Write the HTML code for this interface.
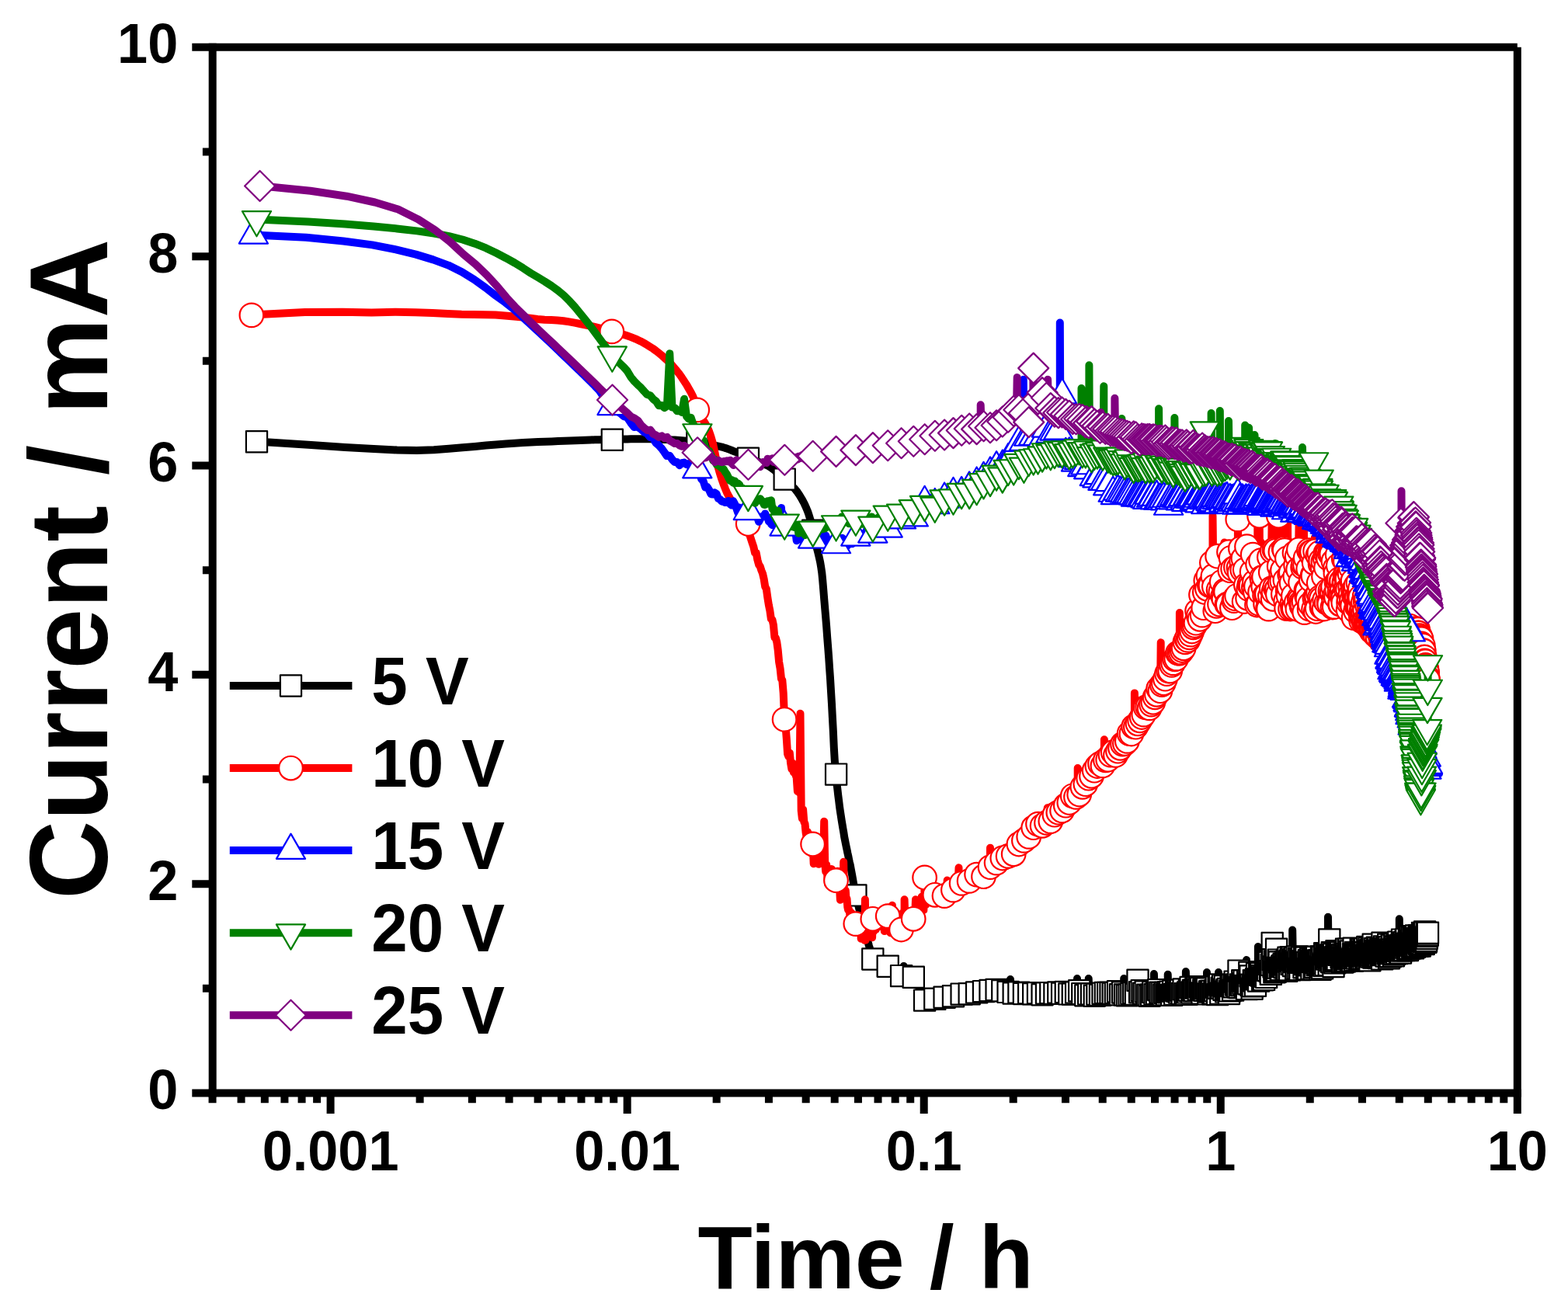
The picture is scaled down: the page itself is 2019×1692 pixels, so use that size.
<!DOCTYPE html>
<html lang="en"><head><meta charset="utf-8"><title>Current vs Time</title>
<style>html,body{margin:0;padding:0;background:#fff;overflow:hidden}svg{display:block}text{font-family:"Liberation Sans", sans-serif;font-weight:bold;fill:#000}</style>
</head><body>
<svg width="2019" height="1692" viewBox="0 0 2019 1692" role="img" aria-label="Current versus time at 5 to 25 V">
<rect width="2019" height="1692" fill="#fff"/>
<defs>
<marker id="m0" markerUnits="userSpaceOnUse" markerWidth="60" markerHeight="60" refX="30" refY="30" viewBox="0 0 60 60" orient="0"><g transform="translate(30 30)" fill="#fff" stroke="#000000" stroke-width="2.2" stroke-linejoin="round"><rect x="-13.6" y="-13.6" width="27.2" height="27.2"/></g></marker>
<marker id="m1" markerUnits="userSpaceOnUse" markerWidth="60" markerHeight="60" refX="30" refY="30" viewBox="0 0 60 60" orient="0"><g transform="translate(30 30)" fill="#fff" stroke="#ff0000" stroke-width="2.2" stroke-linejoin="round"><circle r="15.3"/></g></marker>
<marker id="m2" markerUnits="userSpaceOnUse" markerWidth="60" markerHeight="60" refX="30" refY="30" viewBox="0 0 60 60" orient="0"><g transform="translate(30 30)" fill="#fff" stroke="#0000ff" stroke-width="2.2" stroke-linejoin="round"><path d="M0 -21.48 L18.60 10.74 H-18.60 Z"/></g></marker>
<marker id="m3" markerUnits="userSpaceOnUse" markerWidth="60" markerHeight="60" refX="30" refY="30" viewBox="0 0 60 60" orient="0"><g transform="translate(30 30)" fill="#fff" stroke="#008000" stroke-width="2.2" stroke-linejoin="round"><path d="M0 21.48 L18.60 -10.74 H-18.60 Z"/></g></marker>
<marker id="m4" markerUnits="userSpaceOnUse" markerWidth="60" markerHeight="60" refX="30" refY="30" viewBox="0 0 60 60" orient="0"><g transform="translate(30 30)" fill="#fff" stroke="#800080" stroke-width="2.2" stroke-linejoin="round"><path d="M0 -19.5 L19.5 0 L0 19.5 L-19.5 0 Z"/></g></marker>
</defs>
<g fill="none" stroke-linejoin="round" stroke-linecap="round">
<path d="M330.5,568.5 397.0,572.8 444.3,576.0 481.1,578.1 511.2,579.5 536.6,580.0 558.7,579.2 578.2,577.8 595.6,576.3 611.4,575.0 625.8,573.6 639.0,572.4 651.3,571.4 662.7,570.7 673.4,570.1 683.5,569.6 692.9,569.1 701.9,568.7 710.4,568.4 718.5,568.1 726.2,567.8 733.5,567.5 740.6,567.2 747.3,567.0 753.8,566.7 760.1,566.5 766.1,566.3 771.9,566.2 777.6,566.0 783.0,565.9 788.3,566.0 793.4,565.7 798.3,565.6 803.1,565.5 807.8,565.4 812.3,565.3 816.8,565.3 821.1,565.2 825.3,565.2 829.4,565.2 833.3,565.2 837.2,565.3 841.1,565.4 844.8,565.5 848.4,565.6 852.0,565.7 855.5,565.9 858.9,566.1 862.3,566.2 865.5,566.4 868.8,566.6 871.9,566.8 875.0,567.0 878.1,567.2 881.0,567.4 884.0,567.7 886.9,567.9 889.7,568.3 892.5,568.6 895.2,569.0 897.9,569.4 900.6,569.8 903.2,570.2 905.8,570.7 908.3,571.1 910.8,571.6 913.2,572.1 915.7,572.6 918.1,573.1 920.4,573.6 922.7,574.1 925.0,574.6 927.3,575.1 929.5,575.6 931.7,576.3 933.9,576.9 936.0,577.6 938.1,578.4 940.2,579.2 942.3,580.0 944.3,580.8 946.3,581.6 948.3,582.4 950.3,583.3 952.2,584.3 954.1,585.3 956.0,586.3 957.9,587.3 959.7,588.3 961.6,589.2 963.4,590.0 965.2,590.8 967.0,591.5 968.7,592.1 970.4,592.7 972.2,593.3 973.9,593.9 975.5,594.4 977.2,595.0 978.9,595.6 980.5,596.2 982.1,596.8 983.7,597.4 985.3,598.1 986.9,598.8 988.4,599.6 990.0,600.4 991.5,601.3 993.0,602.3 994.5,603.4 996.0,604.5 997.5,605.7 998.9,606.9 1000.4,608.2 1001.8,609.4 1003.3,610.7 1004.7,612.0 1006.1,613.3 1007.5,614.6 1008.8,615.8 1010.2,616.8 1011.6,618.3 1012.9,619.4 1014.2,620.6 1015.6,621.8 1016.9,623.0 1018.2,624.2 1019.5,625.5 1020.7,626.7 1022.0,628.0 1023.3,629.3 1024.5,630.7 1025.8,632.4 1027.0,633.9 1028.2,635.7 1029.4,637.5 1030.6,639.5 1031.8,641.5 1033.0,643.6 1034.2,645.7 1035.4,648.0 1036.5,650.4 1037.7,653.0 1038.8,655.6 1040.0,658.5 1041.1,661.6 1042.2,665.2 1043.4,669.1 1044.5,673.3 1045.6,678.0 1046.7,682.9 1047.8,687.9 1048.8,692.8 1049.9,697.4 1051.0,701.9 1052.0,706.5 1053.1,710.6 1054.1,714.9 1055.2,719.6 1056.2,724.3 1057.2,730.3 1058.3,737.8 1059.3,748.1 1060.3,760.0 1061.3,772.5 1062.3,784.4 1063.3,796.0 1064.3,808.3 1065.2,820.8 1066.2,833.7 1067.2,846.8 1068.1,860.5 1069.1,874.8 1070.0,890.1 1071.0,906.7 1071.9,924.1 1072.9,942.5 1073.8,962.6 1074.7,977.9 1075.6,989.8 1076.6,996.8 1077.5,1009.0 1078.4,1016.7 1079.3,1024.6 1080.2,1031.6 1081.0,1038.3 1081.9,1044.7 1082.8,1050.6 1083.7,1056.5 1084.6,1061.8 1085.4,1066.8 1086.3,1071.8 1087.1,1077.2 1088.0,1081.8 1088.8,1085.9 1089.7,1090.2 1090.5,1094.0 1091.4,1098.5 1092.2,1102.0 1093.0,1106.1 1093.8,1110.1 1094.7,1113.5 1095.5,1117.8 1096.3,1122.1 1097.1,1126.4 1097.9,1130.8 1098.7,1135.6 1099.5,1140.1 1100.3,1144.5 1101.1,1148.6 1101.9,1152.6 1102.6,1155.7 1103.4,1159.3 1104.2,1162.1 1105.0,1164.8 1105.7,1167.9 1106.5,1171.2 1107.3,1174.0 1108.0,1176.4 1108.8,1179.3 1109.5,1181.9 1110.3,1184.8 1111.0,1187.6 1111.7,1189.8 1112.5,1192.9 1113.2,1195.5 1113.9,1198.3 1114.7,1200.8 1115.4,1203.4 1116.1,1206.2 1116.8,1209.5 1117.5,1212.7 1118.2,1215.2 1119.0,1218.1 1119.7,1220.4 1120.4,1222.5 1121.1,1226.0 1121.8,1229.5 1122.4,1232.3 1123.1,1234.3 1123.8,1234.7 1124.5,1235.6 1125.2,1235.8 1125.9,1236.5 1126.5,1237.1 1127.2,1237.6 1127.9,1238.4 1128.6,1239.2 1129.2,1239.1 1129.9,1239.5 1130.5,1239.9 1131.2,1240.2 1131.9,1240.5 1132.5,1240.3 1133.2,1240.7 1133.8,1241.4 1134.4,1241.4 1135.1,1241.0 1135.7,1241.3 1136.4,1241.8 1137.0,1241.8 1137.6,1241.6 1138.3,1242.3 1138.9,1241.9 1139.5,1242.3 1140.1,1242.5 1140.8,1242.3 1141.4,1243.2 1142.0,1243.5 1142.6,1243.3 1143.2,1243.9 1143.8,1244.2 1144.4,1244.0 1145.0,1244.5 1145.6,1245.4 1146.5,1246.2 1146.5,1246.7 1147.7,1247.2 1147.7,1247.8 1148.9,1248.2 1148.9,1249.1 1150.1,1249.5 1150.1,1250.1 1151.2,1250.7 1152.4,1251.1 1152.4,1252.3 1153.6,1252.9 1154.7,1253.6 1155.8,1254.4 1157.0,1254.9 1158.1,1255.8 1159.2,1255.6 1160.3,1256.1 1161.4,1256.0 1161.4,1256.5 1162.5,1258.0 1162.5,1256.9 1163.6,1257.0 1163.6,1244.0 1164.6,1256.9 1164.6,1256.2 1165.7,1256.2 1165.7,1256.8 1166.8,1256.9 1166.8,1257.6 1167.8,1257.1 1168.9,1258.3 1168.9,1257.4 1169.9,1257.0 1170.9,1257.2 1170.9,1257.6 1172.0,1257.4 1173.0,1257.4 1173.0,1258.6 1174.0,1258.6 1174.0,1257.1 1175.0,1257.4 1176.0,1258.0 1177.0,1259.1 1177.0,1259.6 1178.0,1260.2 1178.0,1260.6 1179.0,1261.2 1179.0,1262.2 1180.0,1263.6 1180.0,1264.6 1181.0,1265.4 1181.0,1267.0 1181.9,1268.0 1181.9,1269.1 1182.9,1269.9 1182.9,1271.1 1183.9,1272.3 1184.8,1274.7 1184.8,1276.2 1185.7,1277.3 1185.7,1279.2 1186.7,1280.7 1186.7,1282.2 1187.6,1282.5 1187.6,1284.2 1188.6,1286.0 1188.6,1287.6 1189.5,1288.9 1190.4,1287.8 1191.3,1287.6 1192.2,1288.0 1193.1,1287.8 1193.1,1287.0 1194.0,1287.4 1194.9,1287.6 1195.8,1287.5 1196.7,1287.5 1197.6,1287.6 1197.6,1287.0 1198.5,1286.7 1198.5,1287.6 1199.3,1287.3 1200.2,1287.2 1200.2,1286.7 1201.1,1286.4 1201.9,1286.7 1202.8,1285.9 1203.6,1286.0 1204.5,1285.4 1204.5,1285.9 1205.3,1285.8 1206.2,1285.9 1207.0,1286.4 1207.8,1286.0 1208.6,1285.5 1209.5,1285.4 1209.5,1284.8 1210.3,1284.9 1211.1,1285.4 1211.9,1284.8 1211.9,1285.6 1212.7,1285.7 1213.5,1285.5 1213.5,1284.9 1214.3,1284.5 1215.1,1284.5 1215.9,1283.7 1216.7,1283.5 1217.4,1283.0 1218.2,1283.5 1219.0,1282.8 1219.0,1283.5 1219.8,1284.5 1219.8,1283.4 1220.5,1284.3 1220.5,1283.5 1221.3,1283.2 1222.1,1282.5 1222.1,1283.5 1222.8,1283.3 1222.8,1282.7 1223.6,1282.8 1223.6,1282.3 1224.3,1282.3 1224.3,1283.0 1225.1,1282.1 1225.8,1282.2 1225.8,1282.7 1226.6,1283.4 1226.6,1282.8 1227.3,1282.4 1228.0,1282.3 1228.8,1282.9 1229.5,1282.8 1229.5,1282.3 1230.2,1282.4 1230.2,1281.2 1230.9,1281.7 1230.9,1280.8 1231.6,1281.9 1232.4,1281.4 1233.1,1279.8 1233.1,1280.9 1233.8,1281.5 1233.8,1280.6 1234.5,1280.8 1234.5,1281.6 1235.2,1280.5 1235.9,1281.0 1236.6,1281.0 1236.6,1280.5 1237.3,1280.0 1238.0,1280.5 1238.0,1279.8 1238.6,1280.8 1238.6,1280.1 1239.3,1279.2 1239.3,1279.7 1240.0,1279.3 1240.7,1278.7 1240.7,1279.4 1241.4,1279.4 1242.0,1279.4 1242.0,1278.7 1242.7,1280.1 1243.4,1280.0 1243.4,1278.6 1244.0,1279.6 1244.7,1279.8 1245.4,1279.2 1246.0,1278.8 1246.0,1279.2 1246.7,1278.7 1247.3,1279.6 1248.0,1279.0 1248.0,1279.4 1248.6,1279.3 1248.6,1278.6 1249.3,1278.5 1249.3,1279.2 1249.9,1278.8 1249.9,1277.8 1250.6,1278.8 1250.6,1278.0 1251.2,1277.3 1251.2,1276.8 1251.8,1277.8 1251.8,1278.9 1252.5,1279.4 1252.5,1278.3 1253.1,1276.7 1253.7,1276.5 1254.4,1277.8 1255.0,1277.5 1255.6,1276.8 1255.6,1277.5 1256.2,1277.8 1256.8,1278.2 1256.8,1277.4 1257.4,1277.6 1258.1,1276.9 1258.1,1277.6 1258.7,1277.3 1258.7,1276.3 1259.3,1276.7 1259.3,1277.8 1259.9,1278.1 1259.9,1276.7 1260.5,1276.5 1261.2,1276.1 1261.2,1277.8 1262.1,1276.5 1262.1,1275.9 1263.0,1277.4 1263.0,1276.2 1263.9,1275.9 1263.9,1276.3 1264.8,1276.4 1264.8,1275.8 1265.7,1275.2 1265.7,1276.5 1266.5,1275.5 1266.5,1277.5 1267.4,1276.3 1267.4,1277.0 1268.3,1275.0 1268.3,1275.6 1269.1,1275.7 1269.1,1274.5 1270.0,1275.6 1270.0,1274.6 1270.8,1276.4 1271.7,1276.0 1271.7,1274.3 1272.5,1274.0 1272.5,1273.0 1273.4,1274.8 1273.4,1276.9 1274.2,1274.7 1274.2,1275.7 1275.0,1274.4 1275.0,1275.2 1275.8,1274.1 1275.8,1274.6 1276.7,1275.9 1276.7,1277.1 1277.5,1275.2 1277.5,1274.4 1278.3,1276.4 1278.3,1274.1 1279.1,1275.2 1279.1,1274.6 1279.9,1275.7 1279.9,1273.8 1280.7,1274.9 1280.7,1272.9 1281.5,1272.4 1281.5,1274.1 1282.3,1274.1 1282.3,1273.6 1283.1,1275.1 1283.1,1274.2 1283.9,1275.1 1283.9,1275.7 1284.7,1275.0 1284.7,1273.3 1285.4,1273.9 1285.4,1273.1 1286.2,1273.7 1286.2,1276.5 1287.0,1275.4 1287.0,1274.2 1287.7,1272.2 1288.5,1274.0 1288.5,1275.0 1289.3,1275.9 1289.3,1273.3 1290.0,1273.1 1290.0,1274.0 1290.8,1272.7 1290.8,1275.5 1291.5,1276.3 1291.5,1273.9 1292.3,1273.4 1292.3,1275.9 1293.0,1273.6 1293.0,1275.3 1293.8,1274.3 1293.8,1273.6 1294.5,1273.2 1294.5,1272.2 1295.2,1273.8 1295.2,1275.2 1296.0,1276.1 1296.0,1275.5 1296.7,1276.9 1296.7,1275.8 1297.4,1276.2 1298.1,1276.0 1298.1,1277.1 1298.9,1275.8 1298.9,1274.5 1299.6,1276.2 1300.3,1276.5 1300.3,1278.2 1301.0,1278.0 1301.0,1261.0 1301.7,1275.2 1301.7,1276.0 1302.4,1274.3 1302.4,1274.9 1303.1,1275.5 1303.1,1276.7 1303.8,1277.4 1303.8,1275.0 1304.5,1277.7 1304.5,1276.3 1305.2,1279.4 1305.2,1277.5 1305.9,1278.1 1306.5,1278.4 1306.5,1277.5 1307.2,1277.1 1307.2,1279.2 1307.9,1276.1 1307.9,1277.8 1308.6,1278.9 1308.6,1277.2 1309.3,1278.0 1309.3,1277.1 1309.9,1277.5 1309.9,1278.7 1310.6,1278.8 1310.6,1276.2 1311.3,1277.5 1311.3,1278.1 1311.9,1278.0 1311.9,1277.6 1312.6,1277.6 1312.6,1279.5 1313.2,1279.8 1313.2,1276.5 1313.9,1276.7 1313.9,1278.6 1314.6,1280.3 1314.6,1277.8 1315.2,1279.7 1315.2,1278.1 1315.9,1280.5 1315.9,1279.7 1316.5,1276.7 1316.5,1279.2 1317.1,1278.5 1317.1,1279.6 1317.8,1279.8 1317.8,1279.4 1318.4,1278.3 1318.4,1279.2 1319.1,1280.2 1319.1,1277.1 1319.7,1278.0 1319.7,1279.4 1320.3,1279.8 1320.3,1279.2 1320.9,1279.4 1321.6,1279.6 1321.6,1281.2 1322.2,1279.8 1322.2,1278.5 1322.8,1279.8 1323.4,1277.8 1323.4,1280.8 1324.1,1278.6 1324.1,1277.8 1324.7,1276.8 1324.7,1278.4 1325.3,1277.9 1325.3,1278.6 1325.9,1281.0 1325.9,1279.9 1326.5,1280.5 1326.5,1279.1 1327.1,1280.9 1327.1,1281.5 1327.7,1280.4 1327.7,1279.1 1328.4,1280.3 1328.4,1279.2 1329.2,1280.2 1329.2,1281.2 1330.0,1278.9 1330.0,1280.8 1330.8,1280.5 1330.8,1278.5 1331.6,1280.3 1331.6,1279.0 1332.4,1280.2 1332.4,1279.0 1333.1,1276.7 1333.1,1278.5 1333.9,1278.5 1333.9,1279.1 1334.7,1279.9 1334.7,1280.6 1335.4,1280.1 1335.4,1277.9 1336.2,1277.6 1336.2,1279.5 1337.0,1277.7 1337.0,1280.7 1337.7,1281.3 1337.7,1280.9 1338.5,1280.8 1338.5,1278.4 1339.2,1278.9 1339.2,1279.8 1340.0,1280.6 1340.0,1281.5 1340.7,1278.1 1340.7,1277.2 1341.5,1279.6 1341.5,1277.2 1342.2,1279.3 1342.2,1282.8 1342.9,1281.9 1342.9,1276.9 1343.7,1277.1 1343.7,1281.3 1344.4,1281.5 1344.4,1278.6 1345.1,1280.0 1345.1,1278.6 1345.8,1276.8 1345.8,1277.4 1346.6,1279.8 1346.6,1276.6 1347.3,1276.9 1347.3,1280.0 1348.0,1281.3 1348.0,1277.6 1348.7,1278.7 1348.7,1279.9 1349.4,1280.3 1349.4,1278.9 1350.1,1276.9 1350.1,1281.4 1350.8,1279.5 1350.8,1277.2 1351.5,1279.7 1351.5,1282.1 1352.2,1281.7 1352.2,1280.2 1352.9,1278.0 1352.9,1279.3 1353.6,1279.8 1353.6,1276.4 1354.3,1277.4 1354.3,1281.1 1354.9,1279.5 1354.9,1280.2 1355.6,1277.4 1355.6,1278.3 1356.3,1281.1 1356.3,1279.3 1357.0,1280.7 1357.0,1276.5 1357.6,1276.9 1357.6,1279.1 1358.3,1280.8 1358.3,1279.1 1359.0,1280.3 1359.0,1281.5 1359.6,1280.0 1359.6,1279.1 1360.3,1280.6 1360.3,1281.2 1361.0,1281.1 1361.0,1276.0 1361.6,1279.8 1361.6,1281.1 1362.3,1277.5 1362.3,1279.9 1362.9,1280.3 1362.9,1277.2 1363.6,1277.0 1363.6,1279.8 1364.2,1277.0 1364.2,1277.6 1364.8,1278.7 1364.8,1281.5 1365.5,1278.0 1365.5,1276.4 1366.1,1279.3 1366.1,1280.3 1366.8,1276.8 1366.8,1280.9 1367.4,1280.7 1367.4,1277.7 1368.0,1277.1 1368.0,1276.0 1368.7,1276.9 1368.7,1281.1 1369.3,1278.6 1369.3,1280.1 1369.9,1276.1 1369.9,1277.7 1370.5,1280.6 1370.5,1278.3 1371.1,1283.0 1371.1,1279.7 1371.8,1281.7 1371.8,1277.1 1372.4,1277.2 1372.4,1281.0 1373.0,1279.8 1373.0,1277.0 1373.6,1280.7 1373.6,1279.1 1374.2,1277.8 1374.2,1280.1 1374.8,1279.7 1374.8,1276.5 1375.4,1277.5 1375.4,1279.1 1376.1,1280.2 1376.1,1276.9 1376.8,1275.9 1376.8,1280.3 1377.6,1277.7 1377.6,1280.2 1378.3,1279.3 1378.3,1281.3 1379.1,1277.8 1379.1,1277.3 1379.8,1277.2 1379.8,1280.4 1380.5,1282.6 1380.5,1279.9 1381.3,1280.4 1381.3,1278.2 1382.0,1277.7 1382.0,1280.6 1382.7,1280.3 1382.7,1276.9 1383.4,1279.3 1383.4,1277.0 1384.1,1279.3 1384.1,1280.7 1384.8,1280.3 1384.8,1276.7 1385.6,1278.5 1385.6,1275.3 1386.3,1276.4 1386.3,1281.1 1387.0,1280.4 1387.0,1260.0 1387.7,1279.6 1387.7,1276.9 1388.4,1280.9 1388.4,1276.5 1389.1,1281.0 1389.1,1277.7 1389.7,1279.8 1389.7,1275.5 1390.4,1277.9 1390.4,1279.9 1391.1,1279.9 1391.1,1277.7 1391.8,1278.8 1391.8,1275.6 1392.5,1276.6 1392.5,1280.5 1393.2,1281.1 1393.2,1279.7 1393.8,1280.1 1393.8,1277.0 1394.5,1278.7 1394.5,1281.7 1395.2,1276.8 1395.2,1280.4 1395.8,1280.5 1395.8,1279.3 1396.5,1278.9 1396.5,1280.9 1397.2,1277.1 1397.2,1280.8 1397.8,1281.4 1397.8,1277.5 1398.5,1276.4 1398.5,1280.7 1399.1,1279.3 1399.1,1275.7 1399.8,1278.2 1399.8,1276.5 1400.4,1277.7 1400.4,1279.9 1401.1,1281.9 1401.1,1280.7 1401.7,1280.6 1401.7,1260.0 1402.4,1281.6 1402.4,1278.3 1403.0,1276.2 1403.0,1280.6 1403.6,1276.3 1403.6,1281.4 1404.3,1281.1 1404.3,1276.2 1404.9,1280.4 1404.9,1281.7 1405.5,1280.2 1405.5,1276.4 1406.2,1278.0 1406.2,1279.6 1406.8,1278.1 1406.8,1280.8 1407.4,1278.5 1407.4,1280.1 1408.0,1279.3 1408.0,1275.7 1408.6,1279.4 1408.6,1277.1 1409.3,1280.0 1409.3,1281.9 1409.9,1276.6 1409.9,1281.0 1410.5,1276.2 1410.5,1280.9 1411.1,1276.3 1411.1,1279.8 1411.7,1279.6 1411.7,1275.0 1412.3,1282.3 1412.3,1276.2 1412.9,1282.2 1412.9,1277.3 1413.6,1280.1 1413.6,1276.0 1414.3,1275.8 1414.3,1278.2 1415.0,1277.5 1415.0,1276.3 1415.7,1279.9 1415.7,1277.3 1416.4,1280.9 1416.4,1277.8 1417.1,1280.1 1417.1,1276.2 1417.8,1275.7 1417.8,1277.5 1418.5,1277.5 1418.5,1282.7 1419.2,1282.1 1419.2,1279.1 1419.9,1280.4 1419.9,1276.5 1420.6,1280.2 1420.6,1275.5 1421.3,1277.1 1421.3,1279.8 1422.0,1281.9 1422.0,1279.1 1422.6,1281.7 1422.6,1280.3 1423.3,1276.5 1423.3,1278.5 1424.0,1278.5 1424.0,1281.0 1424.7,1277.2 1424.7,1280.0 1425.3,1281.0 1425.3,1275.4 1426.0,1275.0 1426.0,1277.5 1426.7,1275.9 1426.7,1279.1 1427.3,1280.2 1427.3,1276.5 1428.0,1280.5 1428.0,1278.5 1428.6,1278.0 1428.6,1281.6 1429.3,1281.9 1429.3,1277.6 1429.9,1279.2 1429.9,1275.5 1430.6,1275.9 1430.6,1277.4 1431.2,1279.2 1431.2,1275.5 1431.9,1279.7 1431.9,1276.0 1432.5,1279.3 1432.5,1276.8 1433.2,1280.0 1433.2,1276.8 1433.8,1280.9 1433.8,1275.1 1434.4,1275.4 1434.4,1279.2 1435.1,1279.0 1435.1,1275.4 1435.7,1277.7 1435.7,1280.6 1436.3,1277.0 1436.3,1280.8 1436.9,1281.9 1436.9,1277.2 1437.6,1281.4 1437.6,1276.3 1438.2,1276.9 1438.2,1280.4 1438.8,1279.2 1438.8,1282.1 1439.4,1276.3 1439.4,1279.2 1440.0,1279.8 1440.0,1281.5 1440.6,1276.8 1440.6,1281.4 1441.2,1277.8 1441.2,1281.1 1441.9,1278.8 1441.9,1281.7 1442.5,1280.5 1442.5,1275.4 1443.1,1280.9 1443.1,1275.9 1443.7,1275.9 1443.7,1280.5 1444.4,1280.8 1444.4,1275.2 1445.1,1274.7 1445.1,1279.3 1445.8,1276.8 1445.8,1281.2 1446.5,1278.4 1446.5,1274.4 1447.2,1279.6 1447.2,1260.0 1447.8,1280.0 1447.8,1277.5 1448.5,1281.8 1448.5,1280.2 1449.2,1280.1 1449.2,1277.4 1449.9,1275.5 1449.9,1279.6 1450.5,1278.1 1450.5,1281.2 1451.2,1279.6 1451.2,1281.4 1451.9,1280.7 1451.9,1277.8 1452.5,1278.6 1452.5,1275.2 1453.2,1280.5 1453.2,1275.1 1453.9,1280.6 1453.9,1278.3 1454.5,1281.6 1454.5,1278.6 1455.2,1279.0 1455.2,1275.3 1455.8,1276.7 1455.8,1279.9 1456.5,1276.6 1456.5,1281.9 1457.1,1279.2 1457.1,1275.3 1457.8,1274.0 1457.8,1281.2 1458.4,1279.3 1458.4,1274.2 1459.0,1281.2 1459.0,1279.5 1459.7,1274.3 1459.7,1280.8 1460.3,1275.1 1460.3,1278.1 1460.9,1274.8 1460.9,1279.8 1461.6,1280.7 1461.6,1277.4 1462.2,1281.6 1462.2,1276.1 1462.8,1281.4 1462.8,1275.8 1463.4,1281.8 1463.4,1276.0 1464.0,1274.9 1464.0,1280.8 1464.7,1276.2 1464.7,1281.2 1465.3,1262.0 1465.3,1282.3 1465.9,1279.5 1465.9,1276.1 1466.5,1278.4 1466.5,1280.3 1467.1,1274.8 1467.1,1276.1 1467.7,1273.2 1467.7,1279.5 1468.3,1282.4 1468.3,1274.0 1469.0,1277.0 1469.0,1280.8 1469.6,1280.8 1469.6,1275.7 1470.3,1281.7 1470.3,1275.3 1471.0,1277.6 1471.0,1281.5 1471.7,1276.2 1471.7,1280.9 1472.3,1282.1 1472.3,1275.9 1473.0,1276.8 1473.0,1281.1 1473.7,1281.2 1473.7,1277.2 1474.3,1276.0 1474.3,1282.2 1475.0,1275.3 1475.0,1281.1 1475.7,1276.3 1475.7,1281.9 1476.3,1281.1 1476.3,1274.0 1477.0,1274.3 1477.0,1282.2 1477.6,1273.3 1477.6,1281.8 1478.3,1281.3 1478.3,1274.8 1478.9,1276.5 1478.9,1281.0 1479.6,1275.5 1479.6,1279.1 1480.2,1281.9 1480.2,1277.2 1480.9,1273.8 1480.9,1280.9 1481.5,1272.7 1481.5,1277.9 1482.1,1281.9 1482.1,1274.8 1482.8,1280.0 1482.8,1282.1 1483.4,1280.2 1483.4,1273.6 1484.0,1275.8 1484.0,1282.7 1484.6,1280.6 1484.6,1275.2 1485.3,1274.6 1485.3,1280.2 1485.9,1278.8 1485.9,1254.0 1486.5,1274.6 1486.5,1281.0 1487.1,1274.6 1487.1,1282.0 1487.7,1281.5 1487.7,1279.0 1488.3,1281.5 1488.3,1275.5 1488.9,1282.0 1488.9,1275.9 1489.5,1275.6 1489.5,1281.8 1490.2,1279.4 1490.2,1275.8 1490.8,1281.6 1490.8,1276.0 1491.4,1273.7 1491.4,1278.8 1492.1,1272.9 1492.1,1279.4 1492.7,1281.5 1492.7,1274.7 1493.4,1280.7 1493.4,1272.2 1494.1,1275.9 1494.1,1283.2 1494.7,1281.6 1494.7,1278.7 1495.4,1282.6 1495.4,1274.3 1496.0,1279.6 1496.0,1276.5 1496.7,1273.7 1496.7,1279.5 1497.3,1282.0 1497.3,1274.4 1498.0,1275.5 1498.0,1282.7 1498.6,1281.0 1498.6,1273.2 1499.3,1274.6 1499.3,1281.2 1499.9,1280.0 1499.9,1274.9 1500.6,1280.2 1500.6,1275.4 1501.2,1282.1 1501.2,1273.4 1501.8,1279.8 1501.8,1272.4 1502.5,1280.4 1502.5,1273.0 1503.1,1282.1 1503.1,1273.8 1503.7,1281.0 1503.7,1254.7 1504.3,1274.6 1504.3,1281.3 1505.0,1274.7 1505.0,1281.8 1505.6,1282.2 1505.6,1271.6 1506.2,1280.8 1506.2,1271.3 1506.8,1273.3 1506.8,1276.9 1507.4,1272.5 1507.4,1281.3 1508.0,1272.8 1508.0,1280.2 1508.6,1281.0 1508.6,1274.4 1509.2,1280.1 1509.2,1275.3 1509.8,1273.1 1509.8,1280.9 1510.5,1280.6 1510.5,1272.9 1511.1,1282.0 1511.1,1274.9 1511.7,1281.5 1511.7,1275.7 1512.4,1281.6 1512.4,1274.6 1513.1,1273.0 1513.1,1281.7 1513.7,1283.4 1513.7,1276.2 1514.4,1279.2 1514.4,1271.1 1515.0,1281.3 1515.0,1273.3 1515.7,1279.8 1515.7,1272.8 1516.3,1273.0 1516.3,1278.9 1517.0,1274.2 1517.0,1279.2 1517.6,1281.7 1517.6,1274.3 1518.2,1281.9 1518.2,1273.4 1518.9,1272.9 1518.9,1280.4 1519.5,1272.5 1519.5,1280.2 1520.1,1282.9 1520.1,1273.6 1520.8,1274.9 1520.8,1280.8 1521.4,1279.5 1521.4,1272.5 1522.0,1282.0 1522.0,1273.7 1522.6,1281.1 1522.6,1275.6 1523.2,1274.1 1523.2,1279.4 1523.9,1280.2 1523.9,1273.6 1524.5,1281.4 1524.5,1277.0 1525.1,1282.4 1525.1,1275.0 1525.7,1281.8 1525.7,1276.2 1526.3,1275.5 1526.3,1281.2 1526.9,1281.8 1526.9,1251.0 1527.5,1281.8 1527.5,1273.9 1528.1,1282.3 1528.1,1275.2 1528.8,1281.8 1528.8,1274.1 1529.5,1271.4 1529.5,1281.3 1530.1,1270.3 1530.1,1279.0 1530.8,1281.0 1530.8,1272.8 1531.4,1271.6 1531.4,1280.7 1532.1,1281.9 1532.1,1274.7 1532.7,1275.6 1532.7,1282.6 1533.3,1271.2 1533.3,1279.3 1534.0,1271.0 1534.0,1280.5 1534.6,1275.7 1534.6,1280.9 1535.2,1280.5 1535.2,1273.2 1535.9,1273.1 1535.9,1281.7 1536.5,1272.1 1536.5,1278.8 1537.1,1272.7 1537.1,1280.8 1537.8,1271.1 1537.8,1280.6 1538.4,1280.5 1538.4,1271.4 1539.0,1280.1 1539.0,1272.1 1539.6,1270.1 1539.6,1279.5 1540.2,1273.0 1540.2,1270.4 1540.8,1272.1 1540.8,1281.3 1541.4,1281.9 1541.4,1271.4 1542.1,1272.6 1542.1,1280.8 1542.7,1271.2 1542.7,1279.8 1543.3,1280.4 1543.3,1271.7 1543.9,1269.8 1543.9,1281.2 1544.5,1271.7 1544.5,1279.9 1545.2,1270.5 1545.2,1280.5 1545.8,1279.5 1545.8,1271.1 1546.5,1270.9 1546.5,1280.0 1547.1,1271.0 1547.1,1280.1 1547.8,1269.7 1547.8,1279.3 1548.4,1281.2 1548.4,1272.3 1549.0,1274.6 1549.0,1280.9 1549.7,1279.1 1549.7,1270.2 1550.3,1279.8 1550.3,1269.1 1550.9,1270.0 1550.9,1279.8 1551.6,1277.9 1551.6,1269.3 1552.2,1269.1 1552.2,1281.6 1552.8,1277.8 1552.8,1269.9 1553.4,1280.1 1553.4,1269.1 1554.0,1280.5 1554.0,1252.0 1554.7,1270.0 1554.7,1279.2 1555.3,1280.1 1555.3,1269.4 1555.9,1273.2 1555.9,1280.2 1556.5,1280.0 1556.5,1270.2 1557.1,1269.0 1557.1,1280.7 1557.7,1279.9 1557.7,1270.4 1558.3,1279.9 1558.3,1271.3 1559.0,1280.4 1559.0,1268.7 1559.6,1269.9 1559.6,1280.5 1560.3,1268.0 1560.3,1279.7 1560.9,1279.5 1560.9,1269.5 1561.5,1270.9 1561.5,1280.4 1562.2,1279.9 1562.2,1274.4 1562.8,1277.7 1562.8,1269.2 1563.4,1268.9 1563.4,1279.8 1564.1,1267.1 1564.1,1280.5 1564.7,1279.6 1564.7,1268.5 1565.3,1280.8 1565.3,1270.4 1565.9,1266.5 1565.9,1277.6 1566.6,1277.2 1566.6,1267.7 1567.2,1267.1 1567.2,1276.1 1567.8,1267.3 1567.8,1280.3 1568.4,1280.6 1568.4,1269.7 1569.0,1277.3 1569.0,1252.0 1569.6,1273.1 1569.6,1280.0 1570.2,1278.3 1570.2,1266.8 1570.8,1266.5 1570.8,1281.1 1571.4,1279.2 1571.4,1268.1 1572.1,1279.8 1572.1,1268.4 1572.7,1265.9 1572.7,1279.3 1573.3,1279.6 1573.3,1266.0 1574.0,1265.8 1574.0,1278.2 1574.6,1265.9 1574.6,1280.0 1575.2,1266.9 1575.2,1277.9 1575.9,1279.2 1575.9,1266.1 1576.5,1266.8 1576.5,1279.4 1577.1,1265.4 1577.1,1274.2 1577.7,1277.4 1577.7,1264.8 1578.4,1266.6 1578.4,1278.6 1579.0,1265.9 1579.0,1278.8 1579.6,1265.0 1579.6,1278.8 1580.2,1278.6 1580.2,1267.1 1580.8,1276.9 1580.8,1264.5 1581.4,1277.3 1581.4,1262.8 1582.0,1278.1 1582.0,1263.7 1582.7,1264.1 1582.7,1279.2 1583.3,1268.0 1583.3,1278.4 1583.9,1276.6 1583.9,1264.6 1584.5,1264.0 1584.5,1278.5 1585.2,1276.7 1585.2,1265.3 1585.8,1266.1 1585.8,1278.7 1586.4,1276.3 1586.4,1263.4 1587.1,1275.5 1587.1,1262.9 1587.7,1276.5 1587.7,1262.6 1588.3,1263.1 1588.3,1276.4 1588.9,1274.5 1588.9,1261.5 1589.6,1261.3 1589.6,1275.8 1590.2,1262.5 1590.2,1275.9 1590.8,1276.2 1590.8,1263.8 1591.4,1273.6 1591.4,1261.0 1592.0,1276.8 1592.0,1264.1 1592.6,1276.8 1592.6,1266.9 1593.2,1276.3 1593.2,1264.5 1593.9,1273.6 1593.9,1261.6 1594.5,1260.7 1594.5,1275.0 1595.1,1276.2 1595.1,1249.8 1595.7,1267.0 1595.7,1277.2 1596.3,1262.7 1596.3,1276.1 1597.0,1262.9 1597.0,1275.6 1597.6,1259.1 1597.6,1270.3 1598.2,1260.1 1598.2,1274.7 1598.8,1274.7 1598.8,1260.6 1599.5,1272.4 1599.5,1258.1 1600.1,1258.1 1600.1,1273.6 1600.7,1269.8 1600.7,1260.1 1601.3,1260.0 1601.3,1275.2 1601.9,1273.8 1601.9,1259.1 1602.6,1274.5 1602.6,1259.5 1603.2,1258.4 1603.2,1273.6 1603.8,1261.4 1603.8,1274.7 1604.4,1272.9 1604.4,1260.3 1605.0,1236.0 1605.0,1273.0 1605.6,1259.9 1605.6,1274.1 1606.2,1258.8 1606.2,1274.0 1606.8,1274.6 1606.8,1260.4 1607.5,1257.8 1607.5,1273.4 1608.1,1258.6 1608.1,1272.8 1608.7,1272.9 1608.7,1252.0 1609.4,1269.1 1609.4,1256.2 1610.0,1272.0 1610.0,1256.6 1610.6,1273.1 1610.6,1258.1 1611.2,1270.4 1611.2,1256.1 1611.8,1256.7 1611.8,1272.9 1612.5,1272.6 1612.5,1257.4 1613.1,1256.7 1613.1,1271.9 1613.7,1269.0 1613.7,1254.0 1614.3,1255.3 1614.3,1270.4 1614.9,1270.8 1614.9,1256.0 1615.5,1254.3 1615.5,1270.7 1616.1,1257.4 1616.1,1269.3 1616.7,1256.0 1616.7,1269.7 1617.4,1270.0 1617.4,1255.4 1618.0,1270.7 1618.0,1254.5 1618.6,1268.3 1618.6,1253.4 1619.3,1266.9 1619.3,1253.8 1619.9,1269.1 1619.9,1219.0 1620.5,1252.4 1620.5,1267.5 1621.1,1269.7 1621.1,1252.0 1621.7,1251.5 1621.7,1267.3 1622.3,1254.0 1622.3,1267.3 1623.0,1251.0 1623.0,1267.3 1623.6,1253.1 1623.6,1264.9 1624.2,1252.9 1624.2,1264.4 1624.8,1252.9 1624.8,1266.8 1625.4,1249.7 1625.4,1265.1 1626.0,1253.3 1626.0,1265.5 1626.6,1264.7 1626.6,1246.3 1627.2,1245.6 1627.2,1263.4 1627.9,1247.5 1627.9,1262.5 1628.5,1261.3 1628.5,1248.6 1629.1,1245.0 1629.1,1261.5 1629.7,1258.0 1629.7,1244.7 1630.4,1259.4 1630.4,1242.4 1631.0,1257.7 1631.0,1241.6 1631.6,1258.7 1631.6,1241.6 1632.2,1256.6 1632.2,1243.1 1632.8,1240.9 1632.8,1257.6 1633.4,1255.5 1633.4,1240.7 1634.0,1254.1 1634.0,1240.2 1634.6,1253.4 1634.6,1239.3 1635.3,1242.4 1635.3,1254.4 1635.9,1237.5 1635.9,1255.0 1636.5,1255.3 1636.5,1240.9 1637.1,1240.0 1637.1,1253.3 1637.7,1252.5 1637.7,1236.3 1638.4,1253.0 1638.4,1214.2 1639.0,1253.9 1639.0,1235.3 1639.6,1254.7 1639.6,1238.1 1640.2,1253.1 1640.2,1242.5 1640.8,1251.6 1640.8,1234.6 1641.4,1237.0 1641.4,1251.2 1642.0,1233.5 1642.0,1251.4 1642.6,1251.9 1642.6,1238.9 1643.2,1250.0 1643.2,1236.1 1643.9,1250.1 1643.9,1222.0 1644.5,1233.6 1644.5,1251.1 1645.1,1235.5 1645.1,1251.0 1645.7,1251.1 1645.7,1234.5 1646.4,1249.0 1646.4,1235.8 1647.0,1234.2 1647.0,1249.6 1647.6,1233.0 1647.6,1249.6 1648.2,1232.0 1648.2,1246.7 1648.8,1236.6 1648.8,1251.2 1649.4,1248.4 1649.4,1234.7 1650.0,1230.5 1650.0,1248.2 1650.6,1233.0 1650.6,1248.3 1651.2,1233.1 1651.2,1249.2 1651.9,1249.2 1651.9,1232.4 1652.5,1249.1 1652.5,1237.6 1653.1,1234.5 1653.1,1249.3 1653.7,1232.5 1653.7,1248.7 1654.4,1249.3 1654.4,1233.9 1655.0,1249.2 1655.0,1233.7 1655.6,1249.6 1655.6,1237.7 1656.2,1250.0 1656.2,1233.5 1656.8,1250.6 1656.8,1231.9 1657.4,1249.3 1657.4,1233.8 1658.0,1249.3 1658.0,1236.7 1658.6,1249.2 1658.6,1231.2 1659.2,1230.8 1659.2,1248.1 1659.8,1233.3 1659.8,1247.0 1660.5,1248.9 1660.5,1235.1 1661.1,1232.3 1661.1,1248.4 1661.7,1249.5 1661.7,1235.5 1662.3,1232.1 1662.3,1248.8 1662.9,1249.1 1662.9,1234.3 1663.5,1249.3 1663.5,1233.5 1664.2,1247.3 1664.2,1197.6 1664.8,1231.0 1664.8,1250.3 1665.4,1248.3 1665.4,1232.1 1666.0,1248.0 1666.0,1233.9 1666.6,1229.4 1666.6,1249.0 1667.2,1249.1 1667.2,1231.4 1667.8,1247.4 1667.8,1233.1 1668.4,1233.6 1668.4,1249.1 1669.1,1230.6 1669.1,1249.7 1669.7,1247.8 1669.7,1230.0 1670.3,1231.6 1670.3,1249.4 1670.9,1232.1 1670.9,1248.9 1671.5,1249.7 1671.5,1232.1 1672.1,1249.6 1672.1,1229.9 1672.7,1247.4 1672.7,1230.8 1673.3,1249.0 1673.3,1233.7 1673.9,1229.2 1673.9,1248.8 1674.6,1232.0 1674.6,1248.3 1675.2,1248.6 1675.2,1230.1 1675.8,1248.4 1675.8,1235.2 1676.4,1232.1 1676.4,1249.0 1677.0,1249.2 1677.0,1231.1 1677.6,1248.5 1677.6,1232.2 1678.2,1248.5 1678.2,1229.4 1678.9,1248.8 1678.9,1237.0 1679.5,1231.4 1679.5,1248.5 1680.1,1234.2 1680.1,1247.6 1680.7,1230.3 1680.7,1249.2 1681.3,1231.8 1681.3,1248.2 1681.9,1231.0 1681.9,1247.8 1682.5,1248.4 1682.5,1230.5 1683.2,1233.5 1683.2,1247.9 1683.8,1231.3 1683.8,1247.5 1684.4,1230.7 1684.4,1248.4 1685.0,1249.3 1685.0,1229.0 1685.6,1230.0 1685.6,1247.0 1686.2,1229.2 1686.2,1248.0 1686.8,1232.0 1686.8,1248.2 1687.4,1228.9 1687.4,1247.3 1688.0,1232.4 1688.0,1247.7 1688.7,1247.7 1688.7,1232.4 1689.3,1247.9 1689.3,1231.2 1689.9,1230.9 1689.9,1248.0 1690.5,1229.9 1690.5,1247.6 1691.1,1248.6 1691.1,1231.9 1691.7,1246.6 1691.7,1230.0 1692.3,1248.2 1692.3,1229.1 1692.9,1230.1 1692.9,1246.3 1693.5,1247.9 1693.5,1230.1 1694.2,1246.0 1694.2,1229.7 1694.8,1246.4 1694.8,1229.5 1695.4,1246.9 1695.4,1229.0 1696.0,1247.8 1696.0,1229.8 1696.6,1247.9 1696.6,1229.2 1697.2,1231.6 1697.2,1249.1 1697.8,1246.1 1697.8,1229.1 1698.4,1230.3 1698.4,1248.5 1699.0,1233.4 1699.0,1247.5 1699.7,1244.7 1699.7,1227.9 1700.3,1229.0 1700.3,1247.9 1700.9,1245.8 1700.9,1227.5 1701.5,1228.5 1701.5,1246.6 1702.1,1247.8 1702.1,1231.1 1702.7,1227.3 1702.7,1246.7 1703.3,1246.1 1703.3,1229.7 1703.9,1228.1 1703.9,1246.3 1704.5,1245.9 1704.5,1227.3 1705.1,1228.4 1705.1,1246.6 1705.8,1227.5 1705.8,1246.0 1706.4,1245.2 1706.4,1228.4 1707.0,1245.5 1707.0,1227.7 1707.6,1244.5 1707.6,1229.0 1708.2,1245.6 1708.2,1226.7 1708.8,1226.0 1708.8,1245.9 1709.4,1228.0 1709.4,1245.7 1710.0,1244.3 1710.0,1180.7 1710.6,1226.5 1710.6,1243.4 1711.2,1244.9 1711.2,1227.7 1711.9,1243.8 1711.9,1209.7 1712.5,1240.1 1712.5,1226.3 1713.1,1229.0 1713.1,1243.3 1713.7,1242.8 1713.7,1225.7 1714.3,1244.4 1714.3,1224.7 1714.9,1224.8 1714.9,1243.6 1715.5,1243.2 1715.5,1226.2 1716.1,1244.2 1716.1,1229.1 1716.7,1245.1 1716.7,1225.6 1717.3,1244.2 1717.3,1223.3 1718.0,1242.3 1718.0,1224.6 1718.6,1241.3 1718.6,1226.3 1719.2,1243.0 1719.2,1223.9 1719.8,1243.1 1719.8,1225.3 1720.4,1241.4 1720.4,1224.8 1721.0,1241.8 1721.0,1223.4 1721.6,1222.4 1721.6,1240.6 1722.2,1241.6 1722.2,1225.0 1722.8,1241.1 1722.8,1223.6 1723.5,1223.1 1723.5,1239.3 1724.1,1241.1 1724.1,1223.2 1724.7,1224.8 1724.7,1240.6 1725.3,1238.8 1725.3,1224.5 1725.9,1240.0 1725.9,1223.5 1726.5,1222.2 1726.5,1240.2 1727.1,1240.3 1727.1,1224.7 1727.7,1238.2 1727.7,1220.9 1728.3,1221.3 1728.3,1240.1 1728.9,1223.9 1728.9,1239.3 1729.5,1239.4 1729.5,1220.1 1730.1,1224.9 1730.1,1240.5 1730.7,1221.0 1730.7,1239.1 1731.4,1226.3 1731.4,1238.4 1732.0,1238.6 1732.0,1220.0 1732.6,1238.7 1732.6,1222.5 1733.2,1240.3 1733.2,1221.4 1733.8,1222.7 1733.8,1238.9 1734.4,1237.3 1734.4,1221.9 1735.0,1220.2 1735.0,1237.7 1735.6,1220.0 1735.6,1238.3 1736.2,1222.5 1736.2,1237.7 1736.8,1238.6 1736.8,1216.0 1737.4,1220.1 1737.4,1237.9 1738.1,1220.2 1738.1,1237.2 1738.7,1237.9 1738.7,1220.5 1739.3,1220.1 1739.3,1239.6 1739.9,1220.5 1739.9,1236.7 1740.5,1237.4 1740.5,1221.0 1741.1,1221.7 1741.1,1239.2 1741.7,1220.7 1741.7,1237.0 1742.3,1237.3 1742.3,1219.9 1742.9,1220.8 1742.9,1238.2 1743.5,1237.9 1743.5,1220.2 1744.1,1219.3 1744.1,1236.1 1744.7,1220.9 1744.7,1237.7 1745.3,1220.7 1745.3,1238.1 1746.0,1219.6 1746.0,1237.4 1746.6,1220.2 1746.6,1235.4 1747.2,1222.2 1747.2,1238.1 1747.8,1237.3 1747.8,1219.3 1748.4,1236.7 1748.4,1218.9 1749.0,1235.6 1749.0,1219.5 1749.6,1236.2 1749.6,1219.5 1750.2,1219.9 1750.2,1236.1 1750.8,1220.0 1750.8,1237.5 1751.4,1235.8 1751.4,1218.8 1752.0,1236.9 1752.0,1220.3 1752.6,1237.8 1752.6,1218.6 1753.2,1219.0 1753.2,1235.4 1753.9,1219.5 1753.9,1235.3 1754.5,1218.6 1754.5,1235.7 1755.1,1238.2 1755.1,1220.1 1755.7,1234.4 1755.7,1221.4 1756.3,1235.7 1756.3,1218.7 1756.9,1235.3 1756.9,1210.0 1757.5,1235.1 1757.5,1218.4 1758.1,1219.5 1758.1,1236.0 1758.7,1219.4 1758.7,1235.6 1759.3,1220.0 1759.3,1237.0 1760.0,1235.4 1760.0,1218.9 1760.6,1219.2 1760.6,1236.6 1761.2,1235.9 1761.2,1219.1 1761.8,1219.5 1761.8,1235.2 1762.4,1235.4 1762.4,1218.3 1763.0,1235.8 1763.0,1218.3 1763.6,1219.1 1763.6,1236.0 1764.2,1236.4 1764.2,1219.3 1764.8,1235.9 1764.8,1218.9 1765.4,1219.3 1765.4,1235.1 1766.0,1236.4 1766.0,1218.7 1766.6,1218.2 1766.6,1234.3 1767.2,1217.3 1767.2,1235.4 1767.8,1236.0 1767.8,1218.8 1768.4,1237.1 1768.4,1216.0 1769.1,1234.4 1769.1,1220.3 1769.7,1236.1 1769.7,1217.4 1770.3,1235.0 1770.3,1219.1 1770.9,1235.3 1770.9,1218.1 1771.5,1234.5 1771.5,1221.1 1772.1,1234.9 1772.1,1217.5 1772.7,1234.3 1772.7,1220.0 1773.3,1235.0 1773.3,1218.3 1773.9,1234.5 1773.9,1217.8 1774.5,1235.7 1774.5,1216.3 1775.1,1217.2 1775.1,1235.4 1775.7,1234.2 1775.7,1217.0 1776.3,1234.3 1776.3,1219.0 1776.9,1233.8 1776.9,1218.8 1777.6,1218.6 1777.6,1233.3 1778.2,1235.1 1778.2,1219.8 1778.8,1233.1 1778.8,1220.2 1779.4,1217.7 1779.4,1235.1 1780.0,1233.4 1780.0,1214.0 1780.6,1234.1 1780.6,1215.8 1781.2,1217.6 1781.2,1234.8 1781.8,1216.1 1781.8,1234.3 1782.4,1232.4 1782.4,1216.7 1783.0,1232.9 1783.0,1216.7 1783.6,1234.8 1783.6,1216.1 1784.2,1216.8 1784.2,1234.6 1784.8,1232.3 1784.8,1216.1 1785.5,1232.7 1785.5,1217.2 1786.1,1232.8 1786.1,1216.7 1786.7,1217.4 1786.7,1232.8 1787.3,1231.9 1787.3,1215.5 1787.9,1233.6 1787.9,1215.9 1788.5,1233.4 1788.5,1215.4 1789.1,1232.2 1789.1,1215.4 1789.7,1216.0 1789.7,1232.8 1790.3,1231.4 1790.3,1215.7 1790.9,1215.6 1790.9,1230.9 1791.5,1215.0 1791.5,1231.4 1792.1,1214.6 1792.1,1231.4 1792.7,1214.3 1792.7,1231.0 1793.3,1230.8 1793.3,1213.5 1793.9,1230.1 1793.9,1214.5 1794.5,1231.5 1794.5,1216.0 1795.1,1231.8 1795.1,1213.5 1795.8,1212.9 1795.8,1228.2 1796.4,1212.8 1796.4,1229.6 1797.0,1214.2 1797.0,1230.2 1797.6,1211.8 1797.6,1229.8 1798.2,1212.6 1798.2,1228.7 1798.8,1227.6 1798.8,1213.3 1799.4,1212.3 1799.4,1226.9 1800.0,1228.0 1800.0,1210.3 1800.6,1228.0 1800.6,1210.1 1801.2,1228.0 1801.2,1210.6 1801.8,1227.5 1801.8,1183.3 1802.4,1225.9 1802.4,1213.1 1803.0,1226.5 1803.0,1211.3 1803.6,1211.1 1803.6,1226.7 1804.2,1226.7 1804.2,1211.4 1804.8,1226.1 1804.8,1210.7 1805.5,1225.8 1805.5,1209.6 1806.1,1225.0 1806.1,1209.8 1806.7,1209.5 1806.7,1226.3 1807.3,1208.7 1807.3,1224.2 1807.9,1225.5 1807.9,1211.2 1808.5,1210.8 1808.5,1224.2 1809.1,1208.5 1809.1,1223.7 1809.7,1224.0 1809.7,1208.8 1810.3,1225.1 1810.3,1208.2 1810.9,1208.3 1810.9,1223.0 1811.5,1206.7 1811.5,1223.7 1812.1,1223.6 1812.1,1207.0 1812.7,1223.9 1812.7,1207.0 1813.3,1222.1 1813.3,1206.8 1813.9,1207.0 1813.9,1223.3 1814.5,1221.6 1814.5,1205.3 1815.2,1221.7 1815.2,1206.1 1815.8,1206.6 1815.8,1222.9 1816.4,1222.6 1816.4,1205.7 1817.0,1221.4 1817.0,1206.0 1817.6,1207.1 1817.6,1222.3 1818.2,1220.6 1818.2,1204.8 1818.8,1220.3 1818.8,1203.6 1819.4,1204.8 1819.4,1220.6 1820.0,1220.5 1820.0,1205.3 1820.6,1204.7 1820.6,1221.3 1821.2,1204.5 1821.2,1219.9 1821.8,1204.1 1821.8,1219.5 1822.4,1219.8 1822.4,1202.9 1823.0,1219.5 1823.0,1204.9 1823.6,1219.4 1823.6,1203.8 1824.2,1219.5 1824.2,1202.4 1824.8,1218.2 1824.8,1203.6 1825.4,1219.1 1825.4,1203.1 1826.0,1201.8 1826.0,1218.7 1826.7,1218.4 1826.7,1203.0 1827.3,1217.3 1827.3,1204.0 1827.9,1217.2 1827.9,1202.9 1828.5,1217.7 1828.5,1202.2 1829.1,1217.5 1829.1,1201.8 1829.7,1201.5 1829.7,1217.4 1830.3,1200.6 1830.3,1215.7 1830.9,1215.8 1830.9,1201.2 1831.5,1216.0 1831.5,1199.4 1832.1,1200.0 1832.1,1217.3 1832.7,1200.4 1832.7,1216.8 1833.3,1201.5 1833.3,1217.1 1833.9,1215.2 1833.9,1200.0 1834.5,1216.5 1834.5,1198.1 1835.1,1199.3 1835.1,1215.2 1835.7,1199.4 1835.7,1214.8 1836.3,1214.4 1836.3,1199.2 1836.9,1213.7 1836.9,1198.7 1837.5,1199.8 1837.5,1214.1 1838.1,1214.5 1838.1,1200.1 1838.6,1199.5 1838.6,1215.7" stroke="#000000" stroke-width="10"/>
<polyline points="330.5,568.8 788.3,566.3 897.9,569.7 963.4,590.3 1010.2,617.1 1046.7,683.2 1076.6,997.1 1101.9,1152.9 1123.8,1235.0 1143.2,1244.2 1160.6,1256.6 1176.3,1258.3 1190.6,1288.1 1203.8,1286.3 1216.1,1284.2 1227.5,1282.7 1238.1,1280.1 1248.2,1279.7 1257.6,1277.9 1266.5,1276.6 1275.0,1275.5 1283.1,1274.5 1290.8,1275.8 1298.1,1277.4 1305.2,1279.1 1311.9,1278.1 1318.4,1279.5 1324.7,1278.7 1330.7,1279.8 1336.5,1278.7 1342.1,1280.7 1347.5,1279.0 1352.8,1278.6 1357.9,1279.3 1362.8,1278.0 1367.6,1279.3 1372.3,1277.5 1376.8,1279.9 1381.3,1280.0 1385.6,1278.1 1389.7,1275.8 1393.8,1279.6 1397.8,1281.7 1401.7,1279.9 1405.5,1280.1 1409.3,1282.2 1412.9,1280.3 1416.5,1281.2 1420.0,1279.2 1423.4,1278.4 1426.7,1278.4 1430.0,1278.4 1433.2,1279.2 1436.4,1278.6 1439.5,1276.8 1442.5,1280.8 1445.5,1278.1 1448.4,1281.0 1451.3,1281.7 1454.1,1280.9 1456.9,1279.5 1459.7,1278.8 1462.4,1280.3 1465.0,1262.3 1467.6,1277.7 1470.2,1275.6 1472.7,1279.3 1475.2,1277.1 1477.7,1281.1 1480.1,1282.2 1482.5,1281.2 1484.8,1277.6 1487.1,1280.5 1489.4,1279.5 1491.7,1274.6 1493.9,1278.1 1496.1,1278.8 1498.3,1281.1 1500.4,1278.5 1502.5,1280.7 1504.6,1277.7 1506.7,1277.2 1508.7,1281.2 1510.7,1276.3 1512.7,1280.3 1514.7,1275.7 1516.6,1276.3 1518.5,1278.0 1520.4,1275.3 1522.3,1279.5 1524.1,1273.9 1526.0,1279.6 1527.8,1280.3 1529.6,1277.9 1531.4,1275.2 1533.1,1271.5 1534.8,1277.9 1536.6,1275.3 1538.3,1275.5 1539.9,1272.0 1541.6,1271.7 1543.3,1274.0 1544.9,1270.8 1546.5,1272.5 1548.1,1279.0 1549.7,1274.7 1551.3,1275.4 1552.8,1272.7 1554.4,1273.1 1555.9,1279.9 1557.4,1277.0 1558.9,1276.4 1560.4,1276.5 1561.9,1279.9 1563.3,1278.9 1564.8,1275.8 1566.2,1271.1 1567.6,1280.6 1569.1,1272.3 1570.5,1268.0 1571.8,1279.3 1573.2,1272.3 1574.6,1268.7 1575.9,1274.3 1577.3,1269.7 1578.6,1276.9 1579.9,1274.6 1581.2,1273.5 1582.5,1279.5 1583.8,1275.9 1585.1,1269.5 1586.4,1269.0 1587.6,1275.1 1588.9,1270.8 1590.1,1264.1 1591.4,1268.1 1592.6,1268.2 1593.8,1270.7 1595.0,1250.1 1596.2,1271.6 1597.4,1268.0 1598.6,1268.8 1599.8,1262.8 1600.9,1266.8 1602.1,1263.1 1603.2,1269.5 1604.4,1271.3 1605.5,1273.5 1606.6,1263.3 1607.7,1266.7 1608.8,1252.3 1610.0,1256.9 1611.0,1268.3 1612.1,1273.2 1613.2,1269.7 1614.3,1262.6 1615.4,1262.8 1616.4,1269.3 1617.5,1260.8 1618.5,1253.7 1619.6,1260.9 1620.6,1263.1 1621.6,1251.8 1622.6,1255.4 1623.6,1253.4 1624.7,1256.5 1625.7,1261.7 1626.7,1258.4 1627.6,1261.4 1628.6,1257.0 1629.6,1248.3 1630.6,1258.4 1631.5,1246.7 1632.5,1249.5 1633.5,1241.2 1634.4,1239.6 1635.4,1250.6 1636.3,1254.3 1637.2,1242.4 1638.2,1214.5 1639.1,1235.6 1640.0,1245.0 1640.9,1251.9 1641.8,1237.4 1642.7,1251.0 1643.6,1222.3 1644.5,1249.5 1645.4,1246.2 1646.3,1236.1 1647.2,1238.9 1648.1,1246.8 1648.9,1246.4 1649.8,1248.5 1650.7,1244.6 1651.5,1243.8 1652.4,1243.2 1653.2,1241.3 1654.1,1245.7 1654.9,1241.9 1655.7,1238.6 1656.6,1250.4 1657.4,1236.1 1658.2,1248.4 1659.0,1233.1 1659.8,1238.4 1660.7,1248.7 1661.5,1237.3 1662.3,1232.7 1663.1,1241.3 1663.9,1233.0 1664.7,1236.1 1665.4,1243.5 1666.2,1235.2 1667.0,1238.4 1667.8,1233.4 1668.6,1247.3 1669.3,1237.6 1670.1,1231.9 1670.9,1246.9 1671.6,1239.2 1672.4,1234.2 1673.1,1247.5 1673.9,1248.5 1674.6,1235.8 1675.4,1239.3 1676.1,1237.0 1676.8,1233.0 1677.6,1238.7 1678.3,1237.6 1679.0,1245.8 1679.7,1232.2 1680.5,1241.6 1681.2,1234.3 1681.9,1233.3 1682.6,1246.3 1683.3,1239.4 1684.0,1247.8 1684.7,1247.8 1685.4,1236.8 1686.1,1242.7 1686.8,1240.7 1687.5,1234.5 1688.2,1240.3 1688.9,1247.2 1689.5,1236.8 1690.2,1238.3 1690.9,1238.6 1691.6,1236.5 1692.2,1247.8 1692.9,1238.2 1693.6,1245.2 1694.2,1234.9 1694.9,1239.5 1695.6,1232.4 1696.2,1242.6 1696.9,1240.7 1697.5,1236.9 1698.2,1237.4 1698.8,1239.9 1699.4,1236.9 1700.1,1248.2 1700.7,1244.6 1701.4,1231.9 1702.0,1246.1 1702.6,1246.8 1703.2,1232.4 1703.9,1242.1 1704.5,1243.2 1705.1,1240.3 1705.7,1227.8 1706.3,1228.7 1707.0,1242.8 1707.6,1234.6 1708.2,1228.2 1708.8,1234.8 1709.4,1229.8 1710.0,1232.5 1710.6,1229.9 1711.2,1242.5 1711.8,1210.0 1712.4,1236.4 1713.0,1232.5 1713.6,1229.9 1714.1,1237.3 1714.7,1238.8 1715.3,1226.8 1715.9,1230.6 1716.5,1229.7 1717.0,1244.5 1717.6,1228.7 1718.2,1233.2 1718.8,1239.7 1719.3,1235.7 1719.9,1232.7 1720.5,1237.6 1721.0,1224.8 1721.6,1226.3 1722.2,1235.4 1722.7,1228.4 1723.3,1225.4 1723.8,1229.3 1724.4,1226.1 1724.9,1228.9 1725.5,1225.8 1726.0,1226.1 1726.6,1226.8 1727.1,1233.0 1727.6,1230.0 1728.2,1234.0 1728.7,1239.0 1729.3,1238.2 1729.8,1229.3 1730.3,1230.8 1730.9,1233.2 1731.4,1237.9 1731.9,1237.5 1732.4,1227.3 1733.0,1235.4 1733.5,1222.1 1734.0,1228.8 1734.5,1236.9 1735.0,1231.3 1735.6,1234.3 1736.1,1223.2 1736.6,1222.3 1737.1,1234.6 1737.6,1227.6 1738.1,1225.2 1738.6,1234.6 1739.1,1235.0 1739.6,1225.1 1740.1,1235.8 1740.6,1236.5 1741.1,1236.1 1741.6,1237.0 1742.1,1233.6 1742.6,1228.7 1743.1,1221.2 1743.6,1231.5 1744.1,1229.0 1744.6,1236.0 1745.1,1233.3 1745.6,1226.8 1746.0,1226.7 1746.5,1232.4 1747.0,1228.8 1747.5,1233.9 1748.0,1228.0 1748.4,1228.9 1748.9,1229.6 1749.4,1230.5 1749.9,1230.9 1750.3,1231.7 1750.8,1235.3 1751.3,1235.8 1751.7,1235.4 1752.2,1222.6 1752.7,1227.9 1753.1,1222.9 1753.6,1234.6 1754.1,1222.7 1754.5,1227.4 1755.0,1225.4 1755.4,1230.7 1755.9,1234.0 1756.4,1225.0 1756.8,1222.7 1757.3,1230.9 1757.7,1221.7 1758.2,1226.7 1758.6,1230.6 1759.1,1234.5 1759.5,1234.8 1760.0,1230.3 1760.4,1230.6 1760.8,1219.5 1761.3,1233.9 1761.7,1230.1 1762.2,1225.3 1762.6,1227.6 1763.0,1221.1 1763.5,1235.7 1763.9,1236.7 1764.3,1224.7 1764.8,1223.8 1765.2,1231.9 1765.6,1229.5 1766.1,1223.1 1766.5,1219.6 1766.9,1225.5 1767.3,1226.7 1767.8,1232.5 1768.2,1216.3 1768.6,1228.4 1769.0,1233.0 1769.5,1230.5 1769.9,1231.7 1770.3,1221.6 1770.7,1224.5 1771.1,1225.0 1771.5,1230.6 1772.0,1232.6 1772.4,1224.9 1772.8,1227.7 1773.2,1220.1 1773.6,1232.0 1774.0,1231.7 1774.4,1224.0 1774.8,1220.6 1775.2,1233.5 1775.6,1224.4 1776.0,1231.2 1776.4,1226.7 1776.8,1225.1 1777.3,1222.0 1777.7,1225.4 1778.1,1230.8 1778.4,1228.9 1778.8,1222.1 1779.2,1224.5 1779.6,1234.9 1780.0,1214.3 1780.4,1221.4 1780.8,1229.6 1781.2,1222.3 1781.6,1227.9 1782.0,1222.7 1782.4,1218.9 1782.8,1221.4 1783.2,1229.4 1783.5,1224.9 1783.9,1226.3 1784.3,1229.3 1784.7,1222.1 1785.1,1231.1 1785.5,1222.1 1785.8,1220.8 1786.2,1224.6 1786.6,1219.4 1787.0,1227.9 1787.4,1219.4 1787.7,1216.2 1788.1,1223.9 1788.5,1233.7 1788.9,1230.0 1789.2,1219.6 1789.6,1223.7 1790.0,1231.3 1790.3,1231.5 1790.7,1226.2 1791.1,1227.6 1791.5,1225.9 1791.8,1222.3 1792.2,1215.8 1792.6,1217.3 1792.9,1223.9 1793.3,1222.9 1793.6,1226.0 1794.0,1225.6 1794.4,1230.7 1794.7,1227.3 1795.1,1227.0 1795.4,1216.0 1795.8,1228.2 1796.2,1215.7 1796.5,1224.8 1796.9,1220.9 1797.2,1219.0 1797.6,1222.7 1797.9,1226.6 1798.3,1224.1 1798.7,1227.6 1799.0,1216.0 1799.4,1224.1 1799.7,1224.3 1800.1,1214.2 1800.4,1223.8 1800.8,1213.1 1801.1,1218.7 1801.4,1217.9 1801.8,1225.0 1802.1,1220.7 1802.5,1218.2 1802.8,1218.4 1803.2,1224.4 1803.5,1227.0 1803.9,1218.9 1804.2,1224.0 1804.5,1223.3 1804.9,1216.8 1805.2,1222.7 1805.5,1210.1 1805.9,1223.2 1806.2,1221.7 1806.6,1214.2 1806.9,1222.7 1807.2,1215.7 1807.6,1223.6 1807.9,1213.8 1808.2,1218.3 1808.6,1223.0 1808.9,1223.3 1809.2,1220.0 1809.6,1216.2 1809.9,1217.8 1810.2,1211.8 1810.5,1217.6 1810.9,1209.6 1811.2,1215.5 1811.5,1215.9 1811.8,1216.6 1812.2,1220.4 1812.5,1223.5 1812.8,1215.1 1813.1,1216.9 1813.5,1217.5 1813.8,1221.5 1814.1,1219.9 1814.4,1210.8 1814.8,1213.3 1815.1,1217.1 1815.4,1215.9 1815.7,1220.9 1816.0,1212.1 1816.3,1206.0 1816.7,1217.2 1817.0,1216.2 1817.3,1212.0 1817.6,1217.2 1817.9,1214.3 1818.2,1207.0 1818.5,1219.5 1818.9,1217.4 1819.2,1217.2 1819.5,1220.9 1819.8,1214.6 1820.1,1206.2 1820.4,1205.7 1820.7,1219.4 1821.0,1209.5 1821.3,1219.3 1821.6,1207.0 1821.9,1209.9 1822.2,1218.4 1822.6,1214.0 1822.9,1210.5 1823.2,1208.9 1823.5,1204.9 1823.8,1217.1 1824.1,1216.3 1824.4,1209.4 1824.7,1214.7 1825.0,1213.8 1825.3,1218.3 1825.6,1208.2 1825.9,1210.7 1826.2,1211.3 1826.5,1213.8 1826.8,1210.9 1827.1,1211.6 1827.4,1204.7 1827.7,1215.2 1828.0,1216.2 1828.3,1218.0 1828.5,1216.5 1828.8,1205.3 1829.1,1215.3 1829.4,1208.2 1829.7,1206.6 1830.0,1215.3 1830.3,1213.4 1830.6,1215.0 1830.9,1214.5 1831.2,1204.7 1831.5,1201.5 1831.7,1203.8 1832.0,1207.9 1832.3,1212.0 1832.6,1202.4 1832.9,1209.5 1833.2,1215.5 1833.5,1208.1 1833.8,1209.0 1834.0,1212.6 1834.3,1210.8 1834.6,1199.9 1834.9,1200.9 1835.2,1211.9 1835.5,1209.5 1835.7,1213.3 1836.0,1212.8 1836.3,1208.6 1836.6,1211.3 1836.9,1206.5 1837.1,1208.3 1837.4,1202.8 1837.7,1205.4 1838.0,1201.9 1838.3,1203.8 1838.5,1201.2" stroke="none" marker-start="url(#m0)" marker-mid="url(#m0)" marker-end="url(#m0)"/>
<path d="M323.9,405.6 392.6,402.1 441.0,401.7 478.4,402.5 509.0,401.7 534.7,402.2 557.0,403.1 576.7,404.0 594.3,404.8 610.2,405.1 624.7,405.3 638.0,405.6 650.3,406.5 661.8,407.6 672.6,408.6 682.7,409.8 692.2,410.9 701.2,411.7 709.7,412.1 717.8,412.6 725.6,413.3 733.0,414.4 740.0,415.7 746.8,417.0 753.3,418.4 759.6,419.7 765.7,421.0 771.5,422.3 777.1,423.7 782.6,425.1 787.8,426.6 793.0,428.0 797.9,429.4 802.7,430.8 807.4,432.3 812.0,433.9 816.4,435.6 820.7,437.4 824.9,439.4 829.0,441.6 833.0,444.0 836.9,446.4 840.8,448.9 844.5,451.6 848.1,454.4 851.7,457.3 855.2,460.4 858.6,463.5 862.0,466.8 865.3,470.3 868.5,474.0 871.7,477.8 874.8,481.7 877.8,485.9 880.8,490.4 883.8,495.1 886.6,500.0 889.5,505.0 892.3,510.6 895.0,517.8 897.7,527.6 900.4,532.9 903.0,537.4 905.6,541.3 908.1,545.2 910.6,549.8 913.1,555.5 915.5,562.6 917.9,570.8 920.2,581.5 922.5,592.9 924.8,602.2 927.1,610.0 929.3,616.9 931.5,623.1 933.7,628.8 935.8,633.9 937.9,638.1 940.0,641.7 942.1,644.8 944.1,647.7 946.1,650.4 948.1,652.6 950.1,653.5 952.0,658.5 954.0,661.3 955.9,661.9 957.7,666.8 959.6,669.5 961.4,675.1 963.2,674.2 965.0,687.7 966.8,693.4 968.6,699.0 970.3,704.0 972.0,711.7 973.7,711.8 975.4,721.0 977.1,727.1 978.7,729.2 980.4,734.5 982.0,738.5 983.6,745.3 985.2,755.4 986.8,758.3 988.3,769.2 989.9,779.3 991.4,786.6 992.9,797.2 994.4,797.8 995.9,804.7 997.4,820.7 998.8,821.4 1000.3,826.9 1001.7,837.0 1003.1,852.3 1004.6,861.0 1006.0,874.1 1007.3,875.8 1008.7,892.2 1010.1,926.1 1011.4,933.2 1012.8,951.1 1014.1,970.9 1015.4,974.1 1016.8,969.6 1018.1,982.7 1019.4,990.4 1020.6,982.7 1021.9,994.7 1023.2,992.6 1024.4,997.6 1025.7,1001.4 1026.9,1019.0 1028.1,1015.8 1029.3,1020.7 1030.5,918.7 1031.7,1043.6 1032.9,1054.1 1034.1,1042.5 1035.3,1058.2 1036.5,1060.8 1037.6,1072.2 1038.8,1079.1 1039.9,1071.0 1041.0,1073.9 1042.2,1074.5 1043.3,1082.3 1044.4,1098.8 1045.5,1094.4 1046.6,1086.7 1047.7,1112.3 1048.8,1095.4 1049.8,1096.5 1050.9,1097.9 1052.0,1088.5 1053.0,1102.6 1054.1,1112.8 1055.1,1108.7 1056.1,1108.7 1057.2,1107.6 1058.2,1093.9 1059.2,1105.2 1060.2,1098.8 1061.2,1057.7 1062.2,1111.2 1063.2,1122.4 1064.2,1113.5 1065.2,1126.5 1066.1,1138.6 1067.1,1132.1 1068.1,1127.4 1069.0,1127.9 1070.0,1124.0 1070.9,1119.1 1071.9,1129.2 1072.8,1135.5 1073.7,1129.8 1074.6,1128.5 1075.6,1127.1 1076.5,1133.4 1077.4,1125.4 1078.3,1121.7 1079.2,1138.8 1080.1,1139.0 1081.0,1143.1 1081.9,1158.7 1082.7,1151.0 1083.6,1155.7 1084.5,1145.5 1085.4,1146.6 1086.2,1109.8 1087.1,1157.1 1087.9,1149.9 1088.8,1146.7 1089.6,1158.7 1090.5,1157.1 1091.3,1168.0 1092.1,1171.8 1093.0,1170.8 1093.8,1173.1 1094.6,1180.4 1095.4,1180.5 1096.2,1175.4 1097.0,1181.7 1097.8,1181.5 1098.6,1182.9 1099.4,1189.1 1100.2,1191.2 1101.0,1196.8 1101.8,1189.3 1102.6,1189.8 1103.4,1189.4 1104.1,1193.8 1104.9,1189.6 1105.7,1190.5 1106.4,1188.5 1107.2,1188.3 1107.9,1192.0 1108.7,1208.8 1109.5,1201.6 1110.2,1201.8 1110.9,1201.2 1111.7,1199.5 1112.4,1199.9 1113.1,1210.8 1113.9,1158.3 1114.6,1210.7 1115.3,1208.7 1116.0,1199.3 1116.8,1195.6 1117.5,1194.6 1118.2,1190.5 1118.9,1200.2 1119.6,1200.8 1120.3,1201.6 1121.0,1193.5 1121.7,1197.2 1122.4,1193.7 1123.1,1207.2 1123.8,1183.0 1124.5,1199.3 1125.1,1199.2 1125.8,1194.4 1126.5,1192.4 1127.2,1191.2 1127.8,1196.8 1128.5,1191.6 1129.2,1191.7 1129.8,1194.0 1130.5,1191.5 1131.1,1185.4 1131.8,1183.1 1132.5,1185.7 1133.1,1184.2 1133.7,1192.7 1134.4,1192.3 1135.0,1191.8 1135.7,1186.7 1136.3,1191.4 1136.9,1189.5 1137.6,1185.7 1138.2,1185.2 1138.8,1199.0 1139.5,1191.8 1140.1,1187.0 1140.7,1193.9 1141.3,1195.3 1141.9,1191.3 1142.5,1196.8 1143.2,1179.3 1143.8,1186.0 1144.4,1180.4 1145.0,1191.0 1145.6,1190.4 1146.5,1201.3 1146.5,1197.3 1147.7,1195.3 1147.7,1187.3 1148.9,1165.7 1148.9,1183.9 1150.0,1190.3 1150.0,1185.0 1151.2,1176.7 1151.2,1186.3 1152.4,1191.3 1152.4,1186.0 1153.5,1189.0 1153.5,1193.3 1154.7,1195.6 1154.7,1185.3 1155.8,1186.9 1155.8,1184.2 1156.9,1190.0 1156.9,1189.2 1158.0,1183.5 1158.0,1185.9 1159.1,1189.0 1159.1,1181.9 1160.2,1179.1 1160.2,1196.7 1161.3,1182.2 1162.4,1177.0 1162.4,1175.4 1163.5,1180.4 1163.5,1184.6 1164.6,1181.5 1164.6,1158.3 1165.7,1191.5 1165.7,1187.1 1166.7,1183.9 1166.7,1181.1 1167.8,1184.2 1168.8,1184.5 1168.8,1182.0 1169.9,1183.6 1169.9,1184.1 1170.9,1182.2 1170.9,1185.8 1171.9,1177.5 1171.9,1181.4 1173.0,1180.2 1173.0,1182.8 1174.0,1187.7 1174.0,1183.4 1175.0,1180.1 1175.0,1178.9 1176.0,1183.1 1177.0,1181.7 1177.0,1181.2 1178.0,1184.7 1178.0,1181.9 1179.0,1158.3 1179.0,1170.9 1179.9,1170.7 1179.9,1173.3 1180.9,1171.1 1180.9,1176.3 1181.9,1172.3 1181.9,1176.8 1182.9,1171.4 1182.9,1175.1 1183.8,1172.7 1183.8,1175.4 1184.8,1178.4 1185.7,1176.1 1185.7,1168.8 1186.7,1164.7 1186.7,1154.7 1187.6,1164.6 1187.6,1168.5 1188.5,1169.5 1188.5,1162.8 1189.4,1171.7 1189.4,1164.9 1190.4,1166.3 1190.4,1129.7 1191.3,1158.2 1191.3,1163.4 1192.2,1165.1 1192.2,1159.2 1193.1,1159.1 1193.1,1162.5 1194.0,1154.8 1194.0,1158.8 1194.9,1153.5 1194.9,1157.2 1195.8,1156.2 1195.8,1159.2 1196.7,1155.9 1196.7,1154.6 1197.6,1153.7 1197.6,1151.2 1198.4,1151.8 1198.4,1149.8 1199.3,1150.0 1199.3,1153.5 1200.2,1152.3 1200.2,1155.6 1201.0,1156.0 1201.0,1156.5 1201.9,1151.1 1201.9,1152.7 1202.7,1156.6 1203.6,1157.9 1203.6,1152.0 1204.4,1151.4 1204.4,1153.3 1205.3,1154.3 1205.3,1152.7 1206.1,1148.8 1206.1,1150.9 1207.0,1151.2 1207.0,1157.1 1207.8,1158.4 1207.8,1154.3 1208.6,1150.6 1208.6,1149.3 1209.4,1150.9 1209.4,1149.9 1210.2,1156.6 1210.2,1151.6 1211.1,1152.0 1211.1,1152.9 1211.9,1154.1 1211.9,1151.2 1212.7,1151.6 1212.7,1152.9 1213.5,1153.9 1213.5,1152.1 1214.3,1152.0 1214.3,1153.2 1215.1,1158.2 1215.1,1152.8 1215.8,1154.9 1215.8,1153.3 1216.6,1152.2 1216.6,1156.4 1217.4,1158.2 1217.4,1155.8 1218.2,1156.7 1218.2,1158.3 1219.0,1155.0 1219.0,1154.2 1219.7,1133.4 1219.7,1149.4 1220.5,1150.6 1221.3,1154.6 1221.3,1152.0 1222.0,1148.3 1222.0,1151.2 1222.8,1152.5 1222.8,1151.8 1223.5,1150.0 1223.5,1147.5 1224.3,1146.4 1224.3,1150.6 1225.0,1150.9 1225.0,1149.3 1225.8,1149.1 1225.8,1147.1 1226.5,1144.5 1227.3,1144.9 1227.3,1145.8 1228.0,1140.1 1228.0,1138.6 1228.7,1140.5 1228.7,1143.5 1229.4,1140.6 1229.4,1139.3 1230.2,1137.5 1230.2,1138.8 1230.9,1137.5 1231.6,1136.7 1231.6,1143.4 1232.3,1141.6 1232.3,1139.2 1233.0,1138.3 1233.0,1140.5 1233.7,1141.7 1233.7,1140.6 1234.5,1117.3 1234.5,1138.6 1235.2,1140.6 1235.9,1140.0 1235.9,1138.8 1236.5,1140.5 1236.5,1138.1 1237.2,1139.8 1237.2,1137.4 1237.9,1136.3 1237.9,1137.1 1238.6,1134.9 1239.3,1137.4 1239.3,1140.5 1240.0,1137.1 1240.0,1134.6 1240.7,1138.3 1240.7,1136.8 1241.3,1137.3 1242.0,1138.9 1242.0,1135.8 1242.7,1138.6 1242.7,1139.3 1243.4,1133.1 1243.4,1134.4 1244.0,1134.6 1244.0,1136.3 1244.7,1136.2 1244.7,1134.6 1245.3,1134.7 1245.3,1136.2 1246.0,1136.3 1246.0,1135.9 1246.7,1140.8 1246.7,1139.6 1247.3,1135.4 1247.3,1135.9 1248.0,1136.6 1248.0,1134.1 1248.6,1135.1 1248.6,1133.5 1249.3,1129.6 1249.3,1133.2 1249.9,1135.5 1249.9,1136.5 1250.5,1135.2 1250.5,1133.5 1251.2,1134.3 1251.2,1135.0 1251.8,1136.2 1251.8,1137.7 1252.4,1137.1 1252.4,1133.6 1253.1,1132.9 1253.1,1129.5 1253.7,1132.2 1253.7,1133.2 1254.3,1134.8 1254.3,1134.0 1255.0,1135.8 1255.0,1131.7 1255.6,1131.8 1255.6,1130.4 1256.2,1129.7 1256.2,1125.9 1256.8,1126.1 1256.8,1123.4 1257.4,1125.7 1258.0,1127.7 1258.0,1124.2 1258.6,1125.3 1258.6,1126.3 1259.2,1122.3 1259.2,1128.8 1259.9,1129.4 1259.9,1127.0 1260.5,1131.5 1260.5,1132.5 1261.2,1124.6 1261.2,1125.3 1262.1,1126.1 1262.1,1124.4 1263.0,1126.1 1263.0,1120.9 1263.9,1127.5 1263.9,1129.3 1264.8,1131.1 1264.8,1128.3 1265.6,1125.8 1265.6,1130.6 1266.5,1129.0 1266.5,1128.4 1267.4,1130.2 1267.4,1122.5 1268.2,1125.4 1268.2,1122.3 1269.1,1120.4 1269.1,1125.7 1270.0,1124.3 1270.0,1122.2 1270.8,1120.0 1270.8,1122.1 1271.7,1121.0 1271.7,1124.8 1272.5,1118.1 1272.5,1121.7 1273.3,1121.4 1273.3,1118.9 1274.2,1114.7 1274.2,1119.9 1275.0,1119.4 1275.0,1091.7 1275.8,1121.2 1275.8,1121.8 1276.6,1121.2 1276.6,1117.4 1277.5,1120.5 1277.5,1119.3 1278.3,1118.3 1278.3,1121.2 1279.1,1120.0 1279.1,1114.6 1279.9,1113.5 1279.9,1118.2 1280.7,1117.5 1280.7,1114.6 1281.5,1117.0 1281.5,1112.9 1282.3,1115.8 1282.3,1117.0 1283.1,1110.8 1283.1,1114.6 1283.9,1115.0 1283.9,1118.1 1284.6,1116.5 1284.6,1112.0 1285.4,1111.2 1285.4,1117.0 1286.2,1112.9 1286.2,1108.9 1287.0,1107.5 1287.0,1111.2 1287.7,1109.6 1287.7,1114.2 1288.5,1110.9 1288.5,1115.3 1289.2,1109.9 1289.2,1113.5 1290.0,1111.9 1290.0,1106.3 1290.8,1102.9 1290.8,1107.7 1291.5,1104.6 1291.5,1112.1 1292.3,1112.0 1292.3,1108.2 1293.0,1109.2 1293.0,1111.7 1293.7,1104.5 1293.7,1102.7 1294.5,1103.7 1294.5,1110.8 1295.2,1107.3 1295.2,1108.8 1295.9,1104.5 1295.9,1109.4 1296.7,1106.0 1296.7,1114.7 1297.4,1108.1 1297.4,1100.8 1298.1,1101.1 1298.1,1102.6 1298.8,1105.2 1298.8,1103.2 1299.5,1099.0 1299.5,1100.1 1300.3,1095.5 1300.3,1102.0 1301.0,1101.8 1301.0,1101.2 1301.7,1098.1 1301.7,1099.3 1302.4,1099.3 1302.4,1099.8 1303.1,1096.5 1303.1,1102.2 1303.8,1102.5 1303.8,1097.3 1304.5,1099.9 1304.5,1094.0 1305.2,1094.1 1305.2,1099.5 1305.8,1095.3 1305.8,1093.9 1306.5,1094.0 1306.5,1087.7 1307.2,1090.6 1307.2,1092.8 1307.9,1090.5 1307.9,1096.8 1308.6,1092.1 1308.6,1088.9 1309.2,1089.8 1309.2,1094.0 1309.9,1093.0 1309.9,1091.9 1310.6,1092.5 1310.6,1090.5 1311.2,1092.9 1311.2,1089.2 1311.9,1086.7 1311.9,1091.0 1312.6,1088.0 1312.6,1093.4 1313.2,1091.7 1313.2,1086.4 1313.9,1080.9 1313.9,1082.0 1314.5,1087.9 1314.5,1083.9 1315.2,1084.4 1315.2,1089.0 1315.8,1090.4 1315.8,1086.0 1316.5,1089.3 1316.5,1088.8 1317.1,1087.8 1317.1,1085.2 1317.8,1082.9 1317.8,1084.8 1318.4,1079.7 1318.4,1082.1 1319.0,1081.0 1319.0,1083.0 1319.7,1080.7 1319.7,1077.6 1320.3,1080.8 1320.3,1076.3 1320.9,1074.8 1320.9,1079.2 1321.6,1079.9 1321.6,1074.7 1322.2,1078.0 1322.2,1074.3 1322.8,1076.4 1322.8,1074.2 1323.4,1076.2 1323.4,1077.7 1324.0,1081.9 1324.0,1076.0 1324.7,1072.5 1324.7,1077.1 1325.3,1075.5 1325.3,1071.5 1325.9,1073.8 1325.9,1072.2 1326.5,1074.5 1326.5,1072.9 1327.1,1073.0 1327.1,1070.7 1327.7,1073.4 1327.7,1071.0 1328.4,1069.0 1328.4,1071.6 1329.2,1073.1 1329.2,1068.7 1330.0,1066.7 1330.0,1069.9 1330.8,1069.2 1330.8,1065.4 1331.6,1062.9 1331.6,1064.9 1332.3,1062.3 1332.3,1065.1 1333.1,1063.3 1333.1,1071.4 1333.9,1064.4 1333.9,1066.9 1334.7,1063.9 1334.7,1066.2 1335.4,1068.2 1335.4,1065.8 1336.2,1069.2 1336.2,1060.8 1337.0,1061.6 1337.0,1063.5 1337.7,1057.3 1337.7,1059.0 1338.5,1058.7 1338.5,1062.0 1339.2,1057.1 1339.2,1065.5 1340.0,1064.8 1340.0,1060.0 1340.7,1057.1 1340.7,1062.4 1341.4,1064.9 1341.4,1061.4 1342.2,1060.3 1342.2,1063.0 1342.9,1064.2 1342.9,1056.7 1343.6,1056.2 1343.6,1060.1 1344.4,1058.0 1344.4,1061.2 1345.1,1063.5 1345.1,1055.8 1345.8,1060.0 1345.8,1056.1 1346.5,1058.3 1346.5,1062.2 1347.3,1062.7 1347.3,1056.4 1348.0,1060.9 1348.0,1055.6 1348.7,1059.6 1348.7,1040.3 1349.4,1061.4 1349.4,1058.7 1350.1,1054.4 1350.1,1058.0 1350.8,1056.1 1350.8,1049.1 1351.5,1050.2 1351.5,1054.4 1352.2,1054.0 1352.2,1056.9 1352.9,1058.2 1352.9,1055.2 1353.6,1054.8 1353.6,1053.1 1354.2,1049.5 1354.2,1052.6 1354.9,1054.4 1354.9,1052.0 1355.6,1051.3 1355.6,1058.2 1356.3,1052.2 1356.3,1055.9 1357.0,1051.7 1357.0,1050.8 1357.6,1051.4 1357.6,1048.9 1358.3,1051.2 1358.3,1054.1 1359.0,1055.0 1359.0,1051.8 1359.6,1047.7 1359.6,1046.2 1360.3,1048.3 1360.3,1051.2 1360.9,1051.3 1360.9,1048.0 1361.6,1048.4 1361.6,1045.8 1362.2,1048.7 1362.2,1046.4 1362.9,1051.3 1362.9,1045.9 1363.5,1048.9 1363.5,1050.4 1364.2,1046.0 1364.2,1045.2 1364.8,1044.7 1364.8,1041.3 1365.5,1044.0 1365.5,1049.7 1366.1,1046.8 1366.1,1041.3 1366.7,1044.3 1366.7,1041.7 1367.4,1046.2 1367.4,1042.1 1368.0,1043.8 1368.0,1041.1 1368.6,1038.4 1368.6,1045.6 1369.3,1043.0 1369.3,1040.4 1369.9,1040.9 1369.9,1043.8 1370.5,1044.7 1370.5,1038.4 1371.1,1037.9 1371.1,1033.4 1371.7,1037.3 1371.7,1042.1 1372.4,1039.6 1372.4,1035.9 1373.0,1033.5 1373.0,1038.5 1373.6,1037.3 1373.6,1033.8 1374.2,1034.5 1374.2,1037.9 1374.8,1032.1 1374.8,1037.6 1375.4,1038.4 1375.4,1034.9 1376.1,1035.7 1376.1,1031.8 1376.8,1033.2 1376.8,1039.9 1377.6,1039.1 1377.6,1027.4 1378.3,1026.0 1378.3,1032.3 1379.0,1028.4 1379.0,1033.3 1379.8,1029.8 1379.8,1033.6 1380.5,1031.6 1380.5,1025.1 1381.2,1024.0 1381.2,1025.1 1382.0,1026.4 1382.0,1028.2 1382.7,1027.4 1382.7,1024.8 1383.4,1028.1 1383.4,1022.3 1384.1,1022.8 1384.1,1026.5 1384.8,1025.5 1384.8,1019.4 1385.5,1022.6 1385.5,1026.8 1386.2,1022.2 1386.2,1013.7 1387.0,1016.3 1387.0,1020.2 1387.7,1022.9 1387.7,989.0 1388.3,1021.8 1388.3,1018.4 1389.0,1020.9 1389.0,1015.5 1389.7,1022.7 1389.7,1016.5 1390.4,1014.8 1390.4,1017.6 1391.1,1019.8 1391.1,1014.5 1391.8,1016.6 1391.8,1013.5 1392.5,1017.3 1392.5,1013.6 1393.2,1017.4 1393.2,1008.2 1393.8,1010.5 1393.8,1013.0 1394.5,1015.6 1394.5,1007.6 1395.2,1015.0 1395.2,1009.8 1395.8,1007.7 1395.8,1011.4 1396.5,1004.1 1396.5,1010.6 1397.2,1007.5 1397.2,1014.6 1397.8,1011.1 1397.8,1004.6 1398.5,1009.5 1398.5,1004.1 1399.1,1010.3 1399.1,1004.8 1399.8,1001.0 1399.8,1005.4 1400.4,1005.2 1400.4,998.8 1401.1,1001.6 1401.1,1008.6 1401.7,1006.7 1401.7,999.8 1402.4,1000.3 1402.4,1002.5 1403.0,1000.7 1403.0,996.3 1403.6,995.1 1403.6,1005.0 1404.3,998.5 1404.3,995.4 1404.9,995.4 1404.9,1000.0 1405.5,1001.7 1405.5,994.9 1406.2,992.8 1406.2,998.2 1406.8,992.2 1406.8,996.4 1407.4,990.7 1407.4,996.4 1408.0,991.5 1408.0,996.8 1408.6,994.3 1408.6,986.5 1409.2,990.7 1409.2,993.6 1409.9,991.5 1409.9,986.9 1410.5,986.2 1410.5,991.2 1411.1,989.7 1411.1,992.8 1411.7,992.9 1411.7,987.8 1412.3,989.5 1412.3,983.3 1412.9,988.9 1412.9,985.9 1413.5,989.3 1413.5,983.6 1414.3,986.5 1414.3,991.9 1415.0,985.3 1415.0,981.7 1415.7,988.2 1415.7,980.9 1416.4,978.8 1416.4,989.9 1417.1,988.6 1417.1,984.8 1417.8,987.3 1417.8,983.1 1418.5,990.4 1418.5,980.4 1419.2,989.7 1419.2,981.1 1419.9,981.6 1419.9,985.6 1420.6,982.8 1420.6,979.0 1421.3,977.7 1421.3,972.1 1421.9,987.6 1421.9,952.3 1422.6,981.6 1422.6,976.6 1423.3,979.7 1423.3,976.6 1424.0,979.7 1424.0,973.6 1424.6,980.0 1424.6,973.0 1425.3,982.1 1425.3,973.5 1426.0,976.2 1426.0,979.2 1426.7,974.5 1426.7,977.9 1427.3,978.2 1427.3,974.6 1428.0,974.0 1428.0,977.5 1428.6,978.9 1428.6,964.4 1429.3,973.8 1429.3,979.0 1429.9,969.5 1429.9,975.7 1430.6,976.5 1430.6,969.7 1431.2,976.1 1431.2,971.0 1431.9,968.0 1431.9,973.5 1432.5,973.8 1432.5,967.9 1433.2,966.5 1433.2,973.0 1433.8,972.7 1433.8,966.0 1434.4,963.0 1434.4,968.8 1435.1,965.1 1435.1,972.4 1435.7,968.2 1435.7,960.7 1436.3,965.4 1436.3,972.2 1436.9,964.5 1436.9,971.0 1437.6,968.2 1437.6,959.5 1438.2,961.6 1438.2,967.1 1438.8,961.0 1438.8,964.1 1439.4,961.6 1439.4,968.6 1440.0,958.2 1440.0,964.4 1440.6,967.9 1440.6,959.4 1441.2,958.8 1441.2,963.7 1441.8,958.6 1441.8,963.4 1442.5,957.3 1442.5,964.2 1443.1,961.3 1443.1,964.0 1443.7,965.8 1443.7,952.3 1444.4,958.1 1444.4,955.1 1445.1,965.1 1445.1,955.9 1445.8,954.3 1445.8,961.7 1446.5,959.3 1446.5,955.0 1447.2,961.2 1447.2,953.8 1447.8,954.1 1447.8,959.0 1448.5,958.3 1448.5,952.3 1449.2,951.4 1449.2,956.2 1449.9,958.6 1449.9,950.9 1450.5,956.3 1450.5,951.3 1451.2,954.7 1451.2,950.1 1451.9,950.1 1451.9,955.2 1452.5,950.5 1452.5,944.5 1453.2,947.7 1453.2,957.5 1453.9,952.8 1453.9,944.2 1454.5,947.8 1454.5,939.8 1455.2,940.9 1455.2,947.6 1455.8,950.6 1455.8,940.2 1456.5,938.2 1456.5,947.7 1457.1,941.6 1457.1,946.0 1457.7,940.6 1457.7,948.5 1458.4,942.8 1458.4,937.3 1459.0,942.2 1459.0,936.6 1459.7,942.5 1459.7,934.7 1460.3,934.0 1460.3,938.9 1460.9,939.0 1460.9,892.4 1461.6,937.1 1461.6,930.8 1462.2,937.8 1462.2,931.1 1462.8,928.2 1462.8,931.6 1463.4,933.3 1463.4,939.4 1464.0,930.9 1464.0,924.5 1464.7,929.4 1464.7,934.2 1465.3,928.2 1465.3,934.9 1465.9,932.5 1465.9,925.8 1466.5,929.2 1466.5,922.1 1467.1,924.3 1467.1,930.9 1467.7,921.4 1467.7,927.7 1468.3,932.0 1468.3,920.3 1469.0,922.1 1469.0,926.7 1469.6,924.2 1469.6,917.4 1470.3,924.6 1470.3,918.4 1471.0,919.0 1471.0,924.3 1471.7,923.4 1471.7,917.1 1472.3,918.2 1472.3,923.6 1473.0,920.5 1473.0,915.7 1473.7,912.8 1473.7,921.0 1474.3,917.8 1474.3,911.6 1475.0,916.2 1475.0,908.1 1475.7,912.1 1475.7,917.6 1476.3,916.4 1476.3,908.0 1477.0,917.0 1477.0,910.1 1477.6,915.8 1477.6,904.3 1478.3,912.4 1478.3,907.7 1478.9,906.1 1478.9,915.8 1479.6,913.4 1479.6,905.7 1480.2,917.5 1480.2,903.6 1480.8,902.3 1480.8,909.8 1481.5,901.2 1481.5,907.3 1482.1,904.9 1482.1,909.8 1482.7,906.8 1482.7,898.4 1483.4,896.9 1483.4,907.7 1484.0,900.2 1484.0,908.8 1484.6,905.0 1484.6,898.6 1485.3,900.2 1485.3,903.9 1485.9,894.7 1485.9,901.9 1486.5,895.9 1486.5,902.8 1487.1,905.0 1487.1,893.5 1487.7,902.4 1487.7,896.1 1488.3,899.7 1488.3,892.0 1488.9,898.4 1488.9,890.2 1489.5,889.0 1489.5,894.5 1490.1,898.4 1490.1,889.1 1490.7,890.8 1490.7,885.7 1491.4,892.1 1491.4,886.3 1492.1,881.4 1492.1,892.2 1492.7,882.7 1492.7,892.1 1493.4,887.5 1493.4,881.7 1494.1,891.4 1494.1,884.5 1494.7,827.2 1494.7,890.5 1495.4,886.7 1495.4,873.7 1496.0,878.8 1496.0,887.2 1496.7,885.6 1496.7,876.5 1497.3,873.7 1497.3,880.2 1498.0,876.0 1498.0,883.4 1498.6,877.7 1498.6,873.4 1499.3,880.4 1499.3,871.2 1499.9,868.3 1499.9,877.1 1500.6,874.3 1500.6,867.4 1501.2,869.2 1501.2,873.6 1501.8,867.7 1501.8,873.6 1502.5,873.7 1502.5,861.0 1503.1,867.9 1503.1,862.2 1503.7,868.2 1503.7,865.0 1504.3,867.9 1504.3,863.0 1505.0,866.5 1505.0,862.0 1505.6,856.9 1505.6,866.2 1506.2,862.2 1506.2,854.9 1506.8,859.7 1506.8,864.5 1507.4,861.7 1507.4,852.4 1508.0,855.9 1508.0,860.2 1508.6,861.9 1508.6,852.8 1509.2,860.7 1509.2,853.9 1509.8,858.6 1509.8,853.0 1510.4,860.2 1510.4,848.9 1511.1,848.0 1511.1,855.1 1511.7,856.0 1511.7,848.9 1512.4,847.5 1512.4,853.7 1513.1,847.8 1513.1,854.7 1513.7,855.1 1513.7,842.4 1514.4,851.4 1514.4,840.9 1515.0,848.7 1515.0,840.1 1515.7,839.9 1515.7,850.3 1516.3,848.0 1516.3,838.4 1517.0,840.6 1517.0,849.1 1517.6,838.6 1517.6,847.7 1518.2,844.8 1518.2,835.6 1518.9,841.0 1518.9,789.1 1519.5,834.7 1519.5,841.1 1520.1,842.9 1520.1,832.0 1520.8,841.6 1520.8,831.5 1521.4,839.1 1521.4,832.7 1522.0,839.8 1522.0,830.8 1522.6,829.3 1522.6,837.3 1523.2,828.7 1523.2,833.1 1523.9,836.1 1523.9,828.1 1524.5,832.7 1524.5,822.7 1525.1,825.3 1525.1,832.4 1525.7,824.9 1525.7,831.3 1526.3,820.0 1526.3,831.0 1526.9,822.8 1526.9,829.4 1527.5,820.7 1527.5,832.4 1528.1,827.8 1528.1,820.6 1528.8,832.0 1528.8,816.9 1529.5,819.3 1529.5,826.6 1530.1,824.4 1530.1,820.6 1530.8,827.9 1530.8,819.2 1531.4,812.6 1531.4,822.5 1532.1,815.1 1532.1,824.1 1532.7,823.7 1532.7,816.0 1533.3,814.1 1533.3,820.9 1534.0,813.5 1534.0,817.5 1534.6,818.5 1534.6,812.7 1535.2,820.5 1535.2,810.3 1535.9,814.6 1535.9,810.3 1536.5,814.8 1536.5,806.5 1537.1,809.6 1537.1,803.9 1537.7,804.6 1537.7,812.1 1538.4,798.1 1538.4,808.5 1539.0,793.8 1539.0,809.0 1539.6,807.2 1539.6,788.9 1540.2,807.1 1540.2,791.1 1540.8,789.1 1540.8,806.5 1541.4,802.2 1541.4,779.5 1542.0,805.6 1542.0,790.7 1542.7,802.3 1542.7,786.7 1543.3,796.2 1543.3,773.9 1543.9,796.2 1543.9,773.0 1544.5,796.7 1544.5,748.3 1545.2,797.0 1545.2,781.7 1545.8,794.0 1545.8,769.6 1546.5,788.7 1546.5,765.6 1547.1,793.4 1547.1,762.4 1547.8,767.2 1547.8,796.7 1548.4,791.8 1548.4,764.8 1549.0,764.1 1549.0,798.6 1549.7,749.7 1549.7,789.3 1550.3,763.0 1550.3,790.8 1550.9,780.4 1550.9,767.3 1551.6,748.1 1551.6,783.1 1552.2,784.3 1552.2,747.9 1552.8,784.4 1552.8,743.6 1553.4,789.0 1553.4,743.5 1554.0,785.4 1554.0,715.7 1554.6,743.3 1554.6,789.8 1555.3,780.0 1555.3,736.2 1555.9,775.4 1555.9,741.0 1556.5,742.4 1556.5,784.3 1557.1,789.4 1557.1,737.1 1557.7,772.9 1557.7,733.1 1558.3,727.5 1558.3,786.5 1559.0,731.0 1559.0,786.7 1559.6,777.4 1559.6,723.1 1560.3,782.1 1560.3,719.5 1560.9,725.5 1560.9,785.1 1561.5,768.9 1561.5,664.0 1562.2,721.6 1562.2,783.2 1562.8,783.0 1562.8,717.2 1563.4,778.7 1563.4,715.8 1564.1,741.4 1564.1,783.4 1564.7,786.4 1564.7,743.1 1565.3,765.6 1565.3,711.2 1565.9,782.1 1565.9,724.8 1566.6,781.8 1566.6,713.1 1567.2,723.3 1567.2,767.7 1567.8,759.4 1567.8,715.9 1568.4,712.3 1568.4,779.7 1569.0,716.9 1569.0,784.3 1569.6,780.5 1569.6,712.3 1570.2,777.8 1570.2,717.5 1570.8,775.7 1570.8,711.9 1571.4,710.2 1571.4,765.7 1572.0,711.6 1572.0,772.5 1572.7,765.1 1572.7,719.0 1573.3,778.4 1573.3,713.1 1574.0,718.3 1574.0,781.4 1574.6,781.4 1574.6,723.7 1575.2,784.6 1575.2,705.8 1575.9,716.6 1575.9,778.1 1576.5,776.0 1576.5,698.5 1577.1,721.9 1577.1,784.1 1577.7,767.6 1577.7,719.1 1578.4,778.3 1578.4,710.2 1579.0,779.0 1579.0,715.8 1579.6,712.3 1579.6,768.2 1580.2,778.2 1580.2,734.3 1580.8,784.0 1580.8,721.7 1581.4,782.0 1581.4,723.0 1582.0,729.8 1582.0,782.2 1582.7,779.7 1582.7,709.4 1583.3,772.0 1583.3,720.5 1583.9,782.8 1583.9,706.4 1584.5,783.8 1584.5,713.2 1585.2,781.6 1585.2,709.4 1585.8,731.3 1585.8,782.9 1586.4,720.9 1586.4,782.4 1587.1,710.7 1587.1,781.7 1587.7,705.7 1587.7,773.2 1588.3,781.9 1588.3,712.4 1588.9,781.7 1588.9,734.3 1589.6,721.2 1589.6,784.5 1590.2,770.4 1590.2,714.5 1590.8,772.1 1590.8,713.5 1591.4,783.6 1591.4,724.4 1592.0,784.3 1592.0,712.4 1592.6,779.5 1592.6,707.4 1593.2,705.0 1593.2,780.5 1593.9,776.7 1593.9,668.6 1594.5,711.8 1594.5,784.1 1595.1,783.0 1595.1,707.6 1595.7,778.4 1595.7,720.4 1596.3,786.0 1596.3,721.6 1596.9,712.6 1596.9,780.0 1597.6,705.9 1597.6,783.9 1598.2,702.9 1598.2,782.8 1598.8,705.9 1598.8,784.3 1599.5,783.3 1599.5,704.9 1600.1,708.2 1600.1,779.6 1600.7,774.7 1600.7,708.5 1601.3,769.8 1601.3,709.5 1601.9,706.2 1601.9,778.8 1602.6,774.8 1602.6,705.4 1603.2,780.0 1603.2,705.4 1603.8,714.1 1603.8,779.3 1604.4,776.7 1604.4,705.0 1605.0,785.3 1605.0,707.0 1605.6,703.4 1605.6,771.3 1606.2,710.6 1606.2,781.0 1606.8,708.9 1606.8,779.7 1607.5,783.0 1607.5,707.1 1608.1,704.1 1608.1,782.8 1608.7,771.2 1608.7,707.2 1609.4,783.2 1609.4,714.6 1610.0,716.8 1610.0,786.1 1610.6,713.2 1610.6,780.5 1611.2,781.1 1611.2,714.8 1611.8,730.4 1611.8,778.4 1612.5,716.0 1612.5,779.6 1613.1,782.5 1613.1,705.0 1613.7,719.6 1613.7,783.8 1614.3,703.8 1614.3,778.1 1614.9,699.2 1614.9,781.8 1615.5,705.2 1615.5,772.7 1616.1,717.5 1616.1,782.7 1616.7,705.3 1616.7,775.4 1617.4,710.5 1617.4,778.6 1618.0,780.3 1618.0,707.5 1618.6,782.1 1618.6,709.3 1619.3,783.1 1619.3,668.0 1619.9,714.8 1619.9,784.1 1620.5,786.1 1620.5,727.0 1621.1,707.2 1621.1,783.0 1621.7,784.1 1621.7,664.0 1622.3,787.0 1622.3,711.9 1623.0,709.4 1623.0,781.3 1623.6,780.1 1623.6,698.0 1624.2,707.7 1624.2,779.6 1624.8,777.7 1624.8,708.7 1625.4,783.0 1625.4,704.3 1626.0,773.7 1626.0,705.2 1626.6,774.8 1626.6,708.4 1627.2,711.9 1627.2,782.5 1627.9,781.5 1627.9,704.8 1628.5,781.0 1628.5,704.2 1629.1,785.1 1629.1,738.1 1629.7,783.3 1629.7,709.7 1630.4,766.6 1630.4,712.0 1631.0,782.0 1631.0,710.5 1631.6,709.6 1631.6,783.6 1632.2,715.4 1632.2,779.8 1632.8,783.1 1632.8,723.3 1633.4,710.5 1633.4,787.7 1634.0,705.2 1634.0,778.0 1634.6,704.1 1634.6,782.7 1635.2,781.8 1635.2,714.6 1635.9,701.3 1635.9,783.2 1636.5,720.8 1636.5,782.1 1637.1,776.4 1637.1,712.2 1637.7,668.0 1637.7,782.4 1638.4,774.0 1638.4,705.9 1639.0,725.0 1639.0,783.5 1639.6,778.0 1639.6,714.9 1640.2,785.0 1640.2,704.2 1640.8,707.4 1640.8,785.0 1641.4,785.5 1641.4,714.3 1642.0,666.0 1642.0,787.2 1642.6,708.9 1642.6,781.9 1643.2,779.0 1643.2,713.2 1643.9,704.5 1643.9,776.9 1644.5,777.9 1644.5,716.9 1645.1,783.7 1645.1,711.1 1645.7,670.0 1645.7,778.7 1646.4,782.7 1646.4,664.0 1647.0,784.5 1647.0,704.5 1647.6,706.0 1647.6,782.5 1648.2,704.5 1648.2,780.4 1648.8,781.7 1648.8,710.4 1649.4,777.3 1649.4,707.4 1650.0,783.8 1650.0,667.0 1650.6,787.8 1650.6,713.6 1651.2,733.8 1651.2,785.7 1651.9,707.4 1651.9,783.4 1652.5,704.8 1652.5,786.4 1653.1,705.9 1653.1,764.8 1653.7,669.0 1653.7,784.6 1654.3,704.8 1654.3,785.8 1655.0,782.4 1655.0,710.3 1655.6,788.1 1655.6,710.9 1656.2,780.0 1656.2,702.9 1656.8,783.3 1656.8,715.1 1657.4,706.5 1657.4,783.2 1658.0,776.6 1658.0,668.0 1658.6,782.0 1658.6,706.9 1659.2,704.8 1659.2,782.4 1659.8,786.9 1659.8,716.3 1660.5,787.4 1660.5,715.3 1661.1,784.7 1661.1,714.5 1661.7,785.8 1661.7,713.9 1662.3,785.0 1662.3,734.7 1662.9,722.1 1662.9,784.0 1663.5,740.2 1663.5,784.6 1664.2,778.0 1664.2,703.7 1664.8,783.3 1664.8,714.0 1665.4,785.8 1665.4,720.2 1666.0,784.4 1666.0,727.8 1666.6,707.2 1666.6,785.8 1667.2,789.7 1667.2,711.8 1667.8,709.4 1667.8,784.9 1668.4,786.1 1668.4,727.6 1669.1,711.2 1669.1,783.3 1669.7,785.6 1669.7,726.1 1670.3,784.5 1670.3,716.1 1670.9,786.7 1670.9,706.6 1671.5,707.2 1671.5,783.3 1672.1,782.6 1672.1,707.4 1672.7,668.0 1672.7,779.8 1673.3,703.6 1673.3,785.6 1673.9,710.9 1673.9,781.8 1674.6,784.5 1674.6,714.9 1675.2,712.5 1675.2,782.1 1675.8,780.3 1675.8,711.9 1676.4,785.0 1676.4,712.3 1677.0,710.1 1677.0,785.9 1677.6,780.1 1677.6,704.3 1678.2,784.1 1678.2,701.8 1678.9,784.7 1678.9,670.0 1679.5,788.3 1679.5,714.3 1680.1,782.2 1680.1,709.4 1680.7,781.7 1680.7,702.5 1681.3,708.1 1681.3,782.4 1681.9,782.4 1681.9,704.8 1682.5,709.3 1682.5,784.5 1683.2,782.5 1683.2,711.5 1683.8,789.2 1683.8,709.9 1684.4,714.4 1684.4,786.4 1685.0,783.5 1685.0,712.3 1685.6,708.4 1685.6,786.3 1686.2,710.7 1686.2,783.9 1686.8,783.2 1686.8,711.8 1687.4,705.1 1687.4,769.5 1688.0,705.1 1688.0,784.6 1688.7,785.5 1688.7,712.7 1689.3,779.7 1689.3,705.3 1689.9,705.8 1689.9,784.4 1690.5,708.2 1690.5,786.2 1691.1,782.0 1691.1,700.0 1691.7,703.6 1691.7,784.3 1692.3,706.6 1692.3,783.4 1692.9,780.7 1692.9,692.0 1693.5,709.4 1693.5,783.4 1694.2,708.0 1694.2,787.2 1694.8,706.8 1694.8,783.4 1695.4,776.3 1695.4,711.9 1696.0,785.2 1696.0,706.0 1696.6,705.4 1696.6,784.8 1697.2,718.0 1697.2,786.5 1697.8,784.1 1697.8,712.4 1698.4,785.8 1698.4,707.9 1699.0,711.7 1699.0,786.7 1699.7,782.0 1699.7,714.4 1700.3,706.6 1700.3,787.2 1700.9,786.7 1700.9,708.2 1701.5,708.7 1701.5,778.0 1702.1,781.5 1702.1,704.3 1702.7,784.6 1702.7,707.0 1703.3,711.4 1703.3,787.3 1703.9,785.6 1703.9,712.6 1704.5,725.9 1704.5,788.0 1705.1,714.2 1705.1,788.9 1705.8,708.0 1705.8,785.8 1706.4,781.0 1706.4,701.9 1707.0,782.8 1707.0,703.8 1707.6,781.9 1707.6,704.4 1708.2,704.7 1708.2,785.4 1708.8,778.2 1708.8,706.2 1709.4,783.9 1709.4,709.2 1710.0,712.0 1710.0,781.6 1710.6,713.0 1710.6,783.6 1711.2,726.5 1711.2,783.6 1711.9,785.0 1711.9,706.5 1712.5,785.0 1712.5,706.2 1713.1,703.4 1713.1,775.1 1713.7,703.5 1713.7,781.9 1714.3,783.6 1714.3,704.2 1714.9,780.1 1714.9,707.3 1715.5,782.9 1715.5,705.6 1716.1,785.6 1716.1,704.5 1716.7,785.0 1716.7,705.0 1717.3,719.4 1717.3,778.6 1718.0,783.6 1718.0,711.8 1718.6,782.0 1718.6,711.3 1719.2,705.9 1719.2,782.6 1719.8,783.0 1719.8,711.1 1720.4,712.6 1720.4,778.8 1721.0,783.2 1721.0,702.3 1721.6,784.3 1721.6,710.4 1722.2,714.1 1722.2,782.5 1722.8,719.2 1722.8,783.3 1723.4,707.0 1723.4,779.5 1724.1,783.3 1724.1,711.0 1724.7,709.1 1724.7,784.2 1725.3,781.4 1725.3,708.0 1725.9,711.2 1725.9,779.2 1726.5,712.9 1726.5,782.4 1727.1,779.9 1727.1,714.3 1727.7,721.0 1727.7,781.3 1728.3,779.8 1728.3,717.2 1728.9,781.4 1728.9,715.1 1729.5,783.0 1729.5,717.7 1730.1,773.9 1730.1,717.9 1730.7,783.2 1730.7,723.5 1731.3,785.1 1731.3,720.1 1732.0,726.5 1732.0,782.1 1732.6,780.6 1732.6,722.6 1733.2,782.3 1733.2,720.3 1733.8,779.5 1733.8,723.0 1734.4,725.3 1734.4,777.6 1735.0,786.7 1735.0,727.2 1735.6,726.6 1735.6,789.7 1736.2,727.3 1736.2,785.1 1736.8,729.4 1736.8,784.5 1737.4,785.3 1737.4,732.8 1738.1,729.8 1738.1,786.8 1738.7,729.5 1738.7,783.4 1739.3,784.6 1739.3,730.4 1739.9,786.9 1739.9,730.9 1740.5,738.4 1740.5,784.6 1741.1,735.1 1741.1,787.4 1741.7,789.2 1741.7,737.9 1742.3,789.6 1742.3,737.3 1742.9,744.8 1742.9,795.3 1743.5,738.9 1743.5,786.8 1744.1,788.9 1744.1,743.1 1744.7,790.4 1744.7,749.7 1745.3,744.5 1745.3,793.2 1746.0,744.5 1746.0,791.6 1746.6,744.6 1746.6,788.6 1747.2,749.7 1747.2,790.6 1747.8,752.1 1747.8,793.5 1748.4,752.3 1748.4,798.1 1749.0,795.1 1749.0,750.1 1749.6,792.8 1749.6,758.3 1750.2,796.0 1750.2,755.0 1750.8,756.9 1750.8,793.0 1751.4,799.6 1751.4,753.7 1752.0,753.3 1752.0,799.4 1752.6,765.0 1752.6,799.1 1753.2,799.0 1753.2,762.1 1753.9,763.2 1753.9,800.6 1754.5,801.6 1754.5,769.6 1755.1,801.2 1755.1,762.3 1755.7,761.6 1755.7,802.9 1756.3,801.9 1756.3,767.7 1756.9,803.8 1756.9,768.7 1757.5,807.9 1757.5,767.0 1758.1,801.8 1758.1,765.8 1758.7,771.3 1758.7,806.0 1759.3,803.4 1759.3,767.6 1759.9,769.2 1759.9,808.0 1760.6,809.5 1760.6,772.9 1761.2,806.9 1761.2,770.9 1761.8,807.0 1761.8,771.2 1762.4,772.0 1762.4,811.8 1763.0,809.8 1763.0,777.2 1763.6,775.4 1763.6,809.5 1764.2,775.7 1764.2,813.5 1764.8,775.1 1764.8,814.0 1765.4,816.3 1765.4,779.8 1766.0,812.7 1766.0,779.0 1766.6,817.2 1766.6,780.7 1767.2,786.2 1767.2,813.5 1767.8,816.7 1767.8,781.4 1768.4,818.2 1768.4,782.9 1769.0,818.1 1769.0,784.4 1769.7,784.5 1769.7,818.1 1770.3,785.8 1770.3,819.7 1770.9,819.9 1770.9,786.3 1771.5,819.3 1771.5,788.1 1772.1,822.9 1772.1,790.1 1772.7,791.0 1772.7,823.1 1773.3,822.1 1773.3,790.5 1773.9,792.8 1773.9,821.7 1774.5,785.3 1774.5,821.7 1775.1,790.8 1775.1,825.6 1775.7,823.2 1775.7,790.9 1776.3,822.3 1776.3,790.2 1776.9,823.3 1776.9,791.7 1777.6,795.2 1777.6,825.2 1778.2,789.6 1778.2,827.8 1778.8,823.8 1778.8,794.0 1779.4,825.9 1779.4,796.6 1780.0,793.5 1780.0,822.7 1780.6,824.3 1780.6,794.5 1781.2,792.0 1781.2,826.6 1781.8,797.5 1781.8,823.6 1782.4,827.1 1782.4,794.6 1783.0,792.2 1783.0,826.1 1783.6,826.1 1783.6,798.3 1784.2,826.9 1784.2,797.9 1784.8,795.1 1784.8,824.0 1785.5,794.1 1785.5,827.3 1786.1,825.1 1786.1,797.4 1786.7,826.0 1786.7,800.3 1787.3,805.6 1787.3,830.0 1787.9,826.9 1787.9,796.2 1788.5,801.7 1788.5,825.7 1789.1,827.5 1789.1,801.3 1789.7,800.1 1789.7,826.5 1790.3,826.1 1790.3,801.9 1790.9,826.9 1790.9,798.5 1791.5,800.2 1791.5,829.3 1792.1,830.1 1792.1,801.8 1792.7,802.9 1792.7,827.8 1793.3,798.4 1793.3,826.3 1793.9,801.1 1793.9,828.1 1794.5,829.8 1794.5,803.8 1795.1,828.2 1795.1,802.7 1795.8,827.0 1795.8,799.3 1796.4,802.0 1796.4,828.6 1797.0,831.2 1797.0,800.4 1797.6,802.3 1797.6,831.8 1798.2,825.3 1798.2,804.8 1798.8,829.3 1798.8,798.7 1799.4,828.0 1799.4,803.3 1800.0,803.5 1800.0,828.0 1800.6,829.4 1800.6,804.3 1801.2,802.0 1801.2,828.2 1801.8,830.3 1801.8,805.7 1802.4,829.1 1802.4,803.5 1803.0,827.2 1803.0,805.1 1803.6,804.1 1803.6,828.0 1804.2,827.2 1804.2,803.2 1804.8,805.7 1804.8,828.6 1805.5,830.3 1805.5,804.4 1806.1,804.6 1806.1,826.2 1806.7,827.0 1806.7,805.7 1807.3,803.8 1807.3,825.1 1807.9,828.4 1807.9,805.4 1808.5,825.4 1808.5,803.8 1809.1,805.2 1809.1,828.2 1809.7,827.1 1809.7,805.2 1810.3,826.4 1810.3,805.2 1810.9,826.1 1810.9,803.5 1811.5,805.1 1811.5,824.7 1812.1,807.0 1812.1,824.4 1812.7,824.2 1812.7,803.1 1813.3,824.1 1813.3,804.2 1813.9,805.6 1813.9,822.8 1814.5,825.2 1814.5,803.4 1815.2,805.2 1815.2,825.5 1815.8,805.9 1815.8,826.2 1816.4,806.8 1816.4,825.3 1817.0,805.8 1817.0,823.5 1817.6,804.9 1817.6,825.5 1818.2,806.0 1818.2,823.5 1818.8,805.4 1818.8,823.5 1819.4,805.0 1819.4,823.3 1820.0,824.7 1820.0,805.0 1820.6,824.2 1820.6,806.2 1821.2,805.2 1821.2,823.5 1821.8,805.2 1821.8,824.4 1822.4,824.8 1822.4,808.7 1823.0,823.0 1823.0,804.6 1823.6,824.5 1823.6,806.9 1824.2,823.2 1824.2,810.0 1824.8,823.2 1824.8,809.6 1825.4,810.1 1825.4,826.6 1826.0,826.6 1826.0,810.2 1826.7,812.8 1826.7,827.8 1827.3,812.1 1827.3,829.1 1827.9,831.3 1827.9,815.6 1828.5,827.8 1828.5,814.9 1829.1,833.7 1829.1,814.5 1829.7,819.5 1829.7,834.2 1830.3,836.0 1830.3,819.7 1830.9,836.6 1830.9,824.4 1831.5,826.8 1831.5,841.9 1832.1,841.0 1832.1,829.8 1832.7,831.0 1832.7,846.0 1833.3,836.4 1833.3,849.5 1833.9,840.6 1833.9,851.3 1834.5,842.3 1834.5,854.2 1835.1,847.3 1835.1,857.8 1835.7,849.6 1835.7,864.3 1836.3,868.9 1836.3,853.9 1836.9,856.9 1836.9,870.1 1837.5,862.1 1837.5,874.9 1838.1,865.7 1838.1,878.1 1838.6,872.1 1838.6,882.2" stroke="#ff0000" stroke-width="10"/>
<polyline points="323.9,405.9 787.8,426.9 897.7,527.9 963.2,674.5 1010.1,926.4 1046.6,1087.0 1076.5,1133.7 1101.8,1189.6 1123.8,1183.3 1143.2,1179.6 1160.5,1197.0 1176.2,1183.3 1190.6,1130.0 1203.8,1152.3 1216.0,1153.6 1227.4,1146.1 1238.1,1137.4 1248.1,1134.4 1257.6,1126.1 1266.5,1128.7 1275.0,1116.6 1283.1,1111.1 1290.8,1105.0 1298.1,1102.4 1305.2,1099.8 1311.9,1087.0 1318.4,1082.4 1324.7,1077.4 1330.7,1065.7 1336.5,1061.1 1342.1,1063.3 1347.5,1059.4 1352.8,1057.6 1357.9,1049.2 1362.8,1046.2 1367.6,1044.0 1372.3,1037.2 1376.8,1033.5 1381.2,1024.8 1385.5,1026.4 1389.7,1023.0 1393.8,1013.3 1397.8,1009.7 1401.7,1002.2 1405.5,999.3 1409.2,992.2 1412.9,986.5 1416.5,983.4 1419.9,985.9 1423.4,978.8 1426.7,978.2 1430.0,972.2 1433.2,968.7 1436.4,972.5 1439.5,967.2 1442.5,963.3 1445.5,958.2 1448.4,957.5 1451.3,954.4 1454.1,944.6 1456.9,945.0 1459.7,935.7 1462.4,936.2 1465.0,931.8 1467.6,927.8 1470.2,923.5 1472.7,920.1 1475.2,910.9 1477.7,910.2 1480.1,911.9 1482.5,907.1 1484.8,904.3 1487.1,897.8 1489.4,894.3 1491.7,886.9 1493.9,889.7 1496.1,881.6 1498.3,879.8 1500.4,874.2 1502.5,867.6 1504.6,864.0 1506.7,864.0 1508.7,856.4 1510.7,853.9 1512.7,848.9 1514.7,848.1 1516.6,840.9 1518.5,841.3 1520.4,840.1 1522.3,837.5 1524.1,834.8 1526.0,826.8 1527.8,822.8 1529.6,824.4 1531.3,820.8 1533.1,817.1 1534.8,813.0 1536.6,807.8 1538.3,805.5 1539.9,802.2 1541.6,786.9 1543.3,793.0 1544.9,797.3 1546.5,765.9 1548.1,792.1 1549.7,782.7 1551.3,762.5 1552.8,747.6 1554.4,758.3 1555.9,741.3 1557.4,753.6 1558.9,753.9 1560.4,724.6 1561.9,742.0 1563.3,755.5 1564.8,786.7 1566.2,780.3 1567.6,716.2 1569.1,759.6 1570.5,778.1 1571.8,762.1 1573.2,749.3 1574.6,767.8 1575.9,770.7 1577.3,760.4 1578.6,762.0 1579.9,778.2 1581.2,778.5 1582.5,710.7 1583.8,734.6 1585.1,718.3 1586.4,782.7 1587.6,732.5 1588.9,773.6 1590.1,770.7 1591.4,730.2 1592.6,767.3 1593.8,668.9 1595.0,731.1 1596.2,737.5 1597.4,706.2 1598.6,722.7 1599.8,734.0 1600.9,719.0 1602.1,774.5 1603.2,733.6 1604.4,753.5 1605.5,703.7 1606.6,770.3 1607.7,758.5 1608.8,752.5 1609.9,751.3 1611.0,754.3 1612.1,736.3 1613.2,714.1 1614.3,756.3 1615.4,749.3 1616.4,762.4 1617.5,754.9 1618.5,779.0 1619.6,727.1 1620.6,777.1 1621.6,664.3 1622.6,762.4 1623.6,721.7 1624.7,743.6 1625.7,748.4 1626.7,755.8 1627.6,743.0 1628.6,767.1 1629.6,778.0 1630.6,766.9 1631.5,765.0 1632.5,783.4 1633.5,784.1 1634.4,717.3 1635.4,767.2 1636.3,736.9 1637.2,757.7 1638.2,709.6 1639.1,771.3 1640.0,762.2 1640.9,707.7 1641.8,756.2 1642.7,709.2 1643.6,759.5 1644.5,758.3 1645.4,765.4 1646.3,664.3 1647.2,729.2 1648.1,749.5 1648.9,710.7 1649.8,739.9 1650.7,747.9 1651.5,734.4 1652.4,765.2 1653.2,706.2 1654.1,708.5 1654.9,747.1 1655.7,774.1 1656.6,783.6 1657.4,719.0 1658.2,761.1 1659.0,767.1 1659.8,756.1 1660.7,740.0 1661.5,784.0 1662.3,737.5 1663.1,750.7 1663.9,777.0 1664.7,783.6 1665.4,766.9 1666.2,783.6 1667.0,712.1 1667.8,742.0 1668.6,727.9 1669.3,775.9 1670.1,716.6 1670.9,784.5 1671.6,733.2 1672.4,707.7 1673.1,769.8 1673.9,772.6 1674.6,749.9 1675.4,775.7 1676.1,780.6 1676.8,777.6 1677.6,730.4 1678.3,726.9 1679.0,774.4 1679.7,788.6 1680.5,727.3 1681.2,718.3 1681.9,760.1 1682.6,767.7 1683.3,760.6 1684.0,771.3 1684.7,732.6 1685.4,708.7 1686.1,784.2 1686.8,778.0 1687.5,710.8 1688.2,747.0 1688.9,714.7 1689.5,710.3 1690.2,740.6 1690.9,741.4 1691.6,784.3 1692.2,724.8 1692.9,770.3 1693.6,709.7 1694.2,787.5 1694.9,769.8 1695.6,767.9 1696.2,783.7 1696.9,715.2 1697.5,763.4 1698.2,750.6 1698.8,712.0 1699.4,769.5 1700.1,726.3 1700.7,722.1 1701.4,771.1 1702.0,781.8 1702.6,779.0 1703.2,731.1 1703.9,723.0 1704.5,742.5 1705.1,784.0 1705.7,772.6 1706.3,719.2 1707.0,712.0 1707.6,731.0 1708.2,776.0 1708.8,710.8 1709.4,760.6 1710.0,712.3 1710.6,719.1 1711.2,775.2 1711.8,777.7 1712.4,712.8 1713.0,760.6 1713.6,708.3 1714.1,710.5 1714.7,713.2 1715.3,761.9 1715.9,782.0 1716.5,755.9 1717.0,722.7 1717.6,772.1 1718.2,781.4 1718.8,766.6 1719.3,731.5 1719.9,738.4 1720.5,768.8 1721.0,750.0 1721.6,759.6 1722.2,714.4 1722.7,747.9 1723.3,728.3 1723.8,751.7 1724.4,746.0 1724.9,762.6 1725.5,778.1 1726.0,778.0 1726.6,764.7 1727.1,748.9 1727.6,748.6 1728.2,760.6 1728.7,768.2 1729.3,770.8 1729.8,776.2 1730.3,719.9 1730.9,750.8 1731.4,749.1 1731.9,740.6 1732.4,722.9 1733.0,758.5 1733.5,739.6 1734.0,754.8 1734.5,742.6 1735.0,745.5 1735.6,759.0 1736.1,785.4 1736.6,775.9 1737.1,770.6 1737.6,736.6 1738.1,739.0 1738.6,755.5 1739.1,765.9 1739.6,731.2 1740.1,777.0 1740.6,772.3 1741.1,750.1 1741.6,780.0 1742.1,747.8 1742.6,760.3 1743.1,795.6 1743.6,766.4 1744.1,768.1 1744.6,759.0 1745.1,764.8 1745.6,786.9 1746.0,754.0 1746.5,769.4 1747.0,780.9 1747.5,768.6 1748.0,779.1 1748.4,780.2 1748.9,750.4 1749.4,779.0 1749.9,766.6 1750.3,782.3 1750.8,770.2 1751.3,758.3 1751.7,769.0 1752.2,792.2 1752.7,799.4 1753.1,786.7 1753.6,794.6 1754.1,780.4 1754.5,795.8 1755.0,795.8 1755.4,775.6 1755.9,789.2 1756.4,801.5 1756.8,798.3 1757.3,767.3 1757.7,785.5 1758.2,774.0 1758.6,797.7 1759.1,803.5 1759.5,770.2 1759.9,803.8 1760.4,799.2 1760.8,781.0 1761.3,803.4 1761.7,793.6 1762.2,806.9 1762.6,794.1 1763.0,790.7 1763.5,782.3 1763.9,789.8 1764.3,807.9 1764.8,797.3 1765.2,802.0 1765.6,793.3 1766.1,813.0 1766.5,805.9 1766.9,811.9 1767.3,799.0 1767.8,798.9 1768.2,800.2 1768.6,813.6 1769.0,785.7 1769.5,805.8 1769.9,811.3 1770.3,810.4 1770.7,791.7 1771.1,817.9 1771.5,792.5 1772.0,809.1 1772.4,797.7 1772.8,795.7 1773.2,810.9 1773.6,794.9 1774.0,820.3 1774.4,812.7 1774.8,798.3 1775.2,797.1 1775.6,806.7 1776.0,809.0 1776.4,811.1 1776.8,815.2 1777.2,802.7 1777.7,820.4 1778.0,806.7 1778.4,825.4 1778.8,823.7 1779.2,796.9 1779.6,802.0 1780.0,805.9 1780.4,821.1 1780.8,812.6 1781.2,797.9 1781.6,804.3 1782.0,799.6 1782.4,801.3 1782.8,817.6 1783.2,818.3 1783.5,808.1 1783.9,810.8 1784.3,808.8 1784.7,823.5 1785.1,809.6 1785.5,822.9 1785.8,821.4 1786.2,820.7 1786.6,801.4 1787.0,813.7 1787.4,810.9 1787.7,817.2 1788.1,827.2 1788.5,818.7 1788.9,810.4 1789.2,819.6 1789.6,822.2 1790.0,817.8 1790.3,815.5 1790.7,807.5 1791.1,798.8 1791.5,810.9 1791.8,817.6 1792.2,818.0 1792.6,809.8 1792.9,810.4 1793.3,810.2 1793.6,801.4 1794.0,815.6 1794.4,827.3 1794.7,806.2 1795.1,804.4 1795.4,818.0 1795.8,811.6 1796.2,810.8 1796.5,808.5 1796.9,805.4 1797.2,807.1 1797.6,804.4 1797.9,814.1 1798.3,821.5 1798.6,814.1 1799.0,824.6 1799.4,823.9 1799.7,808.6 1800.1,826.0 1800.4,815.9 1800.7,828.1 1801.1,815.0 1801.4,813.9 1801.8,827.0 1802.1,825.1 1802.5,827.9 1802.8,820.8 1803.2,813.5 1803.5,809.7 1803.9,823.4 1804.2,816.6 1804.5,819.2 1804.9,807.3 1805.2,822.4 1805.5,810.5 1805.9,821.2 1806.2,806.9 1806.6,816.1 1806.9,812.5 1807.2,807.3 1807.6,819.5 1807.9,807.3 1808.2,820.2 1808.6,815.0 1808.9,819.9 1809.2,815.3 1809.6,816.4 1809.9,816.3 1810.2,808.9 1810.5,822.6 1810.9,819.6 1811.2,820.5 1811.5,818.4 1811.8,819.3 1812.2,811.9 1812.5,818.0 1812.8,820.9 1813.1,812.0 1813.5,819.7 1813.8,808.0 1814.1,812.7 1814.4,822.5 1814.7,817.9 1815.1,806.8 1815.4,811.5 1815.7,806.3 1816.0,817.8 1816.3,816.2 1816.7,814.5 1817.0,820.0 1817.3,814.6 1817.6,817.0 1817.9,822.3 1818.2,813.1 1818.5,821.9 1818.9,820.5 1819.2,817.0 1819.5,817.2 1819.8,820.6 1820.1,816.9 1820.4,814.0 1820.7,818.3 1821.0,818.8 1821.3,813.7 1821.6,822.6 1821.9,814.9 1822.2,821.0 1822.6,816.9 1822.9,809.6 1823.2,820.4 1823.5,821.5 1823.8,818.4 1824.1,819.7 1824.4,814.6 1824.7,809.9 1825.0,815.6 1825.3,822.9 1825.6,810.4 1825.9,815.1 1826.2,814.9 1826.5,815.2 1826.8,821.4 1827.1,823.8 1827.4,821.9 1827.7,820.3 1828.0,818.6 1828.2,824.4 1828.5,822.2 1828.8,824.5 1829.1,820.6 1829.4,822.1 1829.7,833.6 1830.0,822.8 1830.3,829.0 1830.6,831.1 1830.9,834.6 1831.2,833.0 1831.5,832.4 1831.7,837.0 1832.0,834.8 1832.3,831.3 1832.6,839.6 1832.9,837.6 1833.2,838.2 1833.5,849.8 1833.8,848.0 1834.0,846.2 1834.3,846.1 1834.6,850.9 1834.9,853.7 1835.2,851.7 1835.5,856.4 1835.7,858.0 1836.0,864.6 1836.3,859.8 1836.6,863.2 1836.9,862.0 1837.1,866.6 1837.4,867.6 1837.7,866.0 1838.0,872.0 1838.3,875.1 1838.5,875.3" stroke="none" marker-start="url(#m1)" marker-mid="url(#m1)" marker-end="url(#m1)"/>
<path d="M326.4,302.5 394.2,305.7 442.2,310.5 479.4,315.4 509.8,321.3 535.5,327.6 557.7,334.4 577.3,341.6 594.8,350.3 610.6,360.0 625.1,370.4 638.4,380.7 650.7,389.5 662.2,398.7 672.9,408.3 683.0,417.5 692.5,426.3 701.4,434.6 710.0,442.7 718.1,450.4 725.8,457.8 733.2,464.8 740.2,471.6 747.0,478.1 753.5,484.5 759.8,490.8 765.8,496.7 771.7,502.9 777.3,511.1 782.7,516.5 788.0,523.0 793.1,528.8 798.1,531.6 802.9,535.9 807.6,537.5 812.1,544.3 816.5,549.9 820.8,549.6 825.0,552.4 829.1,556.2 833.1,558.3 837.1,563.1 840.9,564.3 844.6,570.3 848.2,573.3 851.8,577.3 855.3,582.1 858.7,587.1 862.1,586.7 865.4,591.5 868.6,594.9 871.8,594.9 874.9,599.2 877.9,596.2 880.9,595.6 883.8,598.0 886.7,597.0 889.6,602.3 892.4,602.7 895.1,607.7 897.8,604.3 900.5,605.7 903.1,616.9 905.6,619.5 908.2,627.5 910.7,627.1 913.1,630.9 915.5,636.3 917.9,636.6 920.3,634.5 922.6,636.0 924.9,642.0 927.2,643.0 929.4,645.7 931.6,645.8 933.8,647.0 935.9,646.8 938.0,644.9 940.1,649.1 942.2,650.6 944.2,645.3 946.2,649.1 948.2,654.3 950.2,660.2 952.1,653.6 954.0,655.2 955.9,657.7 957.8,660.0 959.6,657.0 961.5,659.7 963.3,658.0 965.1,659.4 966.9,658.7 968.6,661.4 970.4,660.8 972.1,663.1 973.8,663.4 975.5,667.1 977.1,671.8 978.8,668.7 980.4,665.3 982.0,665.6 983.6,665.1 985.2,661.4 986.8,665.5 988.4,666.1 989.9,671.5 991.4,671.0 992.9,674.7 994.5,676.3 995.9,673.1 997.4,672.4 998.9,671.7 1000.3,671.8 1001.8,676.6 1003.2,674.7 1004.6,674.4 1006.0,654.0 1007.4,680.5 1008.8,678.4 1010.1,678.5 1011.5,676.3 1012.8,679.3 1014.2,677.7 1015.5,677.6 1016.8,673.4 1018.1,673.0 1019.4,679.1 1020.7,684.4 1021.9,679.4 1023.2,683.3 1024.5,685.6 1025.7,696.3 1026.9,688.9 1028.2,686.6 1029.4,684.5 1030.6,689.8 1031.8,693.4 1033.0,691.2 1034.2,696.1 1035.3,700.6 1036.5,695.0 1037.6,695.6 1038.8,693.7 1039.9,691.6 1041.1,691.3 1042.2,692.0 1043.3,689.2 1044.4,691.7 1045.5,695.7 1046.6,694.5 1047.7,692.3 1048.8,691.2 1049.9,694.6 1050.9,695.0 1052.0,698.4 1053.0,696.5 1054.1,692.1 1055.1,696.2 1056.2,695.7 1057.2,699.8 1058.2,700.7 1059.2,691.4 1060.2,688.7 1061.2,693.4 1062.2,693.5 1063.2,689.3 1064.2,692.2 1065.2,699.0 1066.2,700.6 1067.1,697.0 1068.1,698.6 1069.0,701.6 1070.0,699.6 1070.9,704.3 1071.9,699.6 1072.8,705.2 1073.7,706.4 1074.7,704.1 1075.6,702.2 1076.5,701.2 1077.4,697.2 1078.3,700.7 1079.2,703.3 1080.1,703.1 1081.0,701.6 1081.9,700.2 1082.8,696.6 1083.6,695.5 1084.5,692.7 1085.4,696.4 1086.2,694.4 1087.1,698.0 1088.0,695.6 1088.8,700.0 1089.6,702.4 1090.5,703.3 1091.3,702.6 1092.2,698.3 1093.0,695.9 1093.8,693.5 1094.6,695.0 1095.4,699.2 1096.3,693.9 1097.1,700.3 1097.9,695.6 1098.7,691.5 1099.5,693.3 1100.3,696.0 1101.0,693.6 1101.8,691.5 1102.6,696.1 1103.4,691.4 1104.2,694.4 1104.9,693.6 1105.7,691.7 1106.5,691.8 1107.2,688.8 1108.0,687.2 1108.7,689.9 1109.5,687.7 1110.2,687.2 1111.0,692.6 1111.7,696.1 1112.4,696.0 1113.2,695.2 1113.9,691.9 1114.6,691.0 1115.3,688.3 1116.1,681.6 1116.8,685.8 1117.5,687.9 1118.2,690.8 1118.9,686.5 1119.6,690.3 1120.3,687.8 1121.0,684.7 1121.7,685.5 1122.4,688.8 1123.1,688.0 1123.8,687.5 1124.5,685.4 1125.2,687.2 1125.8,689.3 1126.5,685.5 1127.2,686.8 1127.9,682.9 1128.5,684.8 1129.2,681.3 1129.8,684.2 1130.5,684.5 1131.2,681.8 1131.8,684.0 1132.5,681.6 1133.1,683.0 1133.8,681.1 1134.4,683.7 1135.1,682.1 1135.7,686.2 1136.3,685.6 1137.0,685.5 1137.6,680.6 1138.2,676.2 1138.9,677.1 1139.5,683.9 1140.1,680.3 1140.7,683.8 1141.3,685.5 1142.0,681.6 1142.6,680.5 1143.2,680.5 1143.8,681.1 1144.4,679.3 1145.0,677.9 1145.6,678.6 1146.5,678.3 1146.5,681.3 1147.7,680.2 1147.7,681.8 1148.9,679.3 1148.9,684.2 1150.1,680.1 1150.1,677.8 1151.2,674.8 1151.2,671.0 1152.4,670.9 1152.4,673.4 1153.5,671.5 1153.5,674.8 1154.7,670.3 1154.7,667.8 1155.8,671.2 1155.8,672.9 1156.9,669.9 1156.9,673.6 1158.0,676.1 1158.0,674.7 1159.2,669.9 1159.2,673.5 1160.3,671.4 1160.3,669.4 1161.4,671.6 1161.4,669.2 1162.5,673.2 1162.5,669.9 1163.5,672.4 1164.6,675.1 1164.6,673.2 1165.7,673.0 1165.7,669.8 1166.7,668.5 1166.7,666.9 1167.8,669.2 1167.8,666.9 1168.8,670.9 1168.8,668.9 1169.9,665.2 1169.9,664.5 1170.9,668.5 1170.9,666.4 1172.0,667.8 1172.0,663.3 1173.0,665.7 1173.0,667.6 1174.0,667.8 1174.0,668.4 1175.0,664.4 1175.0,660.8 1176.0,659.6 1176.0,666.4 1177.0,665.0 1177.0,666.3 1178.0,663.6 1178.0,665.3 1179.0,660.5 1179.0,662.5 1180.0,659.9 1180.9,662.3 1180.9,663.9 1181.9,662.1 1181.9,660.5 1182.9,663.6 1182.9,664.2 1183.8,660.5 1184.8,659.3 1184.8,661.3 1185.7,660.7 1186.7,659.4 1186.7,657.2 1187.6,659.7 1187.6,659.3 1188.5,652.6 1188.5,653.6 1189.5,655.4 1189.5,653.9 1190.4,652.6 1190.4,647.0 1191.3,654.5 1191.3,652.4 1192.2,654.3 1192.2,657.4 1193.1,658.0 1194.0,655.3 1194.0,657.1 1194.9,655.1 1194.9,656.0 1195.8,651.7 1195.8,654.9 1196.7,652.2 1197.6,654.3 1197.6,652.9 1198.4,650.8 1199.3,653.2 1199.3,654.5 1200.2,653.9 1200.2,650.6 1201.0,649.3 1201.0,651.0 1201.9,652.0 1201.9,649.0 1202.8,647.4 1202.8,649.7 1203.6,651.7 1203.6,650.2 1204.5,646.5 1204.5,650.9 1205.3,649.5 1206.1,643.7 1207.0,644.9 1207.0,646.6 1207.8,644.5 1207.8,641.9 1208.6,640.3 1208.6,642.2 1209.4,644.6 1209.4,645.6 1210.3,641.6 1211.1,643.0 1211.1,646.1 1211.9,646.5 1211.9,646.0 1212.7,641.2 1212.7,645.0 1213.5,644.2 1214.3,642.3 1215.1,641.8 1215.1,641.4 1215.9,640.0 1215.9,642.7 1216.6,644.5 1216.6,642.1 1217.4,640.1 1217.4,639.1 1218.2,639.6 1218.2,643.7 1219.0,642.1 1219.0,645.6 1219.8,640.4 1219.8,638.1 1220.5,637.6 1220.5,637.0 1221.3,639.3 1221.3,643.5 1222.0,640.0 1222.0,640.6 1222.8,643.0 1222.8,646.4 1223.6,643.3 1224.3,644.0 1224.3,641.5 1225.0,641.3 1225.0,639.0 1225.8,636.6 1225.8,636.0 1226.5,639.5 1226.5,641.5 1227.3,640.1 1227.3,636.0 1228.0,639.3 1228.0,638.1 1228.7,640.8 1228.7,639.0 1229.5,635.2 1230.2,634.2 1230.2,638.6 1230.9,632.3 1230.9,632.7 1231.6,633.4 1231.6,629.9 1232.3,633.5 1232.3,635.6 1233.0,637.1 1233.0,637.8 1233.8,636.0 1233.8,637.3 1234.5,634.7 1235.2,634.6 1235.9,635.2 1235.9,632.9 1236.6,632.9 1236.6,631.7 1237.3,632.5 1237.3,633.4 1237.9,631.4 1237.9,635.1 1238.6,638.0 1238.6,636.4 1239.3,634.5 1239.3,631.9 1240.0,631.3 1240.7,632.9 1240.7,632.1 1241.4,633.3 1242.0,631.2 1242.0,628.1 1242.7,626.9 1242.7,626.4 1243.4,628.4 1243.4,631.8 1244.0,629.0 1244.0,630.9 1244.7,630.0 1244.7,632.5 1245.4,635.9 1245.4,634.9 1246.0,632.8 1246.0,632.0 1246.7,633.3 1246.7,630.4 1247.3,627.9 1247.3,628.6 1248.0,631.9 1248.0,628.6 1248.6,630.7 1248.6,631.2 1249.3,629.0 1249.3,626.7 1249.9,623.6 1249.9,623.0 1250.5,625.4 1250.5,627.8 1251.2,626.0 1251.2,625.1 1251.8,624.1 1251.8,630.5 1252.5,625.4 1252.5,622.5 1253.1,626.5 1253.1,623.7 1253.7,626.8 1253.7,624.2 1254.3,627.0 1254.3,629.0 1255.0,625.9 1255.0,625.2 1255.6,622.7 1255.6,625.5 1256.2,624.1 1256.2,622.0 1256.8,623.9 1256.8,624.6 1257.4,623.9 1257.4,622.7 1258.0,625.1 1258.0,622.6 1258.7,621.0 1259.3,623.0 1259.3,621.8 1259.9,620.5 1259.9,618.9 1260.5,618.6 1261.2,624.6 1261.2,618.8 1262.1,620.1 1262.1,616.7 1263.0,619.9 1263.0,624.3 1263.9,622.1 1263.9,619.9 1264.8,615.9 1264.8,621.0 1265.6,621.0 1265.6,619.0 1266.5,618.4 1266.5,616.0 1267.4,619.8 1267.4,612.9 1268.3,618.2 1268.3,622.2 1269.1,618.2 1269.1,611.2 1270.0,611.7 1270.0,618.8 1270.8,614.6 1270.8,618.7 1271.7,620.1 1271.7,616.1 1272.5,618.5 1272.5,614.5 1273.3,611.4 1273.3,609.7 1274.2,609.0 1274.2,610.1 1275.0,609.6 1275.0,614.0 1275.8,610.8 1275.8,609.0 1276.6,607.2 1276.6,614.8 1277.5,611.7 1277.5,614.0 1278.3,608.1 1278.3,607.7 1279.1,605.9 1279.1,613.4 1279.9,612.2 1279.9,615.0 1280.7,607.3 1280.7,613.2 1281.5,613.1 1281.5,611.5 1282.3,615.8 1282.3,607.4 1283.1,602.3 1283.1,607.6 1283.9,608.4 1283.9,610.2 1284.6,611.6 1284.6,601.8 1285.4,602.3 1285.4,606.4 1286.2,598.6 1286.2,604.9 1287.0,606.3 1287.0,603.6 1287.7,598.6 1287.7,608.0 1288.5,602.9 1288.5,608.7 1289.3,602.1 1289.3,601.4 1290.0,597.6 1290.0,603.3 1290.8,596.1 1290.8,601.5 1291.5,598.0 1291.5,602.3 1292.3,603.4 1292.3,599.9 1293.0,600.8 1293.0,607.9 1293.7,605.6 1293.7,604.8 1294.5,601.3 1294.5,595.4 1295.2,596.4 1295.2,597.8 1296.0,595.4 1296.0,594.5 1296.7,592.7 1296.7,588.4 1297.4,590.4 1297.4,592.4 1298.1,592.2 1298.1,589.1 1298.8,587.3 1298.8,590.3 1299.6,588.5 1299.6,583.2 1300.3,591.2 1300.3,587.3 1301.0,587.2 1301.0,592.4 1301.7,583.4 1301.7,584.5 1302.4,585.5 1302.4,579.9 1303.1,582.3 1303.1,587.8 1303.8,585.8 1303.8,589.0 1304.5,587.8 1304.5,576.3 1305.2,580.5 1305.2,583.8 1305.9,581.2 1305.9,576.2 1306.5,575.4 1306.5,572.3 1307.2,568.5 1307.2,577.2 1307.9,580.7 1307.9,576.8 1308.6,577.3 1308.6,569.6 1309.3,570.5 1309.3,573.1 1309.9,569.4 1309.9,573.3 1310.6,572.8 1310.6,571.6 1311.3,574.0 1311.3,569.9 1311.9,573.4 1311.9,569.9 1312.6,569.5 1312.6,571.6 1313.2,572.2 1313.2,570.0 1313.9,570.2 1313.9,566.8 1314.5,563.2 1314.5,572.0 1315.2,567.1 1315.2,569.5 1315.8,568.2 1315.8,570.9 1316.5,568.6 1316.5,562.4 1317.1,566.0 1317.1,570.5 1317.8,567.7 1317.8,488.7 1318.4,565.6 1318.4,568.9 1319.0,565.2 1319.0,561.4 1319.7,566.6 1319.7,562.9 1320.3,563.5 1320.3,570.7 1320.9,571.0 1320.9,571.7 1321.6,568.5 1321.6,563.4 1322.2,566.8 1322.2,564.9 1322.8,566.8 1322.8,570.5 1323.4,566.3 1323.4,568.0 1324.0,566.7 1324.0,563.9 1324.7,566.2 1324.7,562.7 1325.3,565.3 1325.3,570.3 1325.9,562.0 1325.9,567.5 1326.5,561.9 1326.5,571.4 1327.1,569.5 1327.1,565.8 1327.7,569.3 1327.7,565.3 1328.4,567.8 1328.4,572.4 1329.2,569.9 1329.2,565.5 1330.0,555.9 1330.0,563.7 1330.8,563.8 1330.8,557.9 1331.6,565.7 1331.6,558.2 1332.3,570.8 1332.3,563.6 1333.1,561.3 1333.1,566.5 1333.9,562.6 1333.9,557.0 1334.7,563.8 1334.7,555.4 1335.4,562.6 1335.4,567.5 1336.2,557.4 1336.2,562.0 1337.0,560.6 1337.0,555.1 1337.7,558.5 1337.7,550.7 1338.5,555.9 1338.5,560.0 1339.2,552.9 1339.2,561.4 1340.0,554.2 1340.0,559.8 1340.7,554.3 1340.7,563.8 1341.5,553.5 1341.5,560.7 1342.2,560.1 1342.2,565.4 1342.9,557.4 1342.9,560.5 1343.7,556.4 1343.7,549.6 1344.4,558.5 1344.4,556.3 1345.1,555.4 1345.1,551.3 1345.8,561.0 1345.8,550.2 1346.5,559.6 1346.5,548.7 1347.3,548.4 1347.3,554.0 1348.0,555.3 1348.0,555.7 1348.7,553.4 1348.7,560.2 1349.4,555.4 1349.4,547.4 1350.1,550.8 1350.1,560.1 1350.8,558.5 1350.8,555.1 1351.5,554.6 1351.5,559.6 1352.2,559.4 1352.2,562.3 1352.9,562.2 1352.9,558.9 1353.6,557.9 1353.6,556.1 1354.2,557.4 1354.2,551.3 1354.9,550.5 1354.9,553.6 1355.6,547.9 1355.6,545.4 1356.3,551.7 1356.3,560.9 1357.0,563.2 1357.0,554.8 1357.6,550.6 1357.6,555.5 1358.3,556.5 1358.3,561.2 1359.0,560.2 1359.0,554.7 1359.6,568.0 1359.6,555.9 1360.3,548.6 1360.3,559.7 1360.9,554.6 1360.9,561.2 1361.6,557.3 1361.6,562.1 1362.3,558.6 1362.3,552.7 1362.9,552.4 1362.9,567.1 1363.6,559.6 1363.6,561.8 1364.2,557.4 1364.2,563.2 1364.8,564.2 1364.8,415.6 1365.5,565.3 1365.5,559.6 1366.1,559.6 1366.1,568.0 1366.8,566.2 1366.8,563.8 1367.4,567.4 1367.4,508.4 1368.0,570.1 1368.0,566.6 1368.6,564.8 1368.6,570.1 1369.3,567.4 1369.3,572.2 1369.9,564.5 1369.9,569.8 1370.5,566.5 1370.5,575.1 1371.1,573.4 1371.1,578.1 1371.8,577.4 1371.8,585.3 1372.4,580.9 1372.4,585.1 1373.0,583.4 1373.0,574.0 1373.6,585.8 1373.6,588.9 1374.2,582.8 1374.2,589.0 1374.8,575.8 1374.8,584.4 1375.4,584.5 1375.4,580.8 1376.1,587.2 1376.1,591.5 1376.8,592.9 1376.8,584.5 1377.6,590.0 1377.6,583.7 1378.3,592.9 1378.3,588.8 1379.0,587.7 1379.0,582.2 1379.8,585.3 1379.8,599.4 1380.5,593.4 1380.5,590.6 1381.2,588.6 1381.2,594.2 1382.0,588.5 1382.0,596.9 1382.7,593.8 1382.7,592.2 1383.4,592.3 1383.4,600.5 1384.1,593.1 1384.1,602.2 1384.8,595.4 1384.8,603.1 1385.5,601.5 1385.5,594.6 1386.3,599.1 1386.3,590.8 1387.0,591.5 1387.0,604.3 1387.7,596.8 1387.7,599.2 1388.4,601.4 1388.4,596.3 1389.0,600.7 1389.0,595.3 1389.7,591.5 1389.7,598.1 1390.4,604.2 1390.4,592.2 1391.1,602.4 1391.1,593.6 1391.8,593.5 1391.8,599.2 1392.5,605.2 1392.5,596.2 1393.2,594.1 1393.2,602.0 1393.8,597.1 1393.8,603.2 1394.5,598.0 1394.5,607.1 1395.2,597.2 1395.2,605.6 1395.8,597.3 1395.8,603.7 1396.5,593.8 1396.5,597.9 1397.2,598.7 1397.2,603.5 1397.8,602.5 1397.8,596.4 1398.5,602.2 1398.5,606.0 1399.1,598.9 1399.1,605.3 1399.8,597.2 1399.8,604.6 1400.4,595.7 1400.4,604.9 1401.1,601.3 1401.1,597.6 1401.7,601.8 1401.7,605.3 1402.4,606.3 1402.4,602.2 1403.0,601.6 1403.0,610.1 1403.6,604.8 1403.6,601.3 1404.3,601.3 1404.3,610.8 1404.9,607.1 1404.9,605.2 1405.5,605.4 1405.5,599.2 1406.2,600.8 1406.2,604.9 1406.8,602.1 1406.8,607.8 1407.4,605.2 1407.4,609.1 1408.0,602.0 1408.0,608.7 1408.6,601.7 1408.6,610.2 1409.3,616.7 1409.3,606.5 1409.9,602.7 1409.9,607.0 1410.5,610.2 1410.5,601.5 1411.1,614.6 1411.1,603.5 1411.7,605.7 1411.7,616.2 1412.3,616.6 1412.3,606.3 1412.9,606.4 1412.9,616.3 1413.6,616.3 1413.6,608.2 1414.3,609.8 1414.3,619.6 1415.0,610.4 1415.0,617.4 1415.7,617.4 1415.7,612.7 1416.4,618.2 1416.4,612.0 1417.1,612.1 1417.1,621.6 1417.8,616.0 1417.8,622.6 1418.5,619.7 1418.5,613.5 1419.2,612.3 1419.2,622.0 1419.9,619.9 1419.9,613.8 1420.6,614.9 1420.6,620.2 1421.3,626.4 1421.3,611.1 1421.9,615.2 1421.9,618.5 1422.6,616.3 1422.6,627.8 1423.3,625.3 1423.3,614.9 1424.0,621.6 1424.0,619.1 1424.7,621.5 1424.7,629.2 1425.3,627.9 1425.3,620.5 1426.0,620.3 1426.0,625.8 1426.7,626.3 1426.7,621.3 1427.3,629.9 1427.3,622.6 1428.0,619.3 1428.0,632.9 1428.6,635.3 1428.6,627.1 1429.3,627.0 1429.3,631.9 1429.9,621.1 1429.9,630.1 1430.6,621.5 1430.6,631.0 1431.2,629.7 1431.2,625.7 1431.9,627.7 1431.9,631.8 1432.5,629.5 1432.5,621.3 1433.2,627.3 1433.2,636.4 1433.8,632.7 1433.8,626.9 1434.4,632.0 1434.4,628.2 1435.1,632.0 1435.1,636.1 1435.7,627.7 1435.7,634.7 1436.3,631.4 1436.3,638.0 1436.9,628.3 1436.9,635.0 1437.6,632.3 1437.6,629.1 1438.2,631.2 1438.2,627.4 1438.8,629.8 1438.8,637.2 1439.4,630.9 1439.4,637.6 1440.0,628.5 1440.0,636.9 1440.6,625.4 1440.6,631.7 1441.2,628.0 1441.2,633.5 1441.8,631.0 1441.8,634.3 1442.5,637.4 1442.5,629.7 1443.1,626.0 1443.1,635.0 1443.7,631.6 1443.7,636.4 1444.4,636.0 1444.4,628.6 1445.1,637.6 1445.1,631.0 1445.8,634.5 1445.8,632.7 1446.5,640.6 1446.5,629.0 1447.2,633.7 1447.2,636.9 1447.8,638.2 1447.8,633.8 1448.5,631.6 1448.5,639.2 1449.2,638.0 1449.2,641.6 1449.9,634.8 1449.9,639.6 1450.5,633.6 1450.5,638.7 1451.2,641.6 1451.2,636.4 1451.9,636.8 1451.9,641.8 1452.5,636.7 1452.5,633.5 1453.2,633.5 1453.2,643.3 1453.9,643.9 1453.9,633.7 1454.5,634.0 1454.5,639.1 1455.2,631.2 1455.2,639.2 1455.8,641.5 1455.8,636.5 1456.5,641.2 1456.5,636.8 1457.1,630.6 1457.1,636.5 1457.8,636.3 1457.8,640.7 1458.4,643.7 1458.4,634.9 1459.0,632.0 1459.0,638.8 1459.7,634.8 1459.7,643.1 1460.3,638.9 1460.3,633.6 1460.9,633.8 1460.9,638.6 1461.6,638.1 1461.6,646.8 1462.2,637.5 1462.2,642.4 1462.8,642.2 1462.8,634.8 1463.4,635.6 1463.4,644.5 1464.0,644.5 1464.0,635.0 1464.7,648.6 1464.7,637.9 1465.3,640.1 1465.3,632.0 1465.9,636.7 1465.9,643.9 1466.5,644.1 1466.5,635.6 1467.1,637.2 1467.1,642.9 1467.7,647.2 1467.7,633.9 1468.3,640.5 1468.3,636.1 1469.0,638.1 1469.0,645.2 1469.6,640.6 1469.6,634.4 1470.3,645.9 1470.3,634.8 1471.0,643.1 1471.0,633.7 1471.7,638.5 1471.7,647.7 1472.3,636.4 1472.3,644.0 1473.0,644.5 1473.0,634.6 1473.7,648.7 1473.7,644.9 1474.3,643.8 1474.3,638.0 1475.0,636.2 1475.0,643.9 1475.7,646.3 1475.7,640.5 1476.3,644.9 1476.3,632.5 1477.0,637.7 1477.0,645.6 1477.6,638.6 1477.6,644.1 1478.3,646.5 1478.3,635.7 1478.9,640.7 1478.9,635.6 1479.6,646.0 1479.6,639.0 1480.2,637.2 1480.2,644.1 1480.8,644.2 1480.8,640.2 1481.5,645.2 1481.5,640.2 1482.1,646.4 1482.1,638.9 1482.8,638.6 1482.8,645.1 1483.4,646.3 1483.4,642.2 1484.0,649.7 1484.0,641.9 1484.6,648.2 1484.6,639.7 1485.3,639.9 1485.3,647.1 1485.9,638.9 1485.9,644.9 1486.5,643.6 1486.5,636.9 1487.1,643.1 1487.1,645.7 1487.7,644.0 1487.7,638.3 1488.3,647.2 1488.3,641.6 1488.9,639.4 1488.9,648.0 1489.5,647.6 1489.5,637.5 1490.1,634.1 1490.1,644.0 1490.8,640.7 1490.8,649.2 1491.4,636.5 1491.4,648.6 1492.1,646.8 1492.1,639.8 1492.7,638.7 1492.7,648.0 1493.4,649.3 1493.4,641.8 1494.1,650.6 1494.1,639.1 1494.7,640.6 1494.7,650.7 1495.4,645.5 1495.4,639.3 1496.0,638.9 1496.0,645.6 1496.7,640.3 1496.7,647.6 1497.3,650.8 1497.3,645.5 1498.0,644.6 1498.0,638.8 1498.6,644.8 1498.6,638.4 1499.3,639.1 1499.3,644.8 1499.9,645.3 1499.9,640.3 1500.6,647.4 1500.6,639.0 1501.2,638.8 1501.2,646.9 1501.8,651.7 1501.8,640.8 1502.5,645.6 1502.5,639.5 1503.1,645.6 1503.1,639.2 1503.7,647.8 1503.7,641.1 1504.3,642.2 1504.3,651.7 1505.0,647.3 1505.0,640.8 1505.6,647.7 1505.6,641.9 1506.2,645.5 1506.2,638.0 1506.8,639.4 1506.8,647.0 1507.4,646.1 1507.4,640.0 1508.0,641.6 1508.0,646.6 1508.6,645.0 1508.6,638.1 1509.2,638.0 1509.2,644.9 1509.8,638.8 1509.8,649.7 1510.4,647.4 1510.4,639.8 1511.1,646.2 1511.1,638.7 1511.7,638.0 1511.7,645.5 1512.4,645.5 1512.4,638.3 1513.1,640.8 1513.1,647.1 1513.7,645.5 1513.7,637.7 1514.4,640.5 1514.4,645.6 1515.0,640.4 1515.0,646.8 1515.7,639.4 1515.7,644.8 1516.3,641.5 1516.3,646.4 1517.0,646.1 1517.0,636.9 1517.6,640.7 1517.6,646.7 1518.2,640.5 1518.2,647.8 1518.9,646.9 1518.9,639.8 1519.5,645.7 1519.5,638.3 1520.1,636.4 1520.1,645.4 1520.8,639.8 1520.8,647.4 1521.4,638.7 1521.4,648.4 1522.0,638.6 1522.0,650.3 1522.6,638.9 1522.6,647.8 1523.2,641.1 1523.2,646.1 1523.9,646.0 1523.9,638.3 1524.5,638.8 1524.5,645.3 1525.1,648.6 1525.1,642.2 1525.7,638.2 1525.7,647.2 1526.3,645.7 1526.3,636.5 1526.9,639.1 1526.9,650.7 1527.5,641.2 1527.5,646.9 1528.1,644.9 1528.1,638.1 1528.8,638.2 1528.8,646.1 1529.5,637.4 1529.5,646.0 1530.1,640.0 1530.1,649.9 1530.8,648.5 1530.8,636.4 1531.4,647.2 1531.4,639.2 1532.1,639.5 1532.1,646.6 1532.7,647.3 1532.7,636.0 1533.3,648.0 1533.3,638.7 1534.0,638.0 1534.0,648.4 1534.6,636.5 1534.6,645.7 1535.2,639.5 1535.2,649.2 1535.9,637.8 1535.9,650.3 1536.5,638.9 1536.5,645.2 1537.1,641.4 1537.1,646.5 1537.7,647.1 1537.7,639.4 1538.4,646.9 1538.4,641.7 1539.0,646.8 1539.0,638.4 1539.6,648.0 1539.6,635.4 1540.2,647.5 1540.2,639.8 1540.8,639.0 1540.8,650.6 1541.4,639.9 1541.4,645.1 1542.0,648.0 1542.0,638.7 1542.7,644.8 1542.7,637.1 1543.3,640.6 1543.3,646.7 1543.9,647.2 1543.9,637.4 1544.5,639.6 1544.5,648.2 1545.2,648.3 1545.2,639.1 1545.8,645.4 1545.8,637.9 1546.5,647.0 1546.5,636.1 1547.1,635.9 1547.1,645.3 1547.8,642.7 1547.8,648.4 1548.4,643.4 1548.4,654.5 1549.0,650.5 1549.0,643.2 1549.7,641.8 1549.7,652.0 1550.3,639.5 1550.3,648.4 1550.9,646.6 1550.9,638.6 1551.6,641.8 1551.6,651.1 1552.2,645.4 1552.2,637.9 1552.8,651.2 1552.8,640.3 1553.4,646.7 1553.4,640.3 1554.0,645.9 1554.0,641.3 1554.7,638.9 1554.7,647.2 1555.3,638.5 1555.3,645.3 1555.9,644.0 1555.9,649.8 1556.5,646.4 1556.5,639.0 1557.1,643.8 1557.1,648.9 1557.7,638.1 1557.7,646.2 1558.3,647.5 1558.3,637.2 1559.0,650.4 1559.0,640.3 1559.6,647.3 1559.6,640.4 1560.3,642.2 1560.3,648.8 1560.9,646.9 1560.9,636.1 1561.5,645.7 1561.5,639.5 1562.2,645.3 1562.2,638.8 1562.8,652.3 1562.8,636.3 1563.4,647.2 1563.4,638.2 1564.1,646.2 1564.1,638.2 1564.7,637.1 1564.7,647.5 1565.3,649.2 1565.3,643.7 1565.9,648.3 1565.9,636.2 1566.6,639.4 1566.6,647.8 1567.2,646.9 1567.2,635.7 1567.8,640.1 1567.8,648.2 1568.4,646.9 1568.4,638.2 1569.0,642.2 1569.0,650.3 1569.6,641.2 1569.6,648.7 1570.2,648.3 1570.2,638.4 1570.8,635.7 1570.8,644.4 1571.4,639.0 1571.4,649.9 1572.0,640.9 1572.0,646.2 1572.7,649.1 1572.7,640.1 1573.3,646.7 1573.3,638.9 1574.0,638.9 1574.0,647.2 1574.6,644.4 1574.6,637.0 1575.2,639.6 1575.2,648.9 1575.9,641.4 1575.9,653.0 1576.5,642.8 1576.5,649.4 1577.1,640.9 1577.1,647.8 1577.7,650.4 1577.7,642.8 1578.4,649.3 1578.4,642.4 1579.0,641.6 1579.0,650.6 1579.6,646.2 1579.6,638.9 1580.2,637.0 1580.2,648.0 1580.8,646.8 1580.8,639.6 1581.4,648.0 1581.4,639.8 1582.0,653.2 1582.0,636.1 1582.7,640.3 1582.7,649.6 1583.3,649.7 1583.3,637.7 1583.9,640.7 1583.9,650.5 1584.5,641.4 1584.5,654.3 1585.2,642.1 1585.2,649.7 1585.8,641.1 1585.8,651.3 1586.4,640.1 1586.4,650.5 1587.1,647.2 1587.1,639.6 1587.7,639.3 1587.7,648.6 1588.3,638.7 1588.3,653.0 1588.9,640.1 1588.9,648.8 1589.6,650.5 1589.6,640.6 1590.2,646.9 1590.2,640.2 1590.8,640.3 1590.8,650.7 1591.4,651.8 1591.4,639.5 1592.0,639.9 1592.0,650.4 1592.6,641.1 1592.6,652.1 1593.2,635.9 1593.2,648.2 1593.9,647.4 1593.9,637.2 1594.5,649.7 1594.5,645.2 1595.1,643.2 1595.1,653.8 1595.7,650.3 1595.7,642.3 1596.3,641.0 1596.3,649.8 1597.0,648.3 1597.0,636.3 1597.6,639.6 1597.6,650.2 1598.2,650.3 1598.2,640.4 1598.8,650.9 1598.8,641.7 1599.5,643.2 1599.5,651.6 1600.1,650.1 1600.1,641.6 1600.7,641.4 1600.7,649.9 1601.3,641.0 1601.3,650.4 1601.9,649.4 1601.9,639.0 1602.6,641.9 1602.6,649.3 1603.2,651.1 1603.2,640.1 1603.8,649.1 1603.8,641.6 1604.4,641.6 1604.4,654.2 1605.0,640.5 1605.0,647.0 1605.6,641.7 1605.6,650.5 1606.2,652.7 1606.2,643.0 1606.8,651.6 1606.8,643.3 1607.5,641.0 1607.5,652.1 1608.1,640.2 1608.1,651.1 1608.7,640.1 1608.7,650.6 1609.4,648.3 1609.4,641.9 1610.0,651.6 1610.0,639.3 1610.6,641.7 1610.6,648.7 1611.2,649.1 1611.2,641.1 1611.8,651.7 1611.8,641.9 1612.5,651.9 1612.5,642.8 1613.1,642.7 1613.1,655.1 1613.7,643.9 1613.7,654.4 1614.3,647.6 1614.3,642.4 1614.9,639.1 1614.9,648.9 1615.5,649.4 1615.5,638.7 1616.1,648.0 1616.1,637.6 1616.7,650.4 1616.7,639.2 1617.4,641.3 1617.4,650.7 1618.0,651.4 1618.0,642.6 1618.6,652.0 1618.6,641.2 1619.3,651.7 1619.3,640.5 1619.9,651.5 1619.9,641.1 1620.5,651.4 1620.5,639.9 1621.1,644.1 1621.1,651.1 1621.7,651.9 1621.7,643.1 1622.3,643.0 1622.3,651.1 1623.0,651.6 1623.0,641.8 1623.6,641.2 1623.6,651.7 1624.2,639.1 1624.2,650.8 1624.8,641.8 1624.8,653.4 1625.4,643.7 1625.4,651.7 1626.0,651.3 1626.0,642.9 1626.6,648.3 1626.6,640.3 1627.2,644.0 1627.2,654.0 1627.9,641.4 1627.9,653.3 1628.5,655.0 1628.5,643.4 1629.1,652.3 1629.1,641.3 1629.7,650.8 1629.7,639.9 1630.4,641.0 1630.4,652.0 1631.0,653.1 1631.0,644.6 1631.6,652.6 1631.6,642.6 1632.2,652.6 1632.2,642.0 1632.8,652.3 1632.8,642.4 1633.4,652.1 1633.4,645.9 1634.0,641.8 1634.0,651.6 1634.6,649.9 1634.6,642.7 1635.2,652.2 1635.2,642.7 1635.9,643.3 1635.9,652.0 1636.5,645.2 1636.5,654.7 1637.1,653.1 1637.1,641.8 1637.7,653.9 1637.7,642.9 1638.4,653.5 1638.4,645.6 1639.0,642.6 1639.0,653.2 1639.6,654.6 1639.6,643.1 1640.2,651.6 1640.2,641.5 1640.8,651.8 1640.8,642.1 1641.4,645.3 1641.4,652.6 1642.0,653.5 1642.0,645.2 1642.6,644.9 1642.6,652.1 1643.2,645.1 1643.2,656.0 1643.9,644.0 1643.9,649.9 1644.5,642.2 1644.5,654.6 1645.1,641.1 1645.1,653.0 1645.7,653.8 1645.7,642.3 1646.4,641.4 1646.4,655.8 1647.0,645.2 1647.0,654.9 1647.6,644.9 1647.6,655.4 1648.2,644.2 1648.2,652.9 1648.8,646.5 1648.8,656.4 1649.4,647.5 1649.4,655.7 1650.0,644.4 1650.0,655.7 1650.6,654.9 1650.6,643.1 1651.2,644.8 1651.2,654.3 1651.9,646.7 1651.9,653.8 1652.5,644.6 1652.5,655.6 1653.1,646.9 1653.1,656.2 1653.7,656.1 1653.7,643.8 1654.3,655.3 1654.3,647.6 1655.0,656.9 1655.0,648.2 1655.6,646.2 1655.6,655.2 1656.2,645.3 1656.2,658.1 1656.8,648.1 1656.8,658.4 1657.4,644.5 1657.4,654.6 1658.0,654.6 1658.0,643.4 1658.6,658.2 1658.6,645.2 1659.2,656.4 1659.2,644.6 1659.8,659.3 1659.8,646.0 1660.5,659.4 1660.5,645.9 1661.1,649.9 1661.1,660.6 1661.7,647.8 1661.7,655.4 1662.3,656.7 1662.3,645.6 1662.9,647.8 1662.9,658.9 1663.5,659.9 1663.5,648.8 1664.2,645.9 1664.2,660.1 1664.8,655.1 1664.8,645.7 1665.4,659.2 1665.4,649.0 1666.0,650.8 1666.0,661.6 1666.6,650.7 1666.6,658.3 1667.2,659.1 1667.2,647.4 1667.8,649.9 1667.8,660.6 1668.4,650.2 1668.4,658.9 1669.1,662.0 1669.1,647.4 1669.7,651.1 1669.7,662.6 1670.3,661.1 1670.3,647.3 1670.9,659.3 1670.9,648.6 1671.5,649.5 1671.5,662.2 1672.1,650.3 1672.1,662.5 1672.7,648.9 1672.7,660.3 1673.3,660.0 1673.3,648.9 1673.9,658.8 1673.9,651.7 1674.6,650.7 1674.6,661.0 1675.2,663.3 1675.2,648.2 1675.8,648.9 1675.8,658.6 1676.4,661.7 1676.4,649.3 1677.0,653.4 1677.0,662.6 1677.6,662.1 1677.6,654.0 1678.2,650.7 1678.2,666.0 1678.9,662.8 1678.9,650.4 1679.5,661.6 1679.5,651.2 1680.1,653.0 1680.1,663.8 1680.7,664.9 1680.7,651.8 1681.3,665.6 1681.3,653.8 1681.9,662.6 1681.9,653.4 1682.5,668.7 1682.5,656.8 1683.2,667.8 1683.2,655.3 1683.8,655.5 1683.8,666.0 1684.4,664.9 1684.4,653.5 1685.0,656.9 1685.0,668.3 1685.6,666.2 1685.6,652.4 1686.2,663.7 1686.2,656.7 1686.8,658.2 1686.8,669.8 1687.4,655.9 1687.4,667.0 1688.0,667.2 1688.0,657.9 1688.7,669.2 1688.7,657.3 1689.3,657.3 1689.3,664.8 1689.9,668.4 1689.9,658.9 1690.5,658.5 1690.5,669.7 1691.1,670.7 1691.1,657.3 1691.7,657.8 1691.7,668.0 1692.3,660.4 1692.3,669.1 1692.9,657.5 1692.9,673.4 1693.5,657.7 1693.5,669.7 1694.2,668.4 1694.2,659.3 1694.8,671.0 1694.8,660.7 1695.4,669.5 1695.4,660.2 1696.0,671.3 1696.0,660.7 1696.6,670.1 1696.6,660.1 1697.2,671.5 1697.2,658.2 1697.8,672.7 1697.8,661.4 1698.4,675.0 1698.4,662.7 1699.0,661.9 1699.0,676.6 1699.7,665.7 1699.7,675.2 1700.3,672.2 1700.3,662.2 1700.9,673.7 1700.9,663.4 1701.5,664.4 1701.5,672.9 1702.1,661.9 1702.1,675.5 1702.7,672.3 1702.7,665.1 1703.3,664.6 1703.3,674.5 1703.9,679.5 1703.9,663.6 1704.5,662.5 1704.5,677.6 1705.1,662.0 1705.1,677.4 1705.8,665.6 1705.8,678.2 1706.4,668.2 1706.4,677.8 1707.0,666.5 1707.0,676.2 1707.6,668.2 1707.6,680.4 1708.2,681.1 1708.2,669.0 1708.8,667.1 1708.8,681.7 1709.4,667.9 1709.4,682.8 1710.0,669.6 1710.0,680.5 1710.6,669.2 1710.6,683.4 1711.2,670.0 1711.2,686.6 1711.9,668.3 1711.9,684.5 1712.5,673.7 1712.5,685.1 1713.1,673.6 1713.1,689.7 1713.7,684.4 1713.7,671.8 1714.3,674.8 1714.3,687.6 1714.9,687.4 1714.9,671.0 1715.5,687.1 1715.5,674.0 1716.1,673.9 1716.1,690.4 1716.7,676.8 1716.7,689.9 1717.3,688.1 1717.3,675.0 1718.0,678.9 1718.0,688.6 1718.6,679.1 1718.6,692.6 1719.2,675.1 1719.2,689.3 1719.8,693.7 1719.8,675.8 1720.4,682.0 1720.4,693.9 1721.0,681.4 1721.0,695.9 1721.6,693.1 1721.6,680.4 1722.2,680.9 1722.2,693.3 1722.8,695.0 1722.8,683.0 1723.5,696.5 1723.5,682.3 1724.1,684.2 1724.1,697.5 1724.7,694.7 1724.7,681.5 1725.3,683.1 1725.3,698.2 1725.9,698.9 1725.9,684.8 1726.5,698.3 1726.5,682.3 1727.1,682.0 1727.1,698.6 1727.7,685.8 1727.7,699.1 1728.3,688.8 1728.3,702.7 1728.9,704.3 1728.9,683.4 1729.5,687.0 1729.5,708.6 1730.1,687.7 1730.1,699.2 1730.7,703.1 1730.7,690.4 1731.4,703.9 1731.4,685.5 1732.0,701.1 1732.0,690.7 1732.6,704.6 1732.6,689.5 1733.2,705.2 1733.2,689.1 1733.8,689.0 1733.8,704.0 1734.4,694.6 1734.4,709.5 1735.0,705.9 1735.0,687.3 1735.6,691.8 1735.6,709.1 1736.2,713.9 1736.2,691.2 1736.8,692.6 1736.8,707.9 1737.4,709.2 1737.4,688.7 1738.1,692.0 1738.1,707.5 1738.7,689.7 1738.7,710.8 1739.3,699.8 1739.3,718.0 1739.9,708.8 1739.9,697.8 1740.5,695.9 1740.5,711.9 1741.1,696.7 1741.1,717.5 1741.7,693.7 1741.7,714.0 1742.3,714.1 1742.3,695.4 1742.9,716.8 1742.9,697.7 1743.5,698.5 1743.5,715.6 1744.1,698.8 1744.1,715.1 1744.7,697.9 1744.7,713.5 1745.3,700.2 1745.3,718.5 1746.0,700.3 1746.0,720.8 1746.6,702.2 1746.6,723.6 1747.2,705.0 1747.2,721.6 1747.8,722.2 1747.8,698.3 1748.4,703.9 1748.4,725.1 1749.0,722.4 1749.0,706.8 1749.6,722.6 1749.6,705.9 1750.2,706.4 1750.2,726.5 1750.8,726.2 1750.8,706.5 1751.4,706.7 1751.4,721.5 1752.0,707.8 1752.0,730.4 1752.6,708.4 1752.6,726.3 1753.2,711.2 1753.2,727.7 1753.9,712.0 1753.9,727.9 1754.5,731.6 1754.5,711.7 1755.1,714.9 1755.1,733.1 1755.7,716.2 1755.7,735.4 1756.3,715.6 1756.3,744.5 1756.9,718.8 1756.9,742.0 1757.5,740.8 1757.5,720.1 1758.1,724.2 1758.1,742.4 1758.7,726.4 1758.7,746.1 1759.3,749.3 1759.3,724.5 1759.9,733.7 1759.9,752.4 1760.6,754.3 1760.6,730.8 1761.2,732.2 1761.2,756.7 1761.8,737.3 1761.8,754.4 1762.4,741.7 1762.4,757.8 1763.0,755.1 1763.0,743.4 1763.6,762.1 1763.6,747.6 1764.2,762.4 1764.2,745.4 1764.8,745.2 1764.8,767.6 1765.4,770.0 1765.4,753.8 1766.0,776.0 1766.0,754.1 1766.6,759.9 1766.6,782.0 1767.2,781.4 1767.2,763.5 1767.8,766.2 1767.8,789.9 1768.4,768.0 1768.4,791.0 1769.0,785.5 1769.0,766.7 1769.7,771.1 1769.7,790.5 1770.3,772.2 1770.3,800.4 1770.9,791.0 1770.9,775.5 1771.5,776.5 1771.5,794.7 1772.1,774.6 1772.1,797.1 1772.7,802.9 1772.7,777.1 1773.3,797.4 1773.3,780.3 1773.9,782.3 1773.9,806.8 1774.5,780.1 1774.5,803.1 1775.1,782.6 1775.1,804.3 1775.7,786.2 1775.7,807.9 1776.3,804.0 1776.3,786.1 1776.9,787.3 1776.9,800.4 1777.6,790.8 1777.6,804.7 1778.2,786.5 1778.2,803.9 1778.8,790.3 1778.8,809.3 1779.4,809.9 1779.4,791.5 1780.0,791.0 1780.0,811.4 1780.6,793.2 1780.6,810.0 1781.2,799.3 1781.2,815.6 1781.8,799.6 1781.8,816.9 1782.4,802.5 1782.4,817.7 1783.0,800.9 1783.0,823.8 1783.6,801.1 1783.6,823.4 1784.2,805.3 1784.2,828.2 1784.8,830.5 1784.8,802.3 1785.5,814.8 1785.5,832.0 1786.1,817.7 1786.1,834.7 1786.7,835.9 1786.7,814.2 1787.3,818.4 1787.3,839.1 1787.9,822.0 1787.9,843.2 1788.5,825.7 1788.5,850.1 1789.1,846.6 1789.1,829.9 1789.7,849.5 1789.7,827.4 1790.3,838.3 1790.3,857.0 1790.9,837.8 1790.9,863.0 1791.5,861.7 1791.5,845.1 1792.1,847.0 1792.1,864.5 1792.7,866.5 1792.7,845.5 1793.3,867.5 1793.3,849.1 1793.9,852.4 1793.9,865.5 1794.5,855.5 1794.5,869.6 1795.1,852.7 1795.1,875.4 1795.8,854.5 1795.8,875.5 1796.4,871.6 1796.4,852.9 1797.0,858.4 1797.0,878.0 1797.6,858.4 1797.6,879.6 1798.2,853.0 1798.2,878.6 1798.8,881.5 1798.8,860.4 1799.4,859.0 1799.4,880.3 1800.0,866.8 1800.0,880.4 1800.6,879.8 1800.6,861.8 1801.2,863.4 1801.2,885.7 1801.8,866.4 1801.8,885.4 1802.4,862.7 1802.4,888.9 1803.0,889.0 1803.0,866.4 1803.6,867.1 1803.6,885.2 1804.2,883.0 1804.2,869.2 1804.8,866.8 1804.8,893.3 1805.5,888.0 1805.5,870.7 1806.1,871.8 1806.1,888.5 1806.7,891.9 1806.7,872.8 1807.3,872.4 1807.3,889.4 1807.9,871.0 1807.9,895.9 1808.5,892.3 1808.5,872.2 1809.1,895.2 1809.1,878.6 1809.7,893.1 1809.7,802.0 1810.3,876.2 1810.3,900.4 1810.9,881.1 1810.9,896.5 1811.5,902.6 1811.5,878.3 1812.1,906.8 1812.1,806.0 1812.7,887.7 1812.7,903.7 1813.3,910.3 1813.3,891.7 1813.9,914.7 1813.9,810.0 1814.5,899.2 1814.5,913.4 1815.2,902.8 1815.2,919.4 1815.8,922.5 1815.8,903.7 1816.4,922.3 1816.4,814.4 1817.0,909.8 1817.0,925.9 1817.6,926.5 1817.6,911.7 1818.2,930.2 1818.2,915.3 1818.8,907.6 1818.8,933.0 1819.4,919.0 1819.4,934.6 1820.0,938.5 1820.0,920.1 1820.6,918.5 1820.6,946.7 1821.2,922.8 1821.2,940.4 1821.8,943.8 1821.8,925.6 1822.4,925.4 1822.4,942.4 1823.0,928.9 1823.0,947.0 1823.6,949.9 1823.6,930.3 1824.2,938.8 1824.2,954.2 1824.8,932.3 1824.8,957.4 1825.4,952.9 1825.4,937.8 1826.0,939.3 1826.0,958.7 1826.7,958.4 1826.7,942.9 1827.3,942.0 1827.3,958.0 1827.9,948.2 1827.9,962.7 1828.5,951.4 1828.5,965.3 1829.1,971.0 1829.1,949.4 1829.7,968.4 1829.7,951.0 1830.3,972.1 1830.3,951.8 1830.9,955.2 1830.9,974.4 1831.5,959.6 1831.5,975.2 1832.1,960.0 1832.1,980.8 1832.7,961.0 1832.7,981.5 1833.3,965.9 1833.3,981.2 1833.9,965.5 1833.9,984.9 1834.5,983.3 1834.5,969.5 1835.1,991.2 1835.1,971.8 1835.7,968.5 1835.7,988.2 1836.3,975.4 1836.3,991.9 1836.9,975.6 1836.9,995.4 1837.5,977.5 1837.5,1000.4 1838.1,996.8 1838.1,981.9 1838.6,1000.2 1838.6,984.5" stroke="#0000ff" stroke-width="10"/>
<polyline points="326.4,302.8 788.0,523.3 897.8,604.6 963.3,658.3 1010.1,678.8 1046.6,694.8 1076.5,701.5 1101.8,691.8 1123.8,687.8 1143.2,680.8 1160.5,669.7 1176.3,666.7 1190.6,647.3 1203.8,650.5 1216.1,643.0 1227.5,636.3 1238.1,635.4 1248.1,628.9 1257.6,623.0 1266.5,616.3 1275.0,609.9 1283.1,602.6 1290.8,601.0 1298.1,592.5 1305.2,584.1 1311.9,570.2 1318.4,569.2 1324.7,563.0 1330.7,562.0 1336.5,562.3 1342.1,565.7 1347.5,551.9 1352.8,559.2 1357.9,555.8 1362.8,554.9 1367.6,508.7 1372.3,585.4 1376.8,584.8 1381.2,590.4 1385.5,595.8 1389.7,593.3 1393.8,602.3 1397.8,600.0 1401.7,605.6 1405.5,599.5 1409.3,614.3 1412.9,616.6 1416.5,612.3 1419.9,620.1 1423.4,620.2 1426.7,626.6 1430.0,621.4 1433.2,635.0 1436.4,638.3 1439.5,632.9 1442.5,635.0 1445.5,634.7 1448.4,635.9 1451.3,637.1 1454.1,636.5 1456.9,636.8 1459.7,638.7 1462.4,640.8 1465.0,640.4 1467.6,640.3 1470.2,641.4 1472.7,640.6 1475.2,642.7 1477.7,644.2 1480.1,637.9 1482.5,642.0 1484.8,640.0 1487.1,644.6 1489.4,640.1 1491.7,644.9 1493.9,644.0 1496.1,645.1 1498.3,642.7 1500.4,645.6 1502.5,642.0 1504.6,652.0 1506.7,644.0 1508.7,641.3 1510.7,644.6 1512.7,639.5 1514.7,641.9 1516.6,641.8 1518.5,642.3 1520.4,645.7 1522.3,642.5 1524.1,640.3 1526.0,645.4 1527.8,647.2 1529.6,639.7 1531.3,642.6 1533.1,642.8 1534.8,642.9 1536.6,640.9 1538.3,645.5 1539.9,644.3 1541.6,645.0 1543.3,642.0 1544.9,648.6 1546.5,638.7 1548.1,643.8 1549.7,642.8 1551.3,644.5 1552.8,650.5 1554.4,642.9 1555.9,644.3 1557.4,642.2 1558.9,646.3 1560.4,649.1 1561.9,645.6 1563.3,647.1 1564.8,641.6 1566.2,641.0 1567.6,644.4 1569.1,649.7 1570.5,641.5 1571.8,643.4 1573.2,645.4 1574.6,643.8 1575.9,647.8 1577.3,643.5 1578.6,643.5 1579.9,642.4 1581.2,646.3 1582.5,648.7 1583.8,644.5 1585.1,650.0 1586.4,645.4 1587.6,647.2 1588.9,644.6 1590.1,644.1 1591.4,646.6 1592.6,650.9 1593.8,637.5 1595.0,647.8 1596.2,644.2 1597.4,650.5 1598.6,650.7 1599.8,644.8 1600.9,646.3 1602.1,646.6 1603.2,647.4 1604.4,644.8 1605.5,647.1 1606.6,648.9 1607.7,644.8 1608.8,648.2 1609.9,646.2 1611.0,647.7 1612.1,644.9 1613.2,646.8 1614.3,646.6 1615.4,643.8 1616.4,648.1 1617.5,645.0 1618.5,648.8 1619.6,643.0 1620.6,640.3 1621.6,646.6 1622.6,651.2 1623.6,646.6 1624.7,652.1 1625.7,648.3 1626.7,644.9 1627.6,646.8 1628.6,647.4 1629.6,648.8 1630.6,651.0 1631.5,643.9 1632.5,649.1 1633.5,646.7 1634.4,650.2 1635.4,646.0 1636.3,649.1 1637.2,647.8 1638.2,651.9 1639.1,646.9 1640.0,647.6 1640.9,649.3 1641.8,653.8 1642.7,648.5 1643.6,647.8 1644.5,652.0 1645.4,651.8 1646.3,647.5 1647.2,649.0 1648.1,644.5 1648.9,647.7 1649.8,644.7 1650.7,648.5 1651.5,650.5 1652.4,646.7 1653.2,652.2 1654.1,654.4 1654.9,648.5 1655.7,649.1 1656.6,657.5 1657.4,651.0 1658.2,652.7 1659.0,650.7 1659.8,649.8 1660.7,652.6 1661.5,652.9 1662.3,652.2 1663.1,652.3 1663.9,650.0 1664.7,650.4 1665.4,655.2 1666.2,652.7 1667.0,649.7 1667.8,660.9 1668.6,651.9 1669.3,647.7 1670.1,649.7 1670.9,655.1 1671.6,651.9 1672.4,655.9 1673.1,650.5 1673.9,656.0 1674.6,660.2 1675.4,660.1 1676.1,658.9 1676.8,661.1 1677.6,656.5 1678.3,656.9 1679.0,651.4 1679.7,658.3 1680.5,656.7 1681.2,656.3 1681.9,655.5 1682.6,662.6 1683.3,661.4 1684.0,662.7 1684.7,659.6 1685.4,664.2 1686.1,663.7 1686.8,663.4 1687.5,660.2 1688.2,662.9 1688.9,661.3 1689.5,665.1 1690.2,666.1 1690.9,660.9 1691.6,664.9 1692.2,665.9 1692.9,661.1 1693.6,665.1 1694.2,665.9 1694.9,666.2 1695.6,669.8 1696.2,670.3 1696.9,667.9 1697.5,667.7 1698.2,665.6 1698.8,664.2 1699.4,671.0 1700.1,667.2 1700.7,665.5 1701.4,671.3 1702.0,665.6 1702.6,667.2 1703.2,672.6 1703.9,671.1 1704.5,667.3 1705.1,673.2 1705.7,670.9 1706.3,675.8 1707.0,672.3 1707.6,675.8 1708.2,673.7 1708.8,679.1 1709.4,674.8 1710.0,676.9 1710.6,675.2 1711.2,679.0 1711.8,675.5 1712.4,679.7 1713.0,687.9 1713.6,683.1 1714.1,677.0 1714.7,681.3 1715.3,683.1 1715.9,674.4 1716.5,677.1 1717.0,687.7 1717.6,688.4 1718.2,681.9 1718.8,687.8 1719.3,682.4 1719.9,684.5 1720.5,682.3 1721.0,688.0 1721.6,692.7 1722.2,693.2 1722.7,687.0 1723.3,691.3 1723.8,694.0 1724.4,688.8 1724.9,681.8 1725.5,695.0 1726.0,692.2 1726.6,693.3 1727.1,695.7 1727.6,687.5 1728.2,693.3 1728.7,692.8 1729.3,687.3 1729.8,693.4 1730.3,696.6 1730.9,691.0 1731.4,698.2 1731.9,699.2 1732.4,697.9 1733.0,697.7 1733.5,689.4 1734.0,700.1 1734.5,698.7 1735.0,696.3 1735.6,701.4 1736.1,703.6 1736.6,708.1 1737.1,700.9 1737.6,703.0 1738.1,693.3 1738.6,701.2 1739.1,718.3 1739.6,701.1 1740.1,708.0 1740.6,696.2 1741.1,704.9 1741.6,706.9 1742.1,712.9 1742.6,709.0 1743.1,700.2 1743.6,699.4 1744.1,707.9 1744.6,711.1 1745.1,714.7 1745.6,718.8 1746.0,706.8 1746.5,723.9 1747.0,710.6 1747.5,711.7 1748.0,712.0 1748.4,715.3 1748.9,709.7 1749.4,709.8 1749.9,714.7 1750.3,720.3 1750.8,709.6 1751.3,711.8 1751.7,711.9 1752.2,713.1 1752.7,708.7 1753.1,719.1 1753.6,720.4 1754.1,724.1 1754.5,727.2 1755.0,726.4 1755.4,718.5 1755.9,732.6 1756.4,738.4 1756.8,723.1 1757.3,732.8 1757.7,732.8 1758.2,733.3 1758.6,740.3 1759.1,736.3 1759.5,733.1 1759.9,741.1 1760.4,744.5 1760.8,739.6 1761.3,734.4 1761.7,750.1 1762.2,742.4 1762.6,749.9 1763.0,743.7 1763.5,750.5 1763.9,755.3 1764.3,755.8 1764.8,752.8 1765.2,759.0 1765.6,765.9 1766.1,766.7 1766.5,760.2 1766.9,769.4 1767.3,766.8 1767.8,779.1 1768.2,777.9 1768.6,784.8 1769.0,775.1 1769.5,782.8 1769.9,780.9 1770.3,781.6 1770.7,779.0 1771.1,786.4 1771.5,777.4 1772.0,783.2 1772.4,783.0 1772.8,794.4 1773.2,784.7 1773.6,793.9 1774.0,806.7 1774.4,791.6 1774.8,787.5 1775.2,796.9 1775.6,799.2 1776.0,804.3 1776.4,791.6 1776.8,795.7 1777.3,797.5 1777.7,801.2 1778.0,797.5 1778.4,793.5 1778.8,799.7 1779.2,793.6 1779.6,795.3 1780.0,805.4 1780.4,798.5 1780.8,805.7 1781.2,806.3 1781.6,809.5 1782.0,809.0 1782.4,804.8 1782.8,809.7 1783.2,813.7 1783.5,816.6 1783.9,815.4 1784.3,821.5 1784.7,819.3 1785.1,824.5 1785.5,823.3 1785.8,828.6 1786.2,822.7 1786.6,821.1 1787.0,823.3 1787.4,829.1 1787.7,824.6 1788.1,827.6 1788.5,834.5 1788.9,844.0 1789.2,831.1 1789.6,842.5 1790.0,849.2 1790.3,850.3 1790.7,844.2 1791.1,850.2 1791.5,855.1 1791.8,852.6 1792.2,849.6 1792.6,856.8 1792.9,863.5 1793.3,849.8 1793.6,857.4 1794.0,861.5 1794.4,866.3 1794.7,862.1 1795.1,860.9 1795.4,867.9 1795.8,859.2 1796.2,865.4 1796.5,863.4 1796.9,867.7 1797.2,871.6 1797.6,869.4 1797.9,866.7 1798.3,866.1 1798.6,864.9 1799.0,872.8 1799.4,867.9 1799.7,873.6 1800.1,869.0 1800.4,870.8 1800.7,865.2 1801.1,875.9 1801.4,878.9 1801.8,871.0 1802.1,872.6 1802.5,876.8 1802.8,871.7 1803.2,867.9 1803.5,870.3 1803.9,871.7 1804.2,874.7 1804.5,873.9 1804.9,876.8 1805.2,878.2 1805.5,875.7 1805.9,888.8 1806.2,886.2 1806.6,881.7 1806.9,883.4 1807.2,878.3 1807.6,881.5 1807.9,887.8 1808.2,883.5 1808.6,887.7 1808.9,885.4 1809.2,890.2 1809.6,883.3 1809.9,802.3 1810.2,888.1 1810.5,880.1 1810.9,886.3 1811.2,881.4 1811.5,899.7 1811.8,806.3 1812.2,887.3 1812.5,901.2 1812.8,898.5 1813.1,904.2 1813.5,899.0 1813.8,905.7 1814.1,810.3 1814.4,911.8 1814.7,911.1 1815.1,911.6 1815.4,912.6 1815.7,916.5 1816.0,921.3 1816.3,814.7 1816.7,920.0 1817.0,915.0 1817.3,918.5 1817.6,919.2 1817.9,921.2 1818.2,925.7 1818.5,918.0 1818.9,919.0 1819.2,934.9 1819.5,921.8 1819.8,928.7 1820.1,927.7 1820.4,930.6 1820.7,924.6 1821.0,930.8 1821.3,934.6 1821.6,944.1 1821.9,938.0 1822.2,936.7 1822.6,935.5 1822.9,934.7 1823.2,937.7 1823.5,944.1 1823.8,936.9 1824.1,945.0 1824.4,945.2 1824.7,944.3 1825.0,943.1 1825.3,945.6 1825.6,946.2 1825.9,956.0 1826.2,948.7 1826.5,946.6 1826.8,943.6 1827.1,949.4 1827.4,955.8 1827.7,950.8 1828.0,958.9 1828.2,958.9 1828.5,960.7 1828.8,958.3 1829.1,963.4 1829.4,960.4 1829.7,958.6 1830.0,961.0 1830.3,958.7 1830.6,966.2 1830.9,965.1 1831.2,960.4 1831.5,967.9 1831.7,968.1 1832.0,969.3 1832.3,979.2 1832.6,974.1 1832.9,975.5 1833.2,978.0 1833.5,972.1 1833.8,979.4 1834.0,982.0 1834.3,978.0 1834.6,977.6 1834.9,981.6 1835.2,980.5 1835.5,976.0 1835.7,981.5 1836.0,981.5 1836.3,975.7 1836.6,985.0 1836.9,991.9 1837.1,988.1 1837.4,985.1 1837.7,987.9 1838.0,985.5 1838.3,986.6 1838.5,985.1" stroke="none" marker-start="url(#m2)" marker-mid="url(#m2)" marker-end="url(#m2)"/>
<path d="M330.5,282.5 397.0,285.5 444.3,288.5 481.1,291.5 511.2,294.4 536.6,297.4 558.7,300.5 578.2,304.2 595.6,308.5 611.4,313.7 625.8,319.4 639.0,325.8 651.3,332.2 662.7,338.5 673.4,345.1 683.5,351.7 692.9,357.3 701.9,362.7 710.4,368.3 718.5,374.1 726.2,380.5 733.5,387.8 740.6,395.7 747.3,403.9 753.8,411.9 760.1,419.8 766.1,427.9 771.9,435.9 777.6,443.6 783.0,450.8 788.3,456.9 793.4,462.9 798.3,468.1 803.1,472.6 807.8,477.9 812.3,485.6 816.8,491.0 821.1,495.3 825.3,499.2 829.4,503.9 833.3,508.0 837.2,509.2 841.1,513.9 844.8,516.7 848.4,522.2 852.0,521.9 855.5,525.1 858.9,522.7 862.3,455.3 865.5,524.6 868.8,524.9 871.9,529.3 875.0,528.8 878.1,531.1 881.0,513.8 884.0,536.2 886.9,539.4 889.7,537.8 892.5,546.0 895.2,550.3 897.9,556.7 900.6,564.8 903.2,569.5 905.8,567.0 908.3,576.7 910.8,579.9 913.2,580.5 915.7,586.2 918.1,592.9 920.4,591.5 922.7,598.0 925.0,599.5 927.3,600.8 929.5,602.9 931.7,604.1 933.9,607.9 936.0,610.9 938.1,615.2 940.2,619.1 942.3,618.1 944.3,621.8 946.3,619.5 948.3,623.5 950.3,622.5 952.2,624.2 954.1,628.7 956.0,628.6 957.9,632.3 959.7,630.3 961.6,631.7 963.4,636.3 965.2,640.9 967.0,637.5 968.7,642.8 970.4,642.7 972.2,647.8 973.9,644.6 975.5,642.9 977.2,644.4 978.9,642.2 980.5,644.4 982.1,645.4 983.7,649.8 985.3,650.0 986.9,646.7 988.4,645.4 990.0,646.2 991.5,644.6 993.0,644.3 994.5,655.6 996.0,654.7 997.5,660.4 998.9,658.9 1000.4,659.8 1001.8,657.7 1003.3,664.9 1004.7,664.9 1006.1,670.7 1007.5,668.0 1008.8,672.1 1010.2,673.0 1011.6,669.1 1012.9,671.5 1014.2,669.3 1015.6,668.2 1016.9,671.2 1018.2,674.9 1019.5,678.3 1020.7,676.1 1022.0,678.6 1023.3,679.1 1024.5,678.1 1025.8,675.5 1027.0,677.0 1028.2,686.8 1029.4,680.6 1030.6,679.6 1031.8,677.5 1033.0,682.4 1034.2,686.1 1035.4,686.9 1036.5,689.1 1037.7,685.1 1038.8,687.6 1040.0,682.6 1041.1,686.2 1042.2,687.9 1043.4,683.4 1044.5,685.2 1045.6,680.9 1046.7,682.1 1047.8,676.3 1048.8,676.2 1049.9,676.0 1051.0,678.5 1052.0,684.4 1053.1,682.1 1054.1,679.2 1055.2,681.6 1056.2,680.3 1057.2,680.3 1058.3,681.0 1059.3,681.3 1060.3,678.4 1061.3,677.9 1062.3,680.5 1063.3,678.3 1064.3,677.3 1065.2,678.1 1066.2,678.6 1067.2,676.8 1068.1,678.1 1069.1,677.0 1070.0,673.0 1071.0,675.9 1071.9,673.3 1072.9,682.1 1073.8,679.2 1074.7,676.2 1075.6,677.5 1076.6,674.7 1077.5,680.8 1078.4,678.1 1079.3,678.6 1080.2,677.9 1081.0,675.8 1081.9,670.5 1082.8,671.7 1083.7,665.5 1084.6,666.6 1085.4,672.9 1086.3,672.9 1087.1,672.2 1088.0,669.6 1088.8,668.3 1089.7,668.0 1090.5,665.9 1091.4,662.5 1092.2,669.3 1093.0,674.3 1093.8,670.7 1094.7,672.5 1095.5,668.2 1096.3,670.1 1097.1,666.5 1097.9,670.6 1098.7,670.4 1099.5,666.9 1100.3,669.8 1101.1,674.1 1101.9,668.0 1102.6,670.9 1103.4,670.5 1104.2,670.6 1105.0,673.5 1105.7,675.2 1106.5,667.3 1107.3,671.9 1108.0,670.6 1108.8,674.8 1109.5,673.9 1110.3,674.8 1111.0,671.5 1111.7,667.8 1112.5,670.0 1113.2,673.0 1113.9,674.0 1114.7,674.6 1115.4,673.6 1116.1,674.4 1116.8,670.9 1117.5,670.9 1118.2,667.5 1119.0,669.5 1119.7,669.9 1120.4,671.0 1121.1,674.1 1121.8,673.1 1122.4,665.4 1123.1,672.0 1123.8,676.0 1124.5,673.9 1125.2,670.7 1125.9,673.0 1126.5,675.7 1127.2,669.2 1127.9,672.7 1128.6,669.0 1129.2,667.4 1129.9,668.2 1130.5,673.5 1131.2,666.4 1131.9,665.5 1132.5,666.5 1133.2,668.2 1133.8,667.0 1134.4,667.5 1135.1,664.0 1135.7,666.3 1136.4,668.0 1137.0,663.5 1137.6,661.8 1138.3,663.6 1138.9,664.1 1139.5,664.7 1140.1,660.8 1140.8,660.6 1141.4,660.2 1142.0,664.3 1142.6,662.9 1143.2,662.0 1143.8,659.3 1144.4,660.4 1145.0,663.8 1145.6,659.0 1146.5,660.4 1146.5,662.1 1147.7,666.3 1147.7,665.3 1148.9,666.4 1148.9,663.8 1150.1,659.2 1150.1,656.8 1151.2,657.2 1151.2,659.3 1152.4,659.4 1152.4,659.0 1153.6,664.0 1153.6,656.8 1154.7,656.3 1154.7,663.9 1155.8,662.9 1155.8,660.1 1157.0,657.7 1157.0,660.8 1158.1,662.1 1158.1,663.0 1159.2,658.5 1159.2,659.5 1160.3,659.2 1160.3,660.0 1161.4,656.4 1161.4,659.2 1162.5,662.7 1162.5,657.8 1163.6,660.4 1163.6,663.3 1164.6,662.9 1164.6,660.6 1165.7,659.7 1165.7,657.6 1166.8,658.2 1166.8,655.6 1167.8,656.6 1167.8,655.0 1168.9,652.8 1168.9,658.1 1169.9,653.2 1169.9,658.7 1170.9,652.6 1170.9,656.3 1172.0,656.4 1172.0,652.4 1173.0,652.7 1173.0,651.7 1174.0,651.2 1174.0,654.9 1175.0,652.1 1175.0,649.0 1176.0,654.1 1176.0,654.6 1177.0,654.4 1177.0,653.4 1178.0,654.9 1179.0,653.7 1179.0,652.0 1180.0,654.7 1180.0,656.7 1181.0,655.5 1181.0,660.3 1181.9,656.6 1181.9,654.6 1182.9,656.3 1182.9,654.5 1183.9,653.4 1183.9,651.5 1184.8,652.2 1184.8,647.9 1185.7,647.7 1185.7,646.8 1186.7,643.9 1186.7,649.4 1187.6,649.1 1187.6,647.7 1188.6,649.7 1188.6,647.2 1189.5,650.5 1189.5,653.2 1190.4,648.5 1190.4,649.3 1191.3,651.1 1191.3,652.8 1192.2,651.7 1192.2,648.9 1193.1,645.9 1193.1,645.5 1194.0,646.5 1194.0,650.2 1194.9,651.1 1195.8,653.3 1195.8,647.6 1196.7,646.1 1196.7,645.4 1197.6,647.6 1197.6,645.1 1198.5,646.0 1198.5,650.5 1199.3,652.0 1199.3,653.9 1200.2,650.4 1200.2,647.7 1201.1,649.0 1201.1,647.2 1201.9,648.2 1202.8,649.8 1202.8,652.3 1203.6,653.5 1203.6,651.0 1204.5,650.7 1205.3,648.9 1205.3,646.7 1206.2,644.3 1206.2,644.9 1207.0,647.2 1207.0,648.6 1207.8,647.9 1207.8,648.4 1208.6,646.3 1208.6,649.5 1209.5,648.0 1209.5,646.1 1210.3,647.0 1210.3,645.6 1211.1,645.8 1211.1,648.0 1211.9,644.4 1211.9,643.5 1212.7,643.2 1213.5,646.8 1214.3,647.2 1214.3,639.8 1215.1,642.0 1215.1,642.6 1215.9,643.3 1215.9,641.9 1216.7,640.8 1216.7,642.6 1217.4,641.5 1218.2,640.1 1219.0,641.5 1219.0,642.6 1219.8,641.3 1220.5,640.3 1220.5,641.9 1221.3,640.1 1221.3,639.5 1222.1,639.8 1222.1,638.9 1222.8,639.8 1222.8,642.8 1223.6,641.0 1223.6,642.9 1224.3,642.8 1224.3,641.3 1225.1,641.4 1225.1,642.9 1225.8,639.2 1225.8,640.3 1226.6,641.8 1226.6,638.7 1227.3,641.0 1228.0,638.0 1228.0,638.9 1228.8,635.8 1228.8,634.5 1229.5,633.3 1229.5,636.0 1230.2,636.0 1230.2,635.3 1230.9,635.3 1230.9,636.1 1231.6,635.9 1231.6,635.5 1232.4,636.4 1232.4,634.8 1233.1,634.7 1233.1,637.7 1233.8,637.7 1233.8,633.6 1234.5,637.7 1234.5,635.3 1235.2,638.6 1235.2,637.4 1235.9,638.3 1235.9,633.7 1236.6,633.1 1237.3,633.1 1237.3,632.6 1238.0,632.6 1238.0,633.4 1238.6,632.9 1238.6,633.4 1239.3,634.4 1239.3,631.1 1240.0,632.1 1240.0,631.3 1240.7,632.3 1240.7,634.0 1241.4,631.4 1242.0,634.0 1242.0,635.4 1242.7,633.2 1242.7,634.5 1243.4,634.1 1243.4,633.3 1244.0,631.9 1244.0,632.5 1244.7,633.4 1244.7,631.5 1245.4,632.4 1245.4,629.9 1246.0,628.6 1246.0,630.9 1246.7,630.6 1246.7,629.3 1247.3,630.6 1247.3,631.9 1248.0,631.2 1248.0,633.3 1248.6,630.5 1248.6,629.1 1249.3,631.1 1249.3,628.6 1249.9,630.3 1249.9,627.0 1250.6,626.4 1250.6,627.4 1251.2,627.4 1251.2,630.7 1251.8,628.0 1252.5,628.2 1253.1,629.9 1253.1,627.8 1253.7,626.8 1253.7,625.4 1254.4,627.8 1255.0,627.8 1255.6,625.2 1255.6,626.6 1256.2,627.0 1256.2,629.0 1256.8,628.2 1256.8,625.6 1257.4,625.1 1257.4,628.4 1258.1,624.7 1258.1,622.5 1258.7,624.1 1258.7,627.0 1259.3,625.9 1259.3,623.1 1259.9,627.5 1259.9,624.5 1260.5,625.6 1260.5,627.2 1261.2,625.6 1261.2,627.0 1262.1,622.8 1262.1,625.6 1263.0,626.3 1263.0,623.6 1263.9,621.9 1263.9,619.6 1264.8,621.7 1264.8,623.6 1265.7,617.9 1265.7,619.9 1266.5,623.3 1266.5,617.3 1267.4,617.6 1267.4,620.7 1268.3,622.2 1268.3,620.6 1269.1,623.6 1269.1,619.5 1270.0,620.1 1270.0,618.0 1270.8,619.3 1270.8,617.0 1271.7,617.2 1271.7,621.5 1272.5,618.9 1272.5,616.0 1273.4,617.2 1273.4,614.0 1274.2,616.2 1274.2,613.8 1275.0,617.4 1275.0,616.8 1275.8,611.7 1275.8,616.0 1276.7,612.3 1276.7,617.2 1277.5,610.8 1277.5,613.3 1278.3,613.5 1278.3,615.5 1279.1,612.3 1279.1,614.5 1279.9,614.2 1279.9,616.1 1280.7,616.4 1280.7,611.6 1281.5,613.5 1281.5,610.1 1282.3,614.9 1282.3,614.0 1283.1,612.5 1283.1,609.5 1283.9,609.8 1283.9,610.8 1284.7,611.1 1284.7,608.0 1285.4,607.8 1285.4,611.5 1286.2,609.4 1286.2,610.9 1287.0,609.9 1287.0,608.9 1287.7,609.8 1287.7,605.8 1288.5,610.8 1288.5,608.2 1289.3,609.8 1289.3,605.8 1290.0,605.8 1290.0,611.0 1290.8,612.7 1290.8,613.4 1291.5,609.0 1291.5,601.7 1292.3,604.5 1292.3,608.8 1293.0,605.1 1293.0,609.9 1293.8,609.3 1293.8,607.4 1294.5,609.4 1294.5,605.9 1295.2,605.4 1295.2,607.3 1296.0,607.1 1296.0,604.9 1296.7,605.0 1296.7,600.3 1297.4,604.8 1297.4,602.8 1298.1,603.3 1298.1,606.7 1298.9,602.6 1298.9,605.7 1299.6,604.1 1299.6,601.5 1300.3,598.4 1300.3,602.3 1301.0,600.3 1301.0,606.1 1301.7,605.0 1301.7,600.6 1302.4,600.6 1302.4,604.0 1303.1,603.5 1303.1,602.4 1303.8,599.4 1303.8,598.2 1304.5,602.5 1304.5,601.9 1305.2,602.7 1305.2,605.1 1305.9,604.7 1305.9,602.3 1306.5,604.4 1306.5,598.9 1307.2,600.2 1307.2,601.3 1307.9,600.2 1307.9,592.6 1308.6,593.9 1308.6,595.1 1309.3,593.3 1309.3,597.3 1309.9,597.6 1309.9,600.8 1310.6,597.8 1310.6,600.5 1311.3,598.7 1311.3,593.9 1311.9,598.3 1311.9,595.3 1312.6,597.3 1312.6,596.1 1313.2,599.2 1313.2,597.3 1313.9,597.3 1313.9,600.4 1314.6,597.0 1314.6,599.8 1315.2,597.0 1315.2,593.7 1315.9,594.0 1315.9,598.4 1316.5,596.4 1316.5,597.8 1317.1,597.8 1317.1,595.3 1317.8,595.6 1317.8,600.8 1318.4,598.8 1318.4,600.0 1319.1,594.5 1319.1,597.6 1319.7,592.5 1319.7,600.7 1320.3,598.0 1320.3,595.2 1320.9,593.2 1320.9,594.8 1321.6,594.1 1321.6,599.2 1322.2,598.9 1322.2,593.5 1322.8,591.0 1322.8,593.3 1323.4,591.5 1323.4,593.1 1324.1,595.4 1324.1,591.2 1324.7,594.7 1324.7,591.2 1325.3,591.8 1325.3,597.3 1325.9,594.3 1325.9,599.4 1326.5,594.1 1326.5,590.9 1327.1,589.0 1327.1,593.1 1327.7,590.2 1327.7,597.6 1328.4,594.9 1328.4,591.5 1329.2,592.8 1329.2,590.5 1330.0,590.5 1330.0,593.9 1330.8,585.4 1330.8,593.0 1331.6,591.8 1331.6,589.1 1332.4,586.4 1332.4,593.5 1333.1,588.8 1333.1,591.9 1333.9,590.3 1333.9,592.6 1334.7,591.5 1334.7,587.6 1335.4,587.0 1335.4,591.2 1336.2,589.5 1336.2,585.1 1337.0,591.0 1337.0,588.8 1337.7,586.4 1337.7,590.9 1338.5,591.3 1338.5,587.4 1339.2,588.2 1339.2,594.2 1340.0,588.2 1340.0,591.3 1340.7,591.2 1340.7,587.5 1341.5,585.7 1341.5,582.3 1342.2,589.1 1342.2,581.0 1342.9,588.7 1342.9,585.3 1343.7,589.6 1343.7,585.2 1344.4,588.6 1344.4,585.2 1345.1,585.9 1345.1,589.4 1345.8,587.6 1345.8,586.6 1346.6,586.8 1346.6,588.7 1347.3,586.6 1347.3,581.7 1348.0,582.3 1348.0,584.5 1348.7,585.8 1348.7,588.6 1349.4,584.2 1349.4,590.2 1350.1,589.2 1350.1,585.2 1350.8,586.6 1350.8,584.4 1351.5,587.0 1351.5,584.9 1352.2,587.9 1352.2,585.9 1352.9,585.2 1352.9,580.9 1353.6,583.3 1353.6,579.5 1354.3,580.4 1354.3,583.1 1354.9,587.0 1354.9,582.3 1355.6,582.4 1355.6,585.4 1356.3,585.6 1356.3,583.3 1357.0,583.7 1357.0,580.1 1357.6,585.1 1357.6,581.4 1358.3,580.0 1358.3,584.2 1359.0,581.0 1359.0,585.6 1359.6,581.5 1359.6,585.2 1360.3,589.5 1360.3,580.9 1361.0,578.3 1361.0,581.1 1361.6,578.0 1361.6,581.9 1362.3,582.5 1362.3,579.9 1362.9,584.3 1362.9,579.1 1363.6,578.3 1363.6,582.6 1364.2,581.4 1364.2,580.2 1364.8,583.5 1364.8,586.9 1365.5,584.4 1365.5,582.4 1366.1,586.2 1366.1,579.8 1366.8,579.4 1366.8,582.1 1367.4,584.9 1367.4,580.4 1368.0,578.1 1368.0,581.2 1368.7,579.9 1368.7,576.1 1369.3,578.6 1369.3,582.0 1369.9,580.2 1369.9,581.2 1370.5,577.9 1370.5,581.0 1371.1,578.2 1371.1,580.7 1371.8,576.9 1371.8,583.2 1372.4,581.3 1372.4,577.6 1373.0,576.2 1373.0,578.3 1373.6,583.3 1373.6,581.2 1374.2,581.2 1374.2,576.8 1374.8,577.8 1374.8,581.5 1375.4,579.6 1375.4,584.6 1376.1,578.3 1376.1,582.3 1376.8,585.2 1376.8,577.9 1377.6,582.2 1377.6,575.9 1378.3,574.3 1378.3,579.9 1379.1,581.6 1379.1,578.7 1379.8,577.7 1379.8,575.5 1380.5,576.2 1380.5,583.2 1381.3,578.1 1381.3,582.1 1382.0,577.8 1382.0,575.3 1382.7,576.1 1382.7,583.1 1383.4,582.7 1383.4,576.2 1384.1,577.1 1384.1,581.9 1384.8,579.5 1384.8,577.2 1385.6,575.0 1385.6,578.6 1386.3,576.3 1386.3,587.1 1387.0,585.1 1387.0,577.7 1387.7,581.0 1387.7,576.4 1388.4,581.5 1388.4,579.3 1389.1,580.7 1389.1,577.7 1389.7,579.5 1389.7,575.5 1390.4,577.7 1390.4,582.2 1391.1,582.3 1391.1,579.3 1391.8,582.5 1391.8,575.8 1392.5,579.7 1392.5,500.0 1393.2,581.4 1393.2,579.0 1393.8,582.3 1393.8,577.1 1394.5,586.4 1394.5,578.0 1395.2,577.9 1395.2,584.3 1395.8,577.0 1395.8,582.7 1396.5,581.0 1396.5,584.0 1397.2,582.9 1397.2,580.5 1397.8,584.3 1397.8,580.7 1398.5,580.9 1398.5,588.6 1399.1,586.8 1399.1,582.6 1399.8,586.9 1399.8,575.3 1400.4,578.4 1400.4,585.0 1401.1,578.4 1401.1,583.6 1401.7,576.1 1401.7,584.1 1402.4,584.0 1402.4,470.2 1403.0,582.8 1403.0,577.0 1403.6,576.2 1403.6,583.0 1404.3,576.4 1404.3,584.1 1404.9,583.2 1404.9,579.8 1405.5,582.0 1405.5,587.3 1406.2,582.6 1406.2,588.7 1406.8,579.1 1406.8,587.9 1407.4,587.6 1407.4,585.0 1408.0,586.0 1408.0,582.4 1408.6,584.9 1408.6,582.8 1409.3,577.8 1409.3,586.0 1409.9,582.8 1409.9,588.7 1410.5,582.7 1410.5,578.5 1411.1,577.3 1411.1,582.8 1411.7,577.1 1411.7,579.9 1412.3,582.4 1412.3,579.2 1412.9,576.8 1412.9,582.6 1413.6,585.2 1413.6,581.4 1414.3,583.3 1414.3,587.4 1415.0,586.5 1415.0,579.1 1415.7,582.5 1415.7,587.6 1416.4,589.2 1416.4,580.6 1417.1,583.1 1417.1,587.4 1417.8,582.0 1417.8,577.9 1418.5,584.1 1418.5,581.4 1419.2,584.9 1419.2,587.3 1419.9,583.9 1419.9,578.3 1420.6,575.7 1420.6,582.8 1421.3,497.2 1421.3,589.4 1422.0,584.9 1422.0,582.7 1422.6,588.2 1422.6,582.7 1423.3,577.8 1423.3,585.3 1424.0,580.0 1424.0,589.3 1424.7,588.1 1424.7,581.9 1425.3,587.0 1425.3,582.4 1426.0,585.8 1426.0,591.3 1426.7,592.8 1426.7,583.5 1427.3,582.4 1427.3,589.3 1428.0,588.9 1428.0,583.0 1428.6,589.8 1428.6,581.9 1429.3,584.6 1429.3,592.7 1429.9,579.8 1429.9,590.0 1430.6,590.3 1430.6,586.1 1431.2,592.0 1431.2,584.5 1431.9,587.3 1431.9,597.9 1432.5,584.3 1432.5,590.5 1433.2,585.8 1433.2,590.7 1433.8,585.4 1433.8,588.3 1434.4,587.3 1434.4,581.6 1435.1,588.0 1435.1,591.8 1435.7,584.1 1435.7,595.4 1436.3,593.8 1436.3,589.8 1436.9,590.5 1436.9,584.9 1437.6,587.4 1437.6,583.1 1438.2,591.4 1438.2,584.6 1438.8,590.1 1438.8,595.1 1439.4,594.0 1439.4,586.5 1440.0,594.2 1440.0,585.1 1440.6,586.5 1440.6,590.6 1441.2,593.7 1441.2,584.0 1441.9,595.0 1441.9,587.9 1442.5,590.7 1442.5,587.0 1443.1,590.4 1443.1,582.3 1443.7,588.7 1443.7,584.5 1444.4,596.0 1444.4,539.0 1445.1,589.6 1445.1,596.5 1445.8,592.7 1445.8,588.4 1446.5,594.4 1446.5,587.6 1447.2,590.8 1447.2,595.0 1447.8,595.2 1447.8,592.0 1448.5,597.2 1448.5,592.6 1449.2,604.2 1449.2,589.9 1449.9,594.9 1449.9,589.0 1450.5,589.2 1450.5,595.1 1451.2,594.7 1451.2,590.0 1451.9,593.4 1451.9,586.0 1452.5,589.0 1452.5,595.2 1453.2,586.0 1453.2,596.3 1453.9,597.9 1453.9,589.9 1454.5,591.6 1454.5,596.4 1455.2,589.3 1455.2,595.3 1455.8,595.7 1455.8,588.6 1456.5,591.9 1456.5,589.6 1457.1,597.0 1457.1,589.9 1457.8,589.0 1457.8,598.2 1458.4,598.4 1458.4,596.4 1459.0,590.2 1459.0,596.7 1459.7,600.3 1459.7,593.7 1460.3,594.8 1460.3,588.2 1460.9,592.9 1460.9,587.8 1461.6,594.3 1461.6,601.1 1462.2,594.2 1462.2,603.4 1462.8,594.4 1462.8,599.0 1463.4,592.7 1463.4,599.5 1464.0,595.0 1464.0,591.6 1464.7,599.0 1464.7,592.1 1465.3,596.4 1465.3,601.6 1465.9,601.6 1465.9,594.9 1466.5,594.1 1466.5,598.7 1467.1,596.3 1467.1,588.0 1467.7,591.6 1467.7,598.1 1468.3,597.0 1468.3,589.2 1469.0,597.6 1469.0,593.8 1469.6,591.7 1469.6,596.7 1470.3,598.8 1470.3,587.6 1471.0,596.8 1471.0,589.7 1471.7,590.0 1471.7,595.5 1472.3,599.1 1472.3,594.0 1473.0,597.3 1473.0,590.5 1473.7,597.7 1473.7,589.7 1474.3,593.8 1474.3,599.0 1475.0,600.6 1475.0,593.6 1475.7,598.7 1475.7,589.1 1476.3,593.6 1476.3,601.6 1477.0,607.3 1477.0,593.4 1477.6,592.4 1477.6,599.3 1478.3,599.5 1478.3,592.8 1478.9,601.9 1478.9,593.2 1479.6,595.3 1479.6,590.8 1480.2,591.6 1480.2,599.8 1480.9,590.8 1480.9,602.5 1481.5,601.4 1481.5,592.9 1482.1,592.8 1482.1,601.8 1482.8,598.1 1482.8,588.6 1483.4,587.6 1483.4,601.3 1484.0,600.3 1484.0,593.3 1484.6,602.1 1484.6,594.9 1485.3,595.1 1485.3,602.3 1485.9,605.0 1485.9,596.2 1486.5,605.0 1486.5,596.0 1487.1,598.2 1487.1,594.1 1487.7,603.5 1487.7,596.5 1488.3,593.6 1488.3,603.8 1488.9,597.4 1488.9,587.5 1489.5,600.4 1489.5,589.9 1490.2,599.3 1490.2,586.5 1490.8,588.2 1490.8,601.5 1491.4,591.0 1491.4,601.8 1492.1,601.6 1492.1,526.2 1492.7,605.8 1492.7,596.5 1493.4,604.9 1493.4,595.2 1494.1,596.3 1494.1,602.6 1494.7,592.5 1494.7,603.7 1495.4,597.3 1495.4,604.9 1496.0,601.2 1496.0,598.8 1496.7,600.5 1496.7,594.8 1497.3,595.3 1497.3,603.8 1498.0,603.0 1498.0,595.5 1498.6,593.2 1498.6,610.3 1499.3,607.6 1499.3,598.9 1499.9,594.3 1499.9,603.1 1500.6,603.5 1500.6,597.5 1501.2,603.5 1501.2,597.4 1501.8,595.8 1501.8,610.4 1502.5,604.7 1502.5,596.3 1503.1,604.2 1503.1,593.6 1503.7,604.2 1503.7,592.8 1504.3,599.3 1504.3,605.9 1505.0,591.3 1505.0,601.2 1505.6,600.6 1505.6,595.2 1506.2,595.5 1506.2,607.0 1506.8,599.4 1506.8,606.4 1507.4,596.9 1507.4,604.4 1508.0,606.9 1508.0,600.3 1508.6,610.7 1508.6,595.7 1509.2,596.2 1509.2,602.6 1509.8,608.1 1509.8,595.6 1510.5,596.9 1510.5,606.0 1511.1,609.0 1511.1,592.7 1511.7,597.0 1511.7,607.0 1512.4,604.8 1512.4,538.1 1513.1,595.3 1513.1,611.2 1513.7,608.7 1513.7,599.6 1514.4,604.1 1514.4,594.2 1515.0,597.9 1515.0,605.4 1515.7,599.6 1515.7,607.0 1516.3,598.9 1516.3,607.7 1517.0,607.2 1517.0,599.0 1517.6,599.7 1517.6,608.4 1518.2,596.8 1518.2,606.2 1518.9,594.2 1518.9,605.2 1519.5,608.4 1519.5,598.5 1520.1,605.7 1520.1,595.5 1520.8,605.3 1520.8,597.5 1521.4,597.7 1521.4,607.1 1522.0,598.6 1522.0,609.3 1522.6,596.9 1522.6,606.0 1523.2,595.4 1523.2,609.9 1523.9,596.1 1523.9,608.4 1524.5,609.6 1524.5,596.4 1525.1,611.2 1525.1,598.4 1525.7,611.2 1525.7,599.8 1526.3,612.5 1526.3,602.4 1526.9,605.4 1526.9,596.3 1527.5,606.3 1527.5,600.1 1528.1,604.4 1528.1,615.0 1528.8,616.5 1528.8,603.8 1529.5,600.9 1529.5,607.5 1530.1,596.9 1530.1,610.0 1530.8,605.7 1530.8,599.5 1531.4,596.3 1531.4,607.6 1532.1,596.7 1532.1,606.1 1532.7,610.3 1532.7,598.9 1533.3,611.4 1533.3,598.6 1534.0,610.3 1534.0,597.5 1534.6,593.3 1534.6,608.6 1535.2,605.5 1535.2,598.4 1535.9,609.4 1535.9,599.6 1536.5,611.5 1536.5,597.6 1537.1,614.7 1537.1,598.8 1537.8,598.1 1537.8,611.7 1538.4,614.7 1538.4,603.1 1539.0,601.7 1539.0,613.5 1539.6,611.3 1539.6,596.5 1540.2,595.7 1540.2,610.1 1540.8,607.8 1540.8,597.4 1541.4,598.2 1541.4,611.0 1542.1,601.7 1542.1,607.9 1542.7,596.9 1542.7,611.9 1543.3,608.0 1543.3,594.8 1543.9,608.7 1543.9,598.2 1544.5,599.3 1544.5,608.6 1545.2,609.5 1545.2,595.8 1545.8,599.8 1545.8,608.6 1546.5,598.0 1546.5,611.8 1547.1,611.2 1547.1,602.7 1547.8,602.1 1547.8,610.8 1548.4,597.8 1548.4,609.1 1549.0,600.9 1549.0,608.8 1549.7,605.6 1549.7,596.8 1550.3,604.7 1550.3,594.8 1550.9,591.4 1550.9,606.7 1551.6,553.8 1551.6,607.9 1552.2,601.2 1552.2,613.4 1552.8,596.6 1552.8,604.0 1553.4,595.0 1553.4,611.2 1554.0,613.2 1554.0,597.2 1554.7,595.6 1554.7,611.8 1555.3,596.1 1555.3,606.8 1555.9,606.0 1555.9,595.2 1556.5,594.4 1556.5,604.4 1557.1,606.2 1557.1,591.8 1557.7,596.5 1557.7,602.7 1558.3,595.5 1558.3,607.5 1559.0,605.8 1559.0,589.8 1559.6,604.5 1559.6,532.0 1560.3,589.5 1560.3,606.2 1560.9,606.7 1560.9,591.0 1561.5,593.9 1561.5,604.7 1562.2,591.2 1562.2,610.6 1562.8,604.5 1562.8,590.4 1563.4,594.6 1563.4,602.5 1564.1,606.4 1564.1,593.5 1564.7,602.8 1564.7,595.0 1565.3,594.8 1565.3,601.1 1565.9,603.2 1565.9,591.8 1566.6,606.2 1566.6,588.9 1567.2,604.7 1567.2,593.5 1567.8,606.5 1567.8,586.7 1568.4,587.0 1568.4,602.7 1569.0,588.4 1569.0,599.6 1569.6,598.5 1569.6,606.2 1570.2,604.1 1570.2,592.9 1570.8,600.2 1570.8,529.0 1571.4,592.4 1571.4,606.5 1572.1,603.3 1572.1,588.3 1572.7,602.6 1572.7,588.0 1573.3,589.7 1573.3,603.1 1574.0,601.3 1574.0,589.6 1574.6,591.6 1574.6,603.7 1575.2,598.7 1575.2,583.7 1575.9,598.9 1575.9,587.4 1576.5,599.9 1576.5,590.2 1577.1,589.7 1577.1,597.4 1577.7,599.3 1577.7,589.1 1578.4,601.4 1578.4,589.6 1579.0,601.6 1579.0,589.0 1579.6,583.9 1579.6,599.9 1580.2,596.5 1580.2,583.0 1580.8,588.1 1580.8,604.2 1581.4,598.3 1581.4,585.2 1582.0,600.8 1582.0,542.0 1582.7,596.1 1582.7,586.4 1583.3,596.4 1583.3,585.7 1583.9,584.1 1583.9,600.9 1584.5,597.9 1584.5,583.2 1585.2,597.6 1585.2,585.2 1585.8,594.5 1585.8,582.7 1586.4,597.2 1586.4,585.6 1587.1,581.6 1587.1,596.5 1587.7,594.0 1587.7,584.4 1588.3,596.1 1588.3,580.6 1588.9,584.9 1588.9,597.6 1589.6,584.8 1589.6,598.3 1590.2,592.2 1590.2,580.9 1590.8,579.2 1590.8,602.0 1591.4,582.8 1591.4,595.3 1592.0,585.1 1592.0,593.4 1592.6,594.5 1592.6,579.9 1593.2,584.4 1593.2,594.0 1593.9,596.3 1593.9,583.9 1594.5,583.4 1594.5,595.8 1595.1,579.3 1595.1,592.2 1595.7,584.4 1595.7,594.9 1596.3,581.3 1596.3,595.1 1597.0,582.2 1597.0,596.0 1597.6,594.4 1597.6,578.0 1598.2,583.8 1598.2,599.4 1598.8,582.4 1598.8,591.2 1599.5,587.8 1599.5,572.8 1600.1,591.4 1600.1,581.5 1600.7,589.2 1600.7,578.5 1601.3,576.7 1601.3,594.7 1601.9,577.9 1601.9,594.0 1602.6,578.1 1602.6,590.2 1603.2,589.2 1603.2,547.6 1603.8,578.6 1603.8,591.2 1604.4,590.4 1604.4,581.1 1605.0,579.3 1605.0,588.3 1605.6,589.1 1605.6,576.0 1606.2,576.5 1606.2,593.4 1606.8,592.7 1606.8,579.5 1607.5,592.5 1607.5,576.5 1608.1,589.5 1608.1,550.7 1608.7,589.2 1608.7,574.6 1609.4,587.2 1609.4,575.2 1610.0,589.2 1610.0,578.0 1610.6,588.3 1610.6,577.1 1611.2,575.2 1611.2,592.0 1611.8,576.4 1611.8,588.3 1612.5,577.3 1612.5,593.1 1613.1,591.7 1613.1,572.6 1613.7,585.3 1613.7,573.7 1614.3,580.4 1614.3,589.8 1614.9,592.4 1614.9,574.2 1615.5,589.0 1615.5,560.0 1616.1,573.9 1616.1,589.7 1616.7,578.6 1616.7,596.6 1617.4,580.4 1617.4,592.8 1618.0,590.2 1618.0,577.5 1618.6,586.8 1618.6,575.7 1619.3,588.8 1619.3,580.2 1619.9,575.0 1619.9,587.9 1620.5,582.1 1620.5,594.4 1621.1,577.6 1621.1,591.4 1621.7,588.8 1621.7,575.2 1622.3,579.9 1622.3,590.2 1623.0,578.0 1623.0,589.2 1623.6,579.5 1623.6,592.0 1624.2,580.6 1624.2,594.4 1624.8,596.0 1624.8,575.2 1625.4,592.2 1625.4,582.8 1626.0,588.2 1626.0,578.1 1626.6,587.3 1626.6,574.5 1627.2,580.1 1627.2,590.4 1627.9,576.3 1627.9,591.0 1628.5,580.9 1628.5,590.3 1629.1,587.8 1629.1,573.9 1629.7,580.7 1629.7,594.0 1630.4,577.7 1630.4,590.8 1631.0,590.6 1631.0,576.9 1631.6,590.3 1631.6,579.5 1632.2,591.0 1632.2,577.6 1632.8,579.9 1632.8,591.1 1633.4,592.6 1633.4,576.4 1634.0,580.9 1634.0,590.5 1634.6,585.7 1634.6,595.6 1635.3,590.4 1635.3,582.6 1635.9,595.4 1635.9,583.8 1636.5,594.8 1636.5,580.8 1637.1,595.9 1637.1,580.4 1637.7,597.7 1637.7,586.3 1638.4,584.2 1638.4,594.4 1639.0,583.7 1639.0,596.9 1639.6,596.0 1639.6,581.5 1640.2,597.2 1640.2,582.4 1640.8,596.7 1640.8,589.3 1641.4,595.9 1641.4,581.8 1642.0,571.0 1642.0,600.8 1642.6,581.8 1642.6,596.7 1643.2,585.0 1643.2,605.2 1643.9,588.1 1643.9,596.9 1644.5,590.3 1644.5,598.6 1645.1,587.6 1645.1,601.9 1645.7,581.6 1645.7,604.0 1646.4,603.9 1646.4,584.5 1647.0,602.4 1647.0,586.6 1647.6,604.2 1647.6,587.9 1648.2,605.2 1648.2,587.0 1648.8,597.9 1648.8,587.0 1649.4,586.8 1649.4,602.1 1650.0,601.9 1650.0,588.9 1650.6,600.0 1650.6,590.0 1651.2,604.0 1651.2,587.6 1651.9,602.2 1651.9,591.8 1652.5,594.1 1652.5,609.3 1653.1,591.9 1653.1,606.3 1653.7,601.5 1653.7,588.7 1654.4,592.3 1654.4,605.6 1655.0,602.9 1655.0,589.9 1655.6,606.9 1655.6,590.3 1656.2,605.8 1656.2,591.9 1656.8,586.6 1656.8,604.2 1657.4,597.4 1657.4,610.0 1658.0,611.4 1658.0,589.3 1658.6,607.4 1658.6,593.3 1659.2,610.8 1659.2,596.9 1659.8,592.6 1659.8,614.0 1660.5,591.3 1660.5,607.2 1661.1,597.3 1661.1,609.7 1661.7,596.7 1661.7,611.1 1662.3,595.5 1662.3,610.5 1662.9,614.8 1662.9,600.2 1663.5,615.7 1663.5,600.3 1664.2,612.3 1664.2,598.9 1664.8,614.1 1664.8,597.7 1665.4,610.9 1665.4,595.5 1666.0,610.1 1666.0,594.1 1666.6,613.4 1666.6,599.2 1667.2,604.3 1667.2,610.6 1667.8,599.5 1667.8,619.5 1668.4,614.1 1668.4,598.4 1669.1,604.3 1669.1,615.0 1669.7,598.0 1669.7,618.7 1670.3,617.4 1670.3,602.6 1670.9,616.3 1670.9,604.1 1671.5,602.9 1671.5,618.4 1672.1,602.6 1672.1,616.4 1672.7,605.9 1672.7,616.2 1673.3,619.6 1673.3,603.6 1673.9,605.2 1673.9,616.6 1674.6,620.4 1674.6,603.8 1675.2,608.4 1675.2,622.0 1675.8,620.5 1675.8,606.2 1676.4,620.7 1676.4,607.7 1677.0,617.3 1677.0,576.0 1677.6,605.6 1677.6,622.0 1678.2,624.6 1678.2,604.6 1678.9,605.9 1678.9,622.2 1679.5,609.8 1679.5,623.4 1680.1,609.2 1680.1,625.6 1680.7,621.0 1680.7,611.5 1681.3,610.9 1681.3,627.9 1681.9,611.6 1681.9,633.5 1682.5,628.3 1682.5,613.7 1683.2,611.3 1683.2,624.1 1683.8,609.4 1683.8,624.9 1684.4,612.9 1684.4,628.3 1685.0,617.7 1685.0,629.8 1685.6,630.7 1685.6,612.5 1686.2,624.1 1686.2,617.7 1686.8,632.2 1686.8,616.0 1687.4,614.8 1687.4,631.6 1688.0,615.2 1688.0,631.1 1688.7,634.4 1688.7,618.9 1689.3,619.3 1689.3,632.1 1689.9,616.9 1689.9,631.4 1690.5,619.6 1690.5,638.5 1691.1,619.6 1691.1,634.1 1691.7,634.6 1691.7,593.7 1692.3,624.4 1692.3,638.0 1692.9,622.0 1692.9,634.6 1693.5,634.7 1693.5,619.5 1694.2,623.9 1694.2,638.9 1694.8,641.7 1694.8,624.6 1695.4,625.7 1695.4,643.3 1696.0,640.0 1696.0,627.1 1696.6,627.3 1696.6,640.9 1697.2,625.7 1697.2,640.3 1697.8,625.4 1697.8,641.1 1698.4,646.2 1698.4,616.0 1699.0,642.8 1699.0,628.0 1699.7,647.9 1699.7,629.6 1700.3,644.7 1700.3,630.8 1700.9,630.6 1700.9,647.8 1701.5,648.9 1701.5,633.0 1702.1,635.1 1702.1,647.9 1702.7,630.8 1702.7,650.6 1703.3,632.2 1703.3,646.9 1703.9,634.2 1703.9,647.6 1704.5,636.7 1704.5,652.2 1705.1,635.2 1705.1,651.3 1705.8,649.1 1705.8,638.3 1706.4,653.0 1706.4,633.4 1707.0,647.1 1707.0,634.2 1707.6,637.7 1707.6,651.0 1708.2,638.2 1708.2,652.4 1708.8,653.4 1708.8,634.9 1709.4,638.9 1709.4,648.9 1710.0,654.4 1710.0,635.9 1710.6,638.7 1710.6,652.1 1711.2,654.0 1711.2,640.7 1711.9,654.6 1711.9,640.8 1712.5,640.6 1712.5,655.2 1713.1,642.4 1713.1,653.9 1713.7,656.6 1713.7,640.8 1714.3,657.6 1714.3,637.0 1714.9,654.4 1714.9,641.5 1715.5,643.3 1715.5,654.7 1716.1,641.6 1716.1,654.4 1716.7,640.9 1716.7,657.8 1717.3,646.5 1717.3,658.9 1718.0,660.0 1718.0,642.8 1718.6,657.8 1718.6,641.9 1719.2,644.8 1719.2,659.6 1719.8,645.8 1719.8,660.5 1720.4,646.7 1720.4,660.7 1721.0,648.3 1721.0,663.6 1721.6,659.3 1721.6,648.3 1722.2,646.7 1722.2,662.1 1722.8,661.9 1722.8,650.4 1723.5,651.2 1723.5,664.3 1724.1,649.9 1724.1,666.1 1724.7,652.3 1724.7,668.6 1725.3,668.3 1725.3,654.8 1725.9,653.7 1725.9,669.8 1726.5,656.3 1726.5,676.9 1727.1,660.5 1727.1,671.8 1727.7,662.5 1727.7,681.0 1728.3,675.8 1728.3,660.2 1728.9,676.6 1728.9,657.1 1729.5,664.9 1729.5,676.4 1730.1,678.4 1730.1,663.7 1730.7,662.1 1730.7,679.5 1731.4,666.8 1731.4,684.9 1732.0,683.0 1732.0,670.4 1732.6,672.6 1732.6,685.7 1733.2,682.3 1733.2,671.7 1733.8,687.2 1733.8,671.4 1734.4,683.6 1734.4,673.5 1735.0,676.8 1735.0,689.9 1735.6,689.3 1735.6,674.2 1736.2,679.7 1736.2,688.5 1736.8,679.0 1736.8,689.6 1737.4,690.2 1737.4,675.2 1738.1,677.8 1738.1,692.7 1738.7,679.3 1738.7,690.9 1739.3,691.7 1739.3,676.3 1739.9,679.9 1739.9,693.2 1740.5,692.4 1740.5,677.7 1741.1,693.3 1741.1,678.0 1741.7,680.1 1741.7,693.9 1742.3,680.4 1742.3,694.8 1742.9,678.4 1742.9,696.3 1743.5,695.6 1743.5,682.3 1744.1,699.7 1744.1,685.1 1744.7,686.0 1744.7,696.4 1745.3,695.9 1745.3,683.2 1746.0,698.1 1746.0,687.1 1746.6,689.0 1746.6,700.3 1747.2,704.8 1747.2,690.1 1747.8,690.6 1747.8,702.7 1748.4,690.8 1748.4,705.6 1749.0,703.2 1749.0,690.3 1749.6,693.1 1749.6,705.7 1750.2,708.5 1750.2,692.7 1750.8,695.3 1750.8,709.0 1751.4,697.5 1751.4,710.5 1752.0,697.2 1752.0,715.0 1752.6,701.5 1752.6,716.1 1753.2,705.2 1753.2,717.1 1753.9,717.3 1753.9,701.9 1754.5,719.8 1754.5,706.9 1755.1,707.7 1755.1,719.6 1755.7,717.7 1755.7,706.4 1756.3,722.6 1756.3,711.4 1756.9,713.2 1756.9,728.0 1757.5,724.1 1757.5,711.4 1758.1,715.2 1758.1,727.0 1758.7,729.2 1758.7,716.5 1759.3,716.1 1759.3,730.2 1760.0,729.9 1760.0,719.4 1760.6,733.2 1760.6,721.3 1761.2,734.7 1761.2,722.3 1761.8,724.6 1761.8,735.2 1762.4,735.2 1762.4,724.1 1763.0,736.9 1763.0,727.7 1763.6,740.4 1763.6,725.6 1764.2,741.1 1764.2,726.1 1764.8,742.2 1764.8,729.6 1765.4,730.3 1765.4,744.6 1766.0,744.7 1766.0,728.2 1766.6,734.5 1766.6,745.9 1767.2,733.8 1767.2,745.9 1767.8,737.1 1767.8,750.2 1768.4,738.7 1768.4,750.4 1769.1,752.3 1769.1,739.4 1769.7,753.0 1769.7,739.1 1770.3,743.2 1770.3,753.5 1770.9,752.8 1770.9,744.5 1771.5,742.7 1771.5,757.6 1772.1,759.0 1772.1,742.6 1772.7,746.1 1772.7,759.6 1773.3,749.8 1773.3,761.0 1773.9,748.0 1773.9,764.0 1774.5,762.1 1774.5,752.4 1775.1,761.9 1775.1,752.3 1775.7,753.0 1775.7,764.8 1776.3,752.3 1776.3,765.7 1776.9,756.5 1776.9,768.7 1777.6,768.4 1777.6,755.3 1778.2,770.3 1778.2,757.9 1778.8,759.5 1778.8,771.0 1779.4,769.4 1779.4,755.9 1780.0,759.8 1780.0,775.0 1780.6,762.7 1780.6,775.4 1781.2,765.5 1781.2,776.2 1781.8,774.5 1781.8,765.7 1782.4,766.0 1782.4,778.1 1783.0,769.5 1783.0,777.8 1783.6,768.3 1783.6,782.7 1784.2,770.1 1784.2,779.1 1784.8,769.9 1784.8,783.1 1785.5,771.5 1785.5,782.1 1786.1,773.1 1786.1,784.5 1786.7,773.3 1786.7,784.2 1787.3,776.3 1787.3,785.8 1787.9,778.5 1787.9,788.3 1788.5,779.4 1788.5,790.4 1789.1,790.2 1789.1,779.3 1789.7,782.9 1789.7,792.4 1790.3,785.4 1790.3,795.1 1790.9,783.5 1790.9,795.3 1791.5,788.8 1791.5,797.6 1792.1,800.2 1792.1,789.0 1792.7,788.7 1792.7,800.3 1793.3,792.1 1793.3,802.5 1793.9,792.5 1793.9,805.2 1794.5,807.0 1794.5,794.0 1795.1,799.5 1795.1,809.1 1795.8,801.7 1795.8,811.3 1796.4,804.9 1796.4,814.3 1797.0,807.2 1797.0,817.2 1797.6,808.9 1797.6,820.8 1798.2,814.4 1798.2,823.7 1798.8,817.2 1798.8,832.4 1799.4,834.2 1799.4,821.9 1800.0,824.6 1800.0,834.3 1800.6,827.5 1800.6,839.0 1801.2,841.3 1801.2,830.9 1801.8,833.1 1801.8,844.7 1802.4,845.0 1802.4,833.1 1803.0,835.8 1803.0,847.7 1803.6,848.4 1803.6,839.1 1804.2,842.6 1804.2,851.8 1804.8,844.4 1804.8,854.6 1805.5,844.8 1805.5,858.6 1806.1,851.5 1806.1,863.5 1806.7,852.6 1806.7,865.4 1807.3,858.1 1807.3,867.6 1807.9,873.0 1807.9,860.3 1808.5,873.3 1808.5,864.7 1809.1,867.0 1809.1,880.1 1809.7,873.9 1809.7,882.6 1810.3,877.9 1810.3,888.0 1810.9,890.6 1810.9,878.3 1811.5,885.5 1811.5,894.3 1812.1,887.1 1812.1,899.0 1812.7,892.6 1812.7,903.6 1813.3,896.3 1813.3,906.2 1813.9,899.3 1813.9,910.7 1814.5,904.5 1814.5,917.5 1815.2,909.4 1815.2,920.1 1815.8,923.6 1815.8,913.3 1816.4,917.4 1816.4,928.1 1817.0,920.3 1817.0,933.1 1817.6,937.5 1817.6,927.8 1818.2,931.0 1818.2,944.8 1818.8,936.6 1818.8,945.8 1819.4,940.0 1819.4,952.8 1820.0,946.2 1820.0,959.4 1820.6,952.3 1820.6,965.0 1821.2,956.2 1821.2,967.7 1821.8,973.7 1821.8,961.6 1822.4,967.2 1822.4,978.8 1823.0,975.4 1823.0,986.7 1823.6,990.8 1823.6,980.7 1824.2,983.6 1824.2,998.2 1824.8,989.4 1824.8,1004.8 1825.4,997.3 1825.4,1007.8 1826.0,1003.3 1826.0,1013.3 1826.7,1005.5 1826.7,1017.4 1827.3,1019.9 1827.3,1011.0 1827.9,1015.9 1827.9,1027.0 1828.5,1028.6 1828.5,1018.3 1829.1,1021.3 1829.1,1031.5 1829.7,1014.1 1829.7,1029.3 1830.3,1019.3 1830.3,999.1 1830.9,1001.6 1830.9,977.3 1831.5,978.8 1831.5,966.8 1832.1,971.7 1832.1,961.9 1832.7,966.7 1832.7,959.1 1833.3,955.0 1833.3,967.8 1833.9,963.6 1833.9,951.2 1834.5,963.6 1834.5,952.7 1835.1,949.4 1835.1,958.4 1835.7,957.0 1835.7,944.1 1836.3,944.0 1836.3,952.3 1836.9,951.5 1836.9,944.3 1837.5,950.2 1837.5,937.5 1838.1,949.5 1838.1,886.2 1838.6,948.0 1838.6,854.7" stroke="#008000" stroke-width="10"/>
<polyline points="330.5,282.8 788.3,457.2 897.9,557.0 963.4,636.6 1010.2,673.3 1046.7,682.4 1076.6,675.0 1101.9,668.3 1123.8,676.3 1143.2,662.3 1160.6,660.3 1176.3,654.9 1190.6,649.6 1203.8,651.3 1216.1,642.2 1227.5,641.2 1238.1,633.7 1248.2,633.6 1257.6,628.7 1266.5,620.9 1275.0,617.6 1283.1,610.3 1290.8,613.1 1298.1,603.6 1305.2,603.0 1311.9,595.6 1318.4,600.3 1324.7,591.5 1330.7,590.0 1336.5,589.0 1342.1,586.1 1347.5,582.0 1352.8,583.8 1357.9,581.7 1362.8,579.4 1367.6,580.7 1372.3,579.1 1376.8,582.9 1381.3,581.1 1385.6,578.5 1389.7,576.9 1393.8,580.8 1397.8,581.0 1401.7,579.2 1405.5,586.9 1409.3,583.3 1412.9,582.1 1416.5,580.9 1420.0,584.2 1423.4,578.1 1426.7,587.3 1430.0,588.7 1433.2,590.6 1436.4,590.1 1439.5,589.6 1442.5,587.3 1445.5,591.8 1448.4,596.0 1451.3,593.0 1454.1,590.2 1456.9,597.0 1459.7,600.6 1462.4,597.7 1465.0,598.9 1467.6,598.4 1470.2,596.6 1472.7,596.0 1475.2,600.9 1477.7,594.2 1480.1,600.1 1482.5,598.4 1484.8,600.0 1487.1,596.6 1489.4,590.2 1491.7,595.1 1493.9,597.3 1496.1,600.4 1498.3,595.8 1500.4,598.3 1502.5,601.8 1504.6,602.1 1506.7,599.7 1508.7,600.8 1510.7,606.3 1512.7,601.0 1514.7,594.5 1516.6,602.8 1518.5,601.4 1520.4,606.0 1522.3,604.9 1524.1,608.7 1526.0,611.5 1527.8,605.3 1529.6,607.8 1531.4,605.8 1533.1,600.4 1534.8,603.6 1536.6,602.5 1538.3,608.4 1539.9,602.9 1541.6,605.8 1543.3,607.9 1544.9,608.8 1546.5,599.9 1548.1,600.4 1549.7,604.9 1551.3,554.1 1552.8,604.3 1554.4,595.9 1555.9,598.0 1557.4,596.8 1558.9,597.6 1560.4,604.3 1561.9,591.5 1563.3,602.3 1564.8,595.3 1566.2,601.9 1567.6,604.5 1569.1,590.7 1570.5,595.5 1571.8,603.6 1573.2,599.1 1574.6,597.0 1575.9,591.7 1577.3,597.7 1578.6,594.1 1579.9,595.1 1581.2,593.1 1582.5,590.9 1583.8,596.1 1585.1,585.5 1586.4,588.7 1587.6,591.3 1588.9,589.5 1590.1,589.0 1591.4,588.3 1592.6,585.7 1593.8,596.6 1595.0,588.0 1596.2,590.8 1597.4,585.9 1598.6,586.7 1599.8,588.1 1600.9,584.2 1602.1,585.0 1603.2,574.6 1604.4,583.0 1605.5,581.3 1606.6,581.6 1607.7,576.8 1608.8,579.8 1610.0,584.0 1611.0,584.8 1612.1,584.8 1613.2,580.2 1614.3,586.7 1615.4,581.8 1616.4,588.3 1617.5,584.5 1618.5,583.6 1619.6,589.1 1620.6,587.1 1621.6,581.1 1622.6,587.3 1623.6,583.4 1624.7,588.8 1625.7,587.2 1626.7,578.5 1627.6,581.1 1628.6,583.5 1629.6,581.0 1630.6,591.1 1631.5,579.8 1632.5,580.2 1633.5,588.2 1634.4,588.4 1635.4,585.8 1636.3,588.9 1637.2,590.2 1638.2,591.4 1639.1,592.4 1640.0,590.9 1640.9,589.6 1641.8,593.4 1642.7,594.5 1643.6,588.5 1644.5,593.9 1645.4,602.2 1646.3,596.6 1647.2,597.9 1648.1,598.9 1648.9,593.8 1649.8,598.4 1650.7,594.8 1651.5,600.5 1652.4,600.2 1653.2,599.1 1654.1,596.9 1654.9,592.2 1655.7,597.2 1656.6,592.6 1657.4,602.4 1658.2,597.9 1659.0,603.9 1659.8,611.1 1660.7,598.8 1661.5,606.0 1662.3,606.7 1663.1,603.1 1663.9,608.3 1664.7,604.8 1665.4,604.3 1666.2,604.2 1667.0,605.1 1667.8,608.4 1668.6,612.6 1669.3,611.4 1670.1,602.9 1670.9,604.8 1671.6,607.4 1672.4,611.3 1673.1,613.7 1673.9,610.5 1674.6,615.4 1675.4,615.1 1676.1,615.7 1676.8,615.8 1677.6,614.7 1678.3,613.7 1679.0,619.1 1679.7,618.0 1680.5,613.3 1681.2,618.5 1681.9,615.5 1682.6,619.5 1683.3,618.2 1684.0,622.2 1684.7,624.0 1685.4,622.8 1686.1,623.4 1686.8,632.5 1687.5,630.7 1688.2,623.4 1688.9,627.7 1689.5,622.6 1690.2,622.6 1690.9,623.8 1691.6,594.0 1692.2,628.3 1692.9,632.4 1693.6,629.5 1694.2,632.9 1694.9,640.9 1695.6,633.2 1696.2,629.6 1696.9,627.6 1697.5,630.1 1698.2,616.3 1698.8,635.0 1699.4,634.4 1700.1,635.5 1700.7,634.5 1701.4,647.0 1702.0,637.7 1702.6,643.8 1703.2,642.8 1703.9,647.9 1704.5,647.6 1705.1,635.5 1705.7,641.6 1706.3,644.5 1707.0,641.7 1707.6,641.0 1708.2,642.9 1708.8,647.2 1709.4,643.6 1710.0,644.4 1710.6,648.2 1711.2,648.8 1711.8,651.1 1712.4,651.7 1713.0,648.3 1713.6,647.6 1714.1,651.5 1714.7,641.8 1715.3,644.3 1715.9,652.2 1716.5,644.6 1717.0,651.7 1717.6,653.6 1718.2,656.2 1718.8,652.6 1719.3,659.9 1719.9,653.5 1720.5,661.0 1721.0,652.6 1721.6,653.2 1722.2,656.9 1722.7,656.3 1723.3,655.4 1723.8,650.3 1724.4,656.9 1724.9,660.8 1725.5,660.3 1726.0,666.0 1726.6,667.3 1727.1,663.9 1727.6,669.3 1728.2,661.5 1728.7,666.5 1729.3,670.3 1729.8,668.7 1730.3,668.3 1730.9,672.8 1731.4,679.3 1731.9,675.6 1732.4,673.8 1733.0,679.5 1733.5,679.7 1734.0,678.1 1734.5,682.2 1735.0,684.1 1735.6,687.5 1736.1,685.8 1736.6,679.3 1737.1,685.7 1737.6,681.9 1738.1,687.4 1738.6,683.4 1739.1,685.6 1739.6,685.4 1740.1,684.8 1740.6,685.3 1741.1,687.5 1741.6,683.7 1742.1,687.8 1742.6,678.7 1743.1,689.2 1743.6,692.1 1744.1,690.3 1744.6,690.1 1745.1,689.0 1745.6,694.2 1746.0,687.4 1746.5,694.9 1747.0,697.0 1747.5,691.6 1748.0,696.7 1748.4,695.7 1748.9,701.8 1749.4,706.0 1749.9,705.9 1750.3,704.3 1750.8,701.5 1751.3,707.1 1751.7,705.6 1752.2,708.2 1752.7,706.4 1753.1,709.3 1753.6,710.2 1754.1,717.5 1754.5,712.3 1755.0,715.6 1755.4,713.4 1755.9,714.4 1756.4,718.9 1756.8,719.2 1757.3,718.0 1757.7,721.1 1758.2,722.5 1758.6,722.0 1759.1,726.2 1759.5,724.1 1760.0,726.7 1760.4,723.6 1760.8,725.3 1761.3,728.4 1761.7,727.6 1762.2,730.3 1762.6,735.3 1763.0,731.4 1763.5,732.0 1763.9,738.5 1764.3,737.6 1764.8,734.0 1765.2,737.3 1765.6,734.7 1766.1,737.8 1766.5,743.3 1766.9,740.7 1767.3,745.1 1767.8,746.1 1768.2,744.7 1768.6,744.3 1769.0,745.5 1769.5,742.6 1769.9,753.3 1770.3,753.8 1770.7,747.5 1771.1,749.4 1771.5,755.8 1772.0,750.2 1772.4,748.1 1772.8,755.7 1773.2,751.2 1773.6,754.9 1774.0,754.8 1774.4,754.1 1774.8,762.2 1775.2,759.5 1775.6,760.7 1776.0,758.6 1776.4,758.8 1776.8,761.2 1777.3,764.5 1777.7,764.4 1778.1,762.3 1778.4,763.2 1778.8,765.2 1779.2,761.7 1779.6,767.5 1780.0,774.2 1780.4,763.3 1780.8,764.9 1781.2,769.1 1781.6,773.9 1782.0,771.2 1782.4,769.5 1782.8,773.7 1783.2,771.4 1783.5,772.6 1783.9,777.4 1784.3,772.0 1784.7,780.7 1785.1,776.5 1785.5,779.9 1785.8,776.4 1786.2,783.3 1786.6,777.9 1787.0,781.4 1787.4,781.0 1787.7,779.8 1788.1,780.6 1788.5,785.6 1788.9,787.4 1789.2,785.0 1789.6,786.4 1790.0,789.5 1790.3,788.8 1790.7,791.5 1791.1,788.0 1791.5,790.1 1791.8,796.5 1792.2,794.3 1792.6,797.7 1792.9,793.8 1793.3,798.8 1793.6,798.0 1794.0,800.6 1794.4,803.8 1794.7,801.0 1795.1,801.5 1795.4,804.5 1795.8,804.6 1796.2,811.5 1796.5,809.5 1796.9,811.3 1797.2,811.0 1797.6,819.6 1797.9,819.1 1798.3,817.5 1798.7,823.4 1799.0,823.4 1799.4,828.4 1799.7,826.5 1800.1,833.6 1800.4,832.8 1800.8,830.4 1801.1,839.2 1801.4,839.1 1801.8,838.3 1802.1,837.8 1802.5,839.3 1802.8,838.7 1803.2,842.2 1803.5,848.1 1803.9,846.2 1804.2,842.9 1804.5,846.5 1804.9,853.1 1805.2,850.6 1805.5,852.8 1805.9,857.2 1806.2,853.4 1806.6,860.9 1806.9,859.9 1807.2,860.5 1807.6,862.7 1807.9,867.5 1808.2,868.4 1808.6,871.3 1808.9,868.8 1809.2,874.5 1809.6,874.7 1809.9,878.5 1810.2,880.9 1810.5,883.0 1810.9,885.4 1811.2,890.9 1811.5,891.0 1811.8,896.3 1812.2,892.5 1812.5,893.0 1812.8,898.5 1813.1,899.7 1813.5,899.3 1813.8,906.2 1814.1,903.0 1814.4,908.4 1814.8,916.6 1815.1,912.3 1815.4,919.0 1815.7,919.9 1816.0,923.2 1816.3,923.7 1816.7,923.7 1817.0,931.0 1817.3,930.5 1817.6,935.4 1817.9,939.2 1818.2,938.4 1818.5,941.7 1818.9,943.8 1819.2,946.3 1819.5,953.1 1819.8,950.7 1820.1,953.6 1820.4,955.6 1820.7,958.5 1821.0,958.7 1821.3,966.3 1821.6,964.1 1821.9,972.1 1822.2,974.3 1822.6,973.3 1822.9,975.7 1823.2,983.6 1823.5,983.1 1823.8,986.7 1824.1,989.4 1824.4,992.8 1824.7,998.8 1825.0,999.2 1825.3,1003.0 1825.6,1004.9 1825.9,1006.0 1826.2,1004.3 1826.5,1010.2 1826.8,1013.0 1827.1,1012.7 1827.4,1014.8 1827.7,1019.3 1828.0,1021.6 1828.3,1020.7 1828.5,1023.2 1828.8,1024.5 1829.1,1026.1 1829.4,1027.8 1829.7,1022.7 1830.0,1019.3 1830.3,1002.9 1830.6,998.3 1830.9,988.7 1831.2,980.5 1831.5,969.8 1831.7,971.3 1832.0,969.4 1832.3,965.0 1832.6,961.9 1832.9,964.0 1833.2,962.3 1833.5,956.0 1833.8,962.9 1834.0,956.7 1834.3,960.0 1834.6,957.5 1834.9,956.5 1835.2,951.2 1835.5,954.0 1835.7,953.1 1836.0,947.6 1836.3,946.7 1836.6,949.2 1836.9,949.2 1837.1,946.8 1837.4,944.3 1837.7,937.8 1838.0,909.6 1838.3,886.5 1838.5,855.0" stroke="none" marker-start="url(#m3)" marker-mid="url(#m3)" marker-end="url(#m3)"/>
<path d="M334.6,239.2 399.7,245.7 446.4,252.7 482.7,260.5 512.6,269.5 537.8,282.1 559.7,295.9 579.1,311.0 596.4,327.1 612.1,340.1 626.5,353.9 639.7,368.1 651.9,382.8 663.3,395.2 673.9,405.6 683.9,415.4 693.4,424.5 702.3,433.0 710.8,441.0 718.8,448.6 726.5,455.9 733.9,462.9 740.9,469.7 747.7,476.2 754.2,482.4 760.4,488.4 766.4,494.2 772.2,500.0 777.8,505.4 783.3,510.5 788.5,514.7 793.6,519.4 798.6,523.7 803.4,527.9 808.0,532.0 812.6,536.5 817.0,538.5 821.3,541.5 825.5,547.4 829.6,551.1 833.5,554.1 837.4,553.6 841.2,558.8 845.0,560.6 848.6,563.0 852.2,561.4 855.7,564.3 859.1,562.9 862.4,567.3 865.7,569.2 868.9,571.1 872.1,571.1 875.2,573.6 878.2,574.8 881.2,573.7 884.1,576.6 887.0,577.9 889.8,577.2 892.6,581.1 895.4,580.0 898.1,582.5 900.7,579.9 903.3,580.2 905.9,584.0 908.4,589.4 910.9,587.9 913.4,588.1 915.8,588.5 918.2,591.1 920.5,595.0 922.8,594.0 925.1,592.9 927.4,594.5 929.6,595.1 931.8,594.1 934.0,594.3 936.1,593.2 938.2,594.4 940.3,592.8 942.4,596.8 944.4,599.0 946.4,594.5 948.4,592.3 950.4,593.4 952.3,595.2 954.2,598.3 956.1,597.4 958.0,599.5 959.8,596.0 961.7,596.5 963.5,597.9 965.3,595.5 967.0,594.9 968.8,597.1 970.5,597.6 972.2,598.7 973.9,593.9 975.6,597.5 977.3,599.7 978.9,601.2 980.6,597.9 982.2,595.0 983.8,595.6 985.4,595.1 987.0,596.1 988.5,590.7 990.1,591.5 991.6,592.8 993.1,591.2 994.6,590.3 996.1,594.9 997.6,594.9 999.0,592.0 1000.5,595.5 1001.9,593.3 1003.3,591.2 1004.7,590.3 1006.1,590.1 1007.5,592.1 1008.9,591.9 1010.3,592.0 1011.6,591.0 1013.0,592.3 1014.3,590.4 1015.6,591.4 1016.9,589.3 1018.2,591.9 1019.5,592.5 1020.8,591.1 1022.1,591.1 1023.3,589.6 1024.6,589.1 1025.8,589.9 1027.1,591.6 1028.3,587.7 1029.5,587.9 1030.7,589.9 1031.9,587.4 1033.1,585.9 1034.3,589.0 1035.4,588.0 1036.6,591.4 1037.8,591.3 1038.9,589.9 1040.0,588.7 1041.2,588.0 1042.3,587.4 1043.4,586.7 1044.5,584.6 1045.6,585.0 1046.7,587.0 1047.8,584.8 1048.9,583.7 1050.0,583.7 1051.0,587.7 1052.1,589.0 1053.1,588.3 1054.2,586.0 1055.2,587.2 1056.3,583.1 1057.3,585.1 1058.3,585.0 1059.3,588.4 1060.3,587.3 1061.3,584.9 1062.3,584.7 1063.3,582.9 1064.3,583.8 1065.3,582.7 1066.3,584.0 1067.2,584.9 1068.2,581.9 1069.1,584.4 1070.1,578.9 1071.0,578.3 1072.0,581.3 1072.9,582.8 1073.8,585.2 1074.8,583.0 1075.7,582.0 1076.6,581.1 1077.5,581.1 1078.4,581.9 1079.3,580.4 1080.2,580.0 1081.1,581.7 1082.0,582.1 1082.9,580.0 1083.7,582.4 1084.6,579.2 1085.5,580.5 1086.3,581.6 1087.2,580.2 1088.0,578.3 1088.9,577.7 1089.7,579.2 1090.6,582.4 1091.4,580.8 1092.2,577.5 1093.1,577.9 1093.9,576.2 1094.7,580.0 1095.5,580.7 1096.3,580.9 1097.1,577.1 1097.9,575.8 1098.7,575.7 1099.5,577.2 1100.3,577.9 1101.1,577.6 1101.9,579.3 1102.7,577.8 1103.5,580.1 1104.2,580.3 1105.0,578.1 1105.8,577.8 1106.5,581.1 1107.3,580.4 1108.0,577.6 1108.8,577.7 1109.5,577.4 1110.3,578.8 1111.0,577.4 1111.8,578.9 1112.5,577.9 1113.2,576.9 1114.0,578.8 1114.7,578.7 1115.4,575.5 1116.1,576.6 1116.9,576.9 1117.6,577.5 1118.3,579.0 1119.0,575.8 1119.7,577.2 1120.4,576.4 1121.1,577.7 1121.8,575.8 1122.5,576.4 1123.2,578.6 1123.9,576.3 1124.5,577.9 1125.2,573.3 1125.9,572.9 1126.6,572.9 1127.2,573.9 1127.9,574.4 1128.6,575.9 1129.3,574.1 1129.9,577.5 1130.6,579.2 1131.2,576.3 1131.9,576.7 1132.5,578.5 1133.2,576.3 1133.8,575.9 1134.5,576.9 1135.1,577.5 1135.8,576.4 1136.4,575.3 1137.0,575.6 1137.7,574.8 1138.3,576.1 1138.9,574.8 1139.5,573.9 1140.2,572.7 1140.8,575.7 1141.4,574.1 1142.0,572.1 1142.6,573.5 1143.2,573.4 1143.8,573.8 1144.5,573.3 1145.1,573.3 1146.0,573.3 1147.2,572.8 1147.2,571.5 1148.3,572.4 1148.3,573.0 1149.5,570.6 1150.7,571.8 1150.7,572.9 1151.9,574.6 1153.0,574.1 1153.0,573.0 1154.2,572.7 1154.2,572.0 1155.3,572.5 1155.3,569.1 1156.4,569.9 1156.4,572.7 1157.5,571.1 1157.5,569.1 1158.7,569.1 1158.7,569.7 1159.8,571.5 1159.8,568.4 1160.9,570.4 1160.9,571.3 1162.0,571.3 1162.0,569.6 1163.0,571.5 1163.0,570.9 1164.1,570.2 1165.2,569.3 1165.2,570.7 1166.3,571.6 1166.3,570.9 1167.3,571.1 1167.3,570.3 1168.4,569.4 1169.4,568.9 1170.5,568.8 1170.5,570.8 1171.5,567.7 1172.5,569.1 1172.5,568.0 1173.5,568.1 1174.5,568.2 1175.6,567.2 1176.6,568.0 1176.6,566.5 1177.5,566.1 1177.5,564.8 1178.5,566.0 1178.5,566.8 1179.5,567.4 1180.5,568.1 1181.5,567.7 1181.5,568.7 1182.4,567.9 1182.4,566.3 1183.4,567.3 1184.4,565.0 1185.3,564.4 1185.3,565.8 1186.2,565.6 1186.2,563.4 1187.2,563.3 1187.2,566.0 1188.1,565.8 1189.0,565.3 1190.0,566.5 1190.9,565.3 1191.8,566.7 1192.7,565.4 1192.7,566.9 1193.6,564.3 1193.6,561.6 1194.5,562.6 1194.5,563.7 1195.4,564.3 1195.4,562.4 1196.3,563.1 1197.2,564.7 1197.2,565.4 1198.0,564.7 1198.0,563.0 1198.9,563.7 1199.8,563.5 1200.7,564.5 1200.7,562.7 1201.5,561.2 1201.5,562.3 1202.4,563.0 1203.2,560.7 1203.2,561.3 1204.1,561.0 1204.1,561.6 1204.9,561.9 1204.9,560.7 1205.8,560.6 1205.8,560.1 1206.6,560.5 1206.6,562.1 1207.4,560.4 1207.4,561.3 1208.2,561.5 1208.2,560.2 1209.1,561.6 1209.1,558.3 1209.9,561.6 1209.9,562.6 1210.7,561.2 1210.7,559.6 1211.5,559.1 1211.5,558.3 1212.3,561.2 1212.3,559.2 1213.1,560.0 1213.1,558.2 1213.9,559.0 1213.9,559.9 1214.7,559.3 1214.7,560.7 1215.5,560.0 1215.5,560.4 1216.3,559.7 1216.3,558.2 1217.1,558.4 1217.1,559.2 1217.9,560.0 1217.9,558.8 1218.6,557.7 1219.4,557.5 1220.2,557.5 1220.2,558.2 1220.9,558.8 1220.9,557.2 1221.7,557.8 1221.7,557.1 1222.5,558.4 1222.5,557.1 1223.2,556.3 1223.2,555.3 1224.0,555.9 1224.0,556.5 1224.7,555.8 1224.7,556.4 1225.5,553.8 1225.5,555.4 1226.2,556.0 1226.2,553.9 1226.9,556.9 1227.7,557.3 1227.7,558.0 1228.4,556.4 1228.4,554.9 1229.1,557.5 1229.1,556.0 1229.9,553.8 1229.9,552.6 1230.6,556.3 1231.3,556.1 1232.0,556.2 1232.0,557.9 1232.7,556.1 1232.7,556.8 1233.4,556.1 1233.4,555.0 1234.1,554.2 1234.8,553.9 1234.8,555.4 1235.5,556.9 1235.5,556.3 1236.2,554.8 1236.2,553.2 1236.9,552.7 1236.9,554.5 1237.6,555.1 1237.6,556.1 1238.3,554.0 1239.0,555.1 1239.7,553.2 1239.7,552.5 1240.4,551.2 1241.1,553.8 1241.1,552.4 1241.7,554.4 1241.7,555.0 1242.4,554.5 1242.4,553.0 1243.1,555.2 1243.7,555.2 1243.7,554.1 1244.4,551.9 1244.4,552.9 1245.1,553.6 1245.1,551.6 1245.7,552.1 1245.7,552.5 1246.4,551.1 1246.4,551.9 1247.0,552.1 1247.0,552.6 1247.7,552.3 1247.7,551.8 1248.3,551.5 1249.0,553.1 1249.6,551.6 1250.3,552.7 1250.3,553.5 1250.9,551.8 1250.9,552.5 1251.5,552.7 1252.2,551.2 1252.2,552.7 1252.8,551.6 1252.8,550.3 1253.4,553.2 1253.4,552.7 1254.1,552.6 1254.1,554.3 1254.7,551.0 1254.7,550.3 1255.3,548.6 1255.3,549.4 1255.9,552.0 1256.5,552.3 1256.5,550.9 1257.2,550.0 1257.2,549.5 1257.8,552.3 1257.8,551.6 1258.4,551.9 1258.4,549.4 1259.0,550.6 1259.0,549.0 1259.6,549.6 1259.6,550.7 1260.2,551.1 1260.2,551.5 1260.9,550.4 1260.9,549.4 1261.8,551.7 1261.8,550.7 1262.7,550.6 1262.7,521.3 1263.6,549.6 1263.6,550.5 1264.5,549.1 1264.5,549.6 1265.4,549.8 1265.4,549.2 1266.3,551.1 1266.3,548.5 1267.1,549.1 1267.1,550.8 1268.0,548.9 1268.0,549.5 1268.9,547.4 1268.9,550.8 1269.7,549.7 1269.7,548.1 1270.6,549.7 1270.6,550.3 1271.4,551.0 1271.4,547.0 1272.3,549.3 1272.3,550.6 1273.1,550.0 1273.1,548.1 1273.9,550.5 1273.9,549.1 1274.8,548.0 1274.8,550.4 1275.6,550.9 1275.6,546.9 1276.4,547.1 1276.4,547.7 1277.2,546.8 1277.2,549.2 1278.0,548.4 1278.0,548.0 1278.8,549.0 1278.8,547.2 1279.7,547.4 1279.7,548.5 1280.5,547.7 1280.5,549.0 1281.3,546.8 1281.3,544.7 1282.0,545.5 1282.0,548.8 1282.8,546.7 1282.8,547.5 1283.6,545.5 1283.6,547.7 1284.4,548.7 1284.4,547.0 1285.2,545.6 1285.2,546.9 1286.0,550.2 1286.0,545.6 1286.7,546.0 1286.7,544.4 1287.5,544.4 1287.5,546.3 1288.3,546.3 1288.3,548.5 1289.0,546.7 1289.0,545.5 1289.8,544.5 1289.8,543.1 1290.5,543.4 1290.5,542.7 1291.3,542.7 1291.3,543.8 1292.0,544.2 1292.0,544.8 1292.8,543.4 1292.8,545.0 1293.5,545.8 1293.5,544.1 1294.3,541.9 1294.3,539.5 1295.0,540.0 1295.0,541.1 1295.7,540.1 1295.7,541.3 1296.5,540.1 1296.5,539.2 1297.2,538.9 1297.2,537.4 1297.9,536.9 1297.9,538.1 1298.6,536.2 1298.6,538.7 1299.3,538.2 1299.3,537.3 1300.1,537.1 1300.1,533.8 1300.8,535.5 1300.8,536.1 1301.5,535.7 1301.5,532.5 1302.2,532.2 1302.2,534.1 1302.9,532.6 1302.9,533.3 1303.6,532.4 1303.6,531.1 1304.3,528.9 1304.3,527.3 1305.0,526.7 1305.0,528.9 1305.6,528.2 1305.6,526.7 1306.3,527.4 1306.3,525.5 1307.0,527.3 1307.0,525.8 1307.7,526.0 1307.7,527.6 1308.4,527.1 1308.4,526.4 1309.0,526.7 1309.0,524.6 1309.7,485.9 1309.7,526.0 1310.4,524.5 1310.4,526.5 1311.1,528.0 1311.1,526.6 1311.7,526.4 1311.7,527.5 1312.4,530.2 1312.4,528.3 1313.0,529.2 1313.7,530.5 1313.7,528.9 1314.4,529.4 1314.4,530.2 1315.0,529.6 1315.0,530.1 1315.6,530.5 1315.6,532.6 1316.3,531.8 1316.3,530.5 1316.9,531.0 1316.9,532.9 1317.6,533.2 1317.6,530.5 1318.2,532.5 1318.2,531.1 1318.9,533.6 1318.9,532.1 1319.5,533.3 1319.5,533.9 1320.1,533.7 1320.1,532.8 1320.7,532.1 1320.7,530.7 1321.4,532.6 1322.0,533.0 1322.0,531.8 1322.6,532.2 1322.6,533.5 1323.2,532.0 1323.2,530.5 1323.9,531.9 1323.9,529.0 1324.5,529.5 1324.5,543.3 1325.1,529.8 1325.1,530.7 1325.7,530.8 1325.7,528.2 1326.3,528.6 1326.3,526.7 1326.9,528.6 1326.9,527.6 1327.5,529.9 1327.5,526.1 1328.1,526.0 1328.1,524.8 1328.8,524.1 1328.8,525.4 1329.6,525.6 1329.6,522.2 1330.4,523.5 1330.4,473.8 1331.2,521.1 1331.2,523.2 1332.0,520.8 1332.0,518.5 1332.8,517.3 1332.8,515.8 1333.5,516.5 1333.5,517.5 1334.3,517.1 1334.3,518.6 1335.1,515.3 1335.1,513.0 1335.8,514.6 1335.8,512.7 1336.6,515.1 1336.6,512.0 1337.4,511.7 1337.4,509.8 1338.1,509.0 1338.1,510.8 1338.9,509.1 1338.9,507.1 1339.6,508.7 1339.6,507.7 1340.4,507.4 1340.4,505.7 1341.1,504.9 1341.1,506.2 1341.8,504.1 1341.8,506.5 1342.6,504.8 1342.6,502.7 1343.3,502.9 1343.3,504.1 1344.0,504.0 1344.0,506.3 1344.8,504.5 1344.8,507.4 1345.5,507.0 1345.5,508.7 1346.2,508.6 1346.2,510.0 1346.9,510.3 1346.9,512.2 1347.6,511.2 1347.6,512.4 1348.3,514.1 1348.3,517.1 1349.1,517.6 1349.1,488.7 1349.8,518.3 1349.8,520.8 1350.5,520.9 1350.5,521.8 1351.2,523.0 1351.2,520.9 1351.8,523.2 1351.8,522.4 1352.5,525.3 1352.5,523.6 1353.2,524.1 1353.2,526.4 1353.9,524.0 1353.9,525.7 1354.6,523.9 1354.6,526.2 1355.3,523.5 1355.3,525.8 1356.0,525.5 1356.0,527.2 1356.6,527.2 1356.6,528.0 1357.3,527.2 1357.3,530.3 1358.0,527.9 1358.0,529.8 1358.6,529.1 1358.6,527.9 1359.3,529.6 1359.3,528.6 1360.0,529.8 1360.0,527.8 1360.6,529.0 1360.6,529.8 1361.3,531.7 1361.3,529.7 1361.9,529.3 1361.9,528.1 1362.6,528.8 1362.6,531.3 1363.2,531.5 1363.2,528.9 1363.9,529.3 1363.9,530.8 1364.5,530.2 1364.5,532.3 1365.2,530.2 1365.2,533.9 1365.8,531.1 1365.8,532.7 1366.5,533.0 1366.5,531.6 1367.1,533.2 1367.1,531.8 1367.7,529.7 1367.7,533.2 1368.3,533.2 1368.3,531.5 1369.0,533.7 1369.0,532.5 1369.6,534.6 1369.6,533.6 1370.2,534.8 1370.2,532.9 1370.8,533.5 1370.8,534.5 1371.5,533.3 1371.5,536.1 1372.1,534.9 1372.1,533.1 1372.7,535.4 1372.7,534.4 1373.3,533.1 1373.3,535.4 1373.9,535.6 1373.9,537.2 1374.5,535.7 1374.5,534.5 1375.1,536.0 1375.1,535.2 1375.7,536.3 1375.7,535.4 1376.4,536.7 1376.4,534.9 1377.1,533.9 1377.1,536.3 1377.9,535.9 1377.9,538.3 1378.6,536.4 1378.6,537.9 1379.4,538.3 1379.4,536.2 1380.1,537.3 1380.1,535.4 1380.8,536.9 1380.8,534.9 1381.5,539.1 1381.5,538.2 1382.3,536.7 1382.3,539.7 1383.0,538.1 1383.0,536.9 1383.7,540.1 1383.7,537.9 1384.4,540.5 1384.4,539.7 1385.1,540.3 1385.1,538.3 1385.8,539.5 1385.8,536.9 1386.5,537.6 1386.5,537.0 1387.2,538.4 1387.2,541.1 1387.9,541.3 1387.9,538.5 1388.6,538.6 1388.6,539.5 1389.3,541.2 1389.3,537.9 1390.0,539.0 1390.0,540.6 1390.7,541.9 1390.7,540.3 1391.4,540.2 1391.4,537.5 1392.1,540.0 1392.1,538.9 1392.8,539.4 1392.8,543.3 1393.4,542.3 1393.4,540.1 1394.1,540.0 1394.1,542.2 1394.8,540.9 1394.8,542.9 1395.5,540.4 1395.5,542.5 1396.1,543.2 1396.1,541.0 1396.8,542.2 1396.8,540.2 1397.4,540.2 1397.4,542.4 1398.1,543.6 1398.1,527.0 1398.8,543.4 1398.8,540.7 1399.4,542.6 1399.4,540.9 1400.1,541.3 1400.1,544.7 1400.7,543.3 1400.7,545.3 1401.3,544.5 1401.3,543.3 1402.0,544.7 1402.0,541.7 1402.6,543.6 1402.6,545.3 1403.3,545.7 1403.3,544.0 1403.9,544.1 1403.9,543.1 1404.5,544.5 1404.5,542.1 1405.2,543.8 1405.2,545.3 1405.8,542.3 1405.8,545.3 1406.4,545.3 1406.4,546.9 1407.0,544.6 1407.0,547.4 1407.7,545.9 1407.7,543.6 1408.3,546.3 1408.3,543.3 1408.9,543.9 1408.9,546.6 1409.5,545.8 1409.5,544.1 1410.1,544.9 1410.1,548.1 1410.7,546.8 1410.7,544.1 1411.3,546.1 1411.3,547.6 1411.9,544.5 1411.9,546.5 1412.5,546.9 1412.5,548.2 1413.2,548.1 1413.2,544.2 1413.9,544.9 1413.9,547.3 1414.6,548.0 1414.6,546.1 1415.3,549.9 1415.3,547.4 1416.1,546.2 1416.1,551.0 1416.8,551.0 1416.8,547.4 1417.5,550.1 1417.5,531.0 1418.2,547.6 1418.2,549.7 1418.9,548.0 1418.9,549.8 1419.6,547.4 1419.6,549.8 1420.2,549.2 1420.2,550.8 1420.9,549.8 1420.9,551.0 1421.6,552.0 1421.6,549.7 1422.3,550.3 1422.3,549.2 1423.0,549.4 1423.0,551.1 1423.7,552.0 1423.7,549.4 1424.3,548.7 1424.3,551.4 1425.0,550.5 1425.0,552.5 1425.7,552.6 1425.7,550.0 1426.3,550.7 1426.3,552.7 1427.0,552.1 1427.0,550.9 1427.7,552.2 1427.7,554.7 1428.3,553.6 1428.3,551.0 1429.0,552.4 1429.0,553.9 1429.6,553.4 1429.6,551.3 1430.3,554.5 1430.3,550.2 1430.9,552.0 1430.9,554.3 1431.6,553.4 1431.6,555.7 1432.2,554.4 1432.2,552.3 1432.8,552.8 1432.8,555.5 1433.5,553.1 1433.5,555.9 1434.1,553.3 1434.1,556.0 1434.8,554.9 1434.8,556.8 1435.4,554.9 1435.4,512.8 1436.0,554.3 1436.0,556.8 1436.6,555.4 1436.6,554.0 1437.3,555.9 1437.3,554.3 1437.9,557.6 1437.9,554.5 1438.5,556.9 1438.5,554.7 1439.1,554.5 1439.1,557.2 1439.7,556.5 1439.7,558.9 1440.3,556.9 1440.3,558.3 1440.9,555.5 1440.9,558.7 1441.6,556.5 1441.6,558.5 1442.2,559.1 1442.2,556.3 1442.8,558.8 1442.8,556.5 1443.4,559.2 1443.4,557.1 1444.1,557.8 1444.1,559.3 1444.8,560.7 1444.8,558.2 1445.5,558.5 1445.5,559.8 1446.2,558.0 1446.2,560.8 1446.9,557.4 1446.9,561.9 1447.6,559.6 1447.6,561.0 1448.2,561.6 1448.2,559.4 1448.9,561.1 1448.9,559.2 1449.6,559.7 1449.6,561.8 1450.3,562.0 1450.3,560.2 1450.9,562.3 1450.9,559.5 1451.6,560.1 1451.6,562.6 1452.3,561.2 1452.3,564.4 1452.9,560.3 1452.9,562.2 1453.6,560.5 1453.6,562.5 1454.2,562.0 1454.2,559.9 1454.9,560.4 1454.9,563.8 1455.5,561.3 1455.5,563.3 1456.2,562.2 1456.2,564.0 1456.8,561.4 1456.8,564.3 1457.5,564.2 1457.5,562.5 1458.1,564.2 1458.1,561.9 1458.8,563.1 1458.8,561.3 1459.4,560.9 1459.4,563.9 1460.0,562.9 1460.0,561.2 1460.7,560.1 1460.7,563.1 1461.3,561.1 1461.3,564.2 1461.9,564.6 1461.9,561.4 1462.5,562.1 1462.5,563.8 1463.2,564.3 1463.2,562.9 1463.8,565.0 1463.8,562.3 1464.4,562.7 1464.4,565.0 1465.0,562.5 1465.0,566.4 1465.6,565.8 1465.6,563.4 1466.2,564.2 1466.2,566.8 1466.9,561.0 1466.9,565.7 1467.5,566.9 1467.5,564.1 1468.1,564.8 1468.1,566.6 1468.7,564.7 1468.7,566.3 1469.3,563.7 1469.3,565.5 1470.0,563.1 1470.0,566.0 1470.7,563.6 1470.7,567.5 1471.3,566.8 1471.3,564.6 1472.0,563.5 1472.0,566.2 1472.7,566.3 1472.7,564.1 1473.4,566.0 1473.4,563.6 1474.0,563.7 1474.0,565.8 1474.7,564.4 1474.7,567.7 1475.3,566.3 1475.3,564.0 1476.0,564.2 1476.0,566.7 1476.7,563.5 1476.7,566.4 1477.3,564.3 1477.3,566.6 1478.0,564.1 1478.0,566.5 1478.6,563.4 1478.6,567.6 1479.3,567.4 1479.3,564.0 1479.9,565.9 1479.9,563.6 1480.5,565.2 1480.5,562.9 1481.2,565.0 1481.2,568.2 1481.8,567.0 1481.8,564.8 1482.4,567.2 1482.4,564.4 1483.1,566.6 1483.1,562.5 1483.7,564.6 1483.7,567.3 1484.3,565.7 1484.3,564.3 1485.0,566.2 1485.0,564.2 1485.6,566.4 1485.6,564.4 1486.2,564.8 1486.2,567.2 1486.8,566.4 1486.8,564.0 1487.4,564.6 1487.4,566.9 1488.0,564.7 1488.0,567.7 1488.6,565.1 1488.6,568.5 1489.2,564.7 1489.2,567.9 1489.9,568.2 1489.9,565.4 1490.5,566.5 1490.5,568.2 1491.1,565.6 1491.1,566.8 1491.8,565.7 1491.8,567.5 1492.4,566.0 1492.4,568.4 1493.1,567.0 1493.1,569.9 1493.8,569.1 1493.8,566.5 1494.4,567.7 1494.4,565.8 1495.1,568.5 1495.1,566.5 1495.8,566.5 1495.8,569.0 1496.4,569.1 1496.4,564.6 1497.1,567.3 1497.1,569.7 1497.7,567.1 1497.7,570.1 1498.4,569.6 1498.4,565.3 1499.0,565.8 1499.0,569.0 1499.6,566.9 1499.6,570.7 1500.3,566.7 1500.3,569.3 1500.9,567.1 1500.9,569.5 1501.6,567.6 1501.6,570.4 1502.2,567.1 1502.2,569.3 1502.8,568.0 1502.8,570.1 1503.4,570.5 1503.4,567.9 1504.1,567.1 1504.1,570.8 1504.7,568.6 1504.7,571.8 1505.3,568.9 1505.3,571.5 1505.9,570.9 1505.9,569.0 1506.5,567.9 1506.5,570.5 1507.2,568.4 1507.2,570.2 1507.8,572.5 1507.8,567.8 1508.4,568.5 1508.4,571.3 1509.0,568.8 1509.0,571.1 1509.6,571.6 1509.6,568.3 1510.2,569.6 1510.2,571.9 1510.8,568.1 1510.8,573.2 1511.5,568.7 1511.5,571.6 1512.1,571.4 1512.1,569.3 1512.8,569.4 1512.8,572.0 1513.5,568.7 1513.5,572.8 1514.1,572.3 1514.1,569.9 1514.8,572.7 1514.8,569.6 1515.4,570.3 1515.4,571.9 1516.1,570.5 1516.1,573.8 1516.7,573.1 1516.7,569.4 1517.3,570.1 1517.3,572.1 1518.0,571.4 1518.0,573.2 1518.6,570.5 1518.6,573.9 1519.3,569.9 1519.3,574.6 1519.9,570.8 1519.9,574.1 1520.5,573.0 1520.5,570.4 1521.1,571.3 1521.1,574.9 1521.8,573.6 1521.8,570.2 1522.4,574.1 1522.4,570.8 1523.0,570.0 1523.0,574.3 1523.6,574.7 1523.6,571.6 1524.2,571.4 1524.2,574.8 1524.8,575.5 1524.8,572.2 1525.5,575.0 1525.5,572.0 1526.1,572.6 1526.1,576.1 1526.7,571.8 1526.7,575.0 1527.3,574.5 1527.3,572.0 1527.9,574.4 1527.9,572.1 1528.5,571.3 1528.5,575.9 1529.2,575.5 1529.2,572.4 1529.8,573.3 1529.8,576.5 1530.5,576.1 1530.5,572.3 1531.1,577.5 1531.1,573.9 1531.8,574.0 1531.8,577.0 1532.4,576.8 1532.4,574.7 1533.1,578.1 1533.1,574.7 1533.7,577.5 1533.7,573.6 1534.3,573.0 1534.3,576.9 1535.0,573.3 1535.0,577.4 1535.6,576.8 1535.6,572.5 1536.2,574.0 1536.2,578.5 1536.8,573.1 1536.8,578.2 1537.5,577.8 1537.5,575.4 1538.1,578.2 1538.1,575.4 1538.7,578.0 1538.7,575.0 1539.3,575.4 1539.3,579.9 1539.9,578.0 1539.9,574.9 1540.6,575.4 1540.6,579.3 1541.2,576.1 1541.2,579.0 1541.8,578.8 1541.8,575.8 1542.4,579.7 1542.4,576.0 1543.0,579.5 1543.0,575.6 1543.6,579.7 1543.6,577.4 1544.2,580.5 1544.2,577.3 1544.9,576.4 1544.9,579.8 1545.5,577.6 1545.5,580.7 1546.2,576.1 1546.2,580.3 1546.8,581.1 1546.8,577.5 1547.5,581.2 1547.5,577.3 1548.1,581.0 1548.1,576.7 1548.7,580.5 1548.7,578.3 1549.4,578.6 1549.4,581.7 1550.0,582.3 1550.0,578.8 1550.6,581.0 1550.6,577.6 1551.2,578.2 1551.2,583.4 1551.9,582.8 1551.9,580.8 1552.5,582.4 1552.5,578.6 1553.1,580.4 1553.1,584.3 1553.7,579.5 1553.7,583.2 1554.3,584.0 1554.3,580.1 1555.0,583.2 1555.0,579.6 1555.6,580.8 1555.6,583.3 1556.2,582.4 1556.2,578.5 1556.8,583.9 1556.8,578.7 1557.4,584.0 1557.4,581.4 1558.0,584.7 1558.0,580.0 1558.6,584.5 1558.6,582.0 1559.3,584.9 1559.3,580.3 1559.9,582.1 1559.9,584.3 1560.6,580.7 1560.6,584.8 1561.2,584.2 1561.2,581.0 1561.8,586.3 1561.8,581.7 1562.5,579.8 1562.5,584.7 1563.1,581.5 1563.1,585.8 1563.7,583.8 1563.7,587.7 1564.4,586.8 1564.4,582.9 1565.0,588.2 1565.0,582.9 1565.6,587.4 1565.6,582.7 1566.2,586.8 1566.2,583.1 1566.8,586.1 1566.8,583.5 1567.5,587.4 1567.5,582.4 1568.1,588.0 1568.1,582.8 1568.7,584.0 1568.7,588.6 1569.3,584.5 1569.3,587.1 1569.9,584.1 1569.9,589.4 1570.5,587.6 1570.5,584.3 1571.1,587.4 1571.1,583.9 1571.7,588.1 1571.7,585.1 1572.4,588.8 1572.4,584.8 1573.0,588.0 1573.0,585.8 1573.7,585.3 1573.7,588.5 1574.3,585.2 1574.3,588.2 1574.9,590.7 1574.9,585.9 1575.6,590.7 1575.6,587.6 1576.2,590.2 1576.2,585.5 1576.8,586.9 1576.8,591.1 1577.4,586.6 1577.4,590.3 1578.1,590.7 1578.1,585.7 1578.7,586.0 1578.7,590.3 1579.3,588.2 1579.3,590.1 1579.9,590.4 1579.9,586.1 1580.5,587.0 1580.5,592.0 1581.1,591.7 1581.1,587.5 1581.7,588.3 1581.7,591.4 1582.4,591.9 1582.4,587.9 1583.0,593.3 1583.0,589.2 1583.6,593.2 1583.6,587.7 1584.2,591.4 1584.2,588.9 1584.8,589.3 1584.8,593.7 1585.5,592.8 1585.5,588.0 1586.1,592.6 1586.1,588.6 1586.7,589.1 1586.7,594.1 1587.4,590.1 1587.4,593.0 1588.0,588.5 1588.0,595.8 1588.6,596.1 1588.6,591.9 1589.2,594.2 1589.2,590.6 1589.9,591.6 1589.9,594.7 1590.5,590.7 1590.5,594.2 1591.1,591.7 1591.1,595.7 1591.7,592.4 1591.7,596.5 1592.3,595.4 1592.3,590.2 1592.9,591.9 1592.9,595.8 1593.5,593.1 1593.5,596.4 1594.1,591.6 1594.1,597.1 1594.7,593.4 1594.7,598.8 1595.4,592.6 1595.4,597.0 1596.0,598.1 1596.0,592.7 1596.6,592.4 1596.6,597.4 1597.3,591.3 1597.3,597.6 1597.9,599.2 1597.9,593.4 1598.5,598.4 1598.5,594.6 1599.2,594.2 1599.2,598.6 1599.8,600.8 1599.8,595.1 1600.4,595.6 1600.4,600.0 1601.0,598.1 1601.0,593.8 1601.6,596.6 1601.6,600.5 1602.3,600.6 1602.3,595.9 1602.9,595.3 1602.9,599.4 1603.5,596.6 1603.5,599.3 1604.1,601.6 1604.1,596.0 1604.7,596.8 1604.7,600.2 1605.3,597.0 1605.3,600.3 1605.9,596.5 1605.9,601.5 1606.5,602.8 1606.5,596.9 1607.1,601.7 1607.1,597.9 1607.8,601.3 1607.8,598.1 1608.4,602.8 1608.4,597.3 1609.0,599.5 1609.0,603.3 1609.7,603.4 1609.7,599.3 1610.3,602.2 1610.3,598.6 1610.9,602.8 1610.9,598.9 1611.5,603.3 1611.5,598.4 1612.1,602.6 1612.1,599.6 1612.7,600.6 1612.7,604.7 1613.4,604.5 1613.4,600.7 1614.0,604.4 1614.0,600.2 1614.6,603.9 1614.6,598.5 1615.2,600.9 1615.2,606.4 1615.8,605.1 1615.8,600.4 1616.4,601.4 1616.4,606.7 1617.0,601.2 1617.0,608.0 1617.7,607.6 1617.7,604.0 1618.3,606.0 1618.3,602.6 1618.9,602.9 1618.9,607.8 1619.5,608.3 1619.5,603.0 1620.2,608.1 1620.2,603.5 1620.8,607.6 1620.8,603.3 1621.4,603.0 1621.4,607.8 1622.0,608.6 1622.0,602.8 1622.6,605.0 1622.6,608.4 1623.2,610.7 1623.2,604.5 1623.8,604.4 1623.8,608.9 1624.4,604.1 1624.4,609.9 1625.0,604.4 1625.0,611.7 1625.7,613.3 1625.7,604.8 1626.3,610.4 1626.3,604.3 1626.9,606.8 1626.9,611.9 1627.5,611.3 1627.5,608.5 1628.2,606.7 1628.2,611.6 1628.8,607.0 1628.8,613.2 1629.4,607.9 1629.4,612.3 1630.0,608.0 1630.0,613.6 1630.6,609.2 1630.6,614.4 1631.3,609.6 1631.3,615.2 1631.9,610.4 1631.9,615.7 1632.5,609.9 1632.5,615.0 1633.1,614.9 1633.1,610.4 1633.7,611.5 1633.7,614.9 1634.3,612.7 1634.3,616.7 1634.9,611.5 1634.9,614.8 1635.5,616.5 1635.5,611.9 1636.2,612.6 1636.2,616.7 1636.8,612.4 1636.8,616.5 1637.4,618.0 1637.4,614.1 1638.0,613.9 1638.0,618.5 1638.6,615.0 1638.6,620.3 1639.3,614.8 1639.3,620.1 1639.9,614.3 1639.9,621.3 1640.5,620.7 1640.5,615.3 1641.1,616.3 1641.1,620.4 1641.7,616.0 1641.7,621.9 1642.3,616.1 1642.3,622.2 1642.9,617.7 1642.9,621.6 1643.5,621.6 1643.5,617.7 1644.1,617.8 1644.1,623.1 1644.8,623.9 1644.8,618.6 1645.4,622.6 1645.4,617.7 1646.0,618.3 1646.0,622.9 1646.6,620.6 1646.6,625.4 1647.2,624.7 1647.2,619.6 1647.9,625.2 1647.9,620.2 1648.5,625.5 1648.5,620.8 1649.1,619.9 1649.1,625.4 1649.7,625.7 1649.7,621.3 1650.3,621.2 1650.3,626.3 1650.9,627.6 1650.9,620.2 1651.5,621.1 1651.5,627.1 1652.1,622.8 1652.1,627.9 1652.7,628.1 1652.7,622.9 1653.4,623.6 1653.4,629.9 1654.0,629.5 1654.0,625.5 1654.6,623.0 1654.6,628.4 1655.2,629.4 1655.2,625.3 1655.8,631.5 1655.8,625.8 1656.4,631.9 1656.4,626.4 1657.0,630.7 1657.0,625.9 1657.7,627.6 1657.7,632.4 1658.3,632.9 1658.3,626.7 1658.9,627.6 1658.9,632.4 1659.5,633.6 1659.5,628.5 1660.1,633.1 1660.1,628.7 1660.7,633.3 1660.7,628.7 1661.4,633.0 1661.4,628.5 1662.0,629.1 1662.0,633.7 1662.6,634.3 1662.6,630.4 1663.2,634.7 1663.2,630.3 1663.8,635.7 1663.8,630.9 1664.4,629.9 1664.4,635.4 1665.0,636.1 1665.0,631.4 1665.6,632.1 1665.6,637.8 1666.2,633.4 1666.2,638.9 1666.9,632.2 1666.9,638.1 1667.5,638.6 1667.5,632.6 1668.1,635.0 1668.1,640.0 1668.7,639.3 1668.7,634.3 1669.3,638.8 1669.3,634.6 1670.0,635.1 1670.0,640.6 1670.6,641.0 1670.6,635.8 1671.2,635.4 1671.2,641.4 1671.8,636.1 1671.8,642.7 1672.4,641.0 1672.4,637.0 1673.0,642.9 1673.0,637.2 1673.6,637.1 1673.6,643.3 1674.2,638.6 1674.2,644.2 1674.8,643.6 1674.8,639.1 1675.5,644.5 1675.5,639.1 1676.1,638.0 1676.1,644.5 1676.7,641.2 1676.7,646.6 1677.3,644.3 1677.3,641.1 1677.9,640.9 1677.9,646.9 1678.5,642.3 1678.5,648.5 1679.1,647.2 1679.1,640.8 1679.7,646.2 1679.7,641.2 1680.3,642.9 1680.3,648.4 1681.0,643.0 1681.0,647.5 1681.6,649.6 1681.6,642.3 1682.2,642.9 1682.2,649.8 1682.8,649.3 1682.8,644.7 1683.4,651.4 1683.4,645.1 1684.0,650.8 1684.0,646.6 1684.6,646.6 1684.6,652.5 1685.2,652.0 1685.2,644.8 1685.8,653.4 1685.8,647.4 1686.4,645.6 1686.4,651.3 1687.1,646.8 1687.1,655.4 1687.7,647.9 1687.7,654.5 1688.3,653.6 1688.3,648.5 1688.9,653.8 1688.9,650.2 1689.5,649.7 1689.5,656.0 1690.1,649.8 1690.1,655.9 1690.7,657.2 1690.7,651.1 1691.4,650.2 1691.4,657.1 1692.0,658.1 1692.0,651.8 1692.6,651.3 1692.6,658.3 1693.2,651.4 1693.2,657.6 1693.8,657.9 1693.8,652.3 1694.4,659.2 1694.4,652.8 1695.0,652.6 1695.0,662.7 1695.6,661.8 1695.6,654.7 1696.2,651.6 1696.2,661.7 1696.9,653.8 1696.9,661.2 1697.5,654.2 1697.5,663.6 1698.1,662.2 1698.1,652.9 1698.7,657.2 1698.7,664.8 1699.3,657.5 1699.3,666.8 1699.9,655.8 1699.9,665.0 1700.5,665.5 1700.5,658.0 1701.1,656.7 1701.1,665.4 1701.7,655.7 1701.7,672.4 1702.3,666.6 1702.3,656.5 1703.0,668.1 1703.0,656.3 1703.6,668.7 1703.6,657.7 1704.2,658.9 1704.2,669.5 1704.8,672.3 1704.8,656.3 1705.4,652.3 1705.4,667.4 1706.0,670.5 1706.0,657.2 1706.6,670.7 1706.6,657.3 1707.2,669.8 1707.2,657.6 1707.8,671.9 1707.8,657.7 1708.4,676.3 1708.4,654.2 1709.1,661.5 1709.1,675.0 1709.7,671.5 1709.7,656.7 1710.3,675.0 1710.3,660.7 1710.9,673.5 1710.9,657.4 1711.5,676.0 1711.5,662.0 1712.1,677.5 1712.1,661.3 1712.7,673.9 1712.7,657.8 1713.3,662.1 1713.3,677.2 1713.9,682.4 1713.9,661.9 1714.5,662.2 1714.5,685.0 1715.1,662.4 1715.1,681.0 1715.7,664.1 1715.7,684.3 1716.4,666.8 1716.4,684.6 1717.0,682.5 1717.0,665.1 1717.6,682.1 1717.6,666.3 1718.2,667.7 1718.2,682.2 1718.8,682.6 1718.8,663.5 1719.4,661.0 1719.4,681.7 1720.0,663.7 1720.0,683.0 1720.6,668.7 1720.6,691.3 1721.2,683.9 1721.2,658.9 1721.9,666.7 1721.9,684.4 1722.5,687.6 1722.5,665.0 1723.1,685.7 1723.1,669.8 1723.7,670.0 1723.7,691.4 1724.3,688.4 1724.3,669.6 1724.9,667.2 1724.9,686.7 1725.5,669.3 1725.5,691.5 1726.1,689.2 1726.1,666.5 1726.7,687.2 1726.7,665.5 1727.3,665.8 1727.3,687.2 1728.0,693.7 1728.0,672.6 1728.6,689.0 1728.6,672.3 1729.2,689.9 1729.2,672.4 1729.8,690.7 1729.8,675.5 1730.4,690.9 1730.4,673.4 1731.0,671.5 1731.0,692.9 1731.6,678.7 1731.6,697.9 1732.2,677.8 1732.2,695.0 1732.8,673.3 1732.8,691.4 1733.4,692.6 1733.4,677.1 1734.0,678.1 1734.0,694.2 1734.6,698.0 1734.6,678.1 1735.3,675.1 1735.3,696.7 1735.9,677.9 1735.9,700.3 1736.5,676.0 1736.5,695.8 1737.1,675.7 1737.1,695.7 1737.7,699.5 1737.7,678.5 1738.3,678.0 1738.3,700.7 1738.9,699.7 1738.9,682.1 1739.5,684.3 1739.5,704.9 1740.1,699.6 1740.1,680.4 1740.7,702.6 1740.7,683.1 1741.3,699.2 1741.3,680.6 1742.0,697.7 1742.0,685.0 1742.6,700.8 1742.6,682.5 1743.2,699.8 1743.2,682.6 1743.8,704.2 1743.8,682.3 1744.4,703.5 1744.4,682.3 1745.0,686.2 1745.0,710.9 1745.6,706.9 1745.6,684.4 1746.2,687.6 1746.2,710.5 1746.8,687.1 1746.8,706.2 1747.4,688.1 1747.4,705.7 1748.0,690.9 1748.0,706.6 1748.6,708.5 1748.6,684.0 1749.2,706.6 1749.2,689.4 1749.9,688.7 1749.9,708.7 1750.5,706.3 1750.5,694.8 1751.1,692.3 1751.1,711.1 1751.7,692.1 1751.7,709.6 1752.3,713.1 1752.3,690.5 1752.9,708.7 1752.9,690.3 1753.5,687.1 1753.5,711.0 1754.1,693.0 1754.1,709.1 1754.7,710.6 1754.7,686.0 1755.3,711.0 1755.3,692.2 1755.9,711.6 1755.9,696.6 1756.5,690.1 1756.5,715.9 1757.1,716.9 1757.1,696.5 1757.7,693.6 1757.7,714.3 1758.4,690.4 1758.4,715.4 1759.0,720.8 1759.0,691.4 1759.6,697.0 1759.6,719.0 1760.2,719.5 1760.2,699.6 1760.8,717.9 1760.8,696.1 1761.4,719.0 1761.4,701.3 1762.0,704.0 1762.0,722.8 1762.6,718.8 1762.6,701.5 1763.2,724.2 1763.2,699.2 1763.8,721.5 1763.8,701.8 1764.4,701.3 1764.4,722.4 1765.0,723.1 1765.0,694.6 1765.6,702.9 1765.6,728.0 1766.2,705.5 1766.2,724.7 1766.9,700.5 1766.9,720.3 1767.5,707.9 1767.5,725.2 1768.1,702.1 1768.1,725.0 1768.7,725.8 1768.7,706.0 1769.3,709.0 1769.3,731.7 1769.9,728.7 1769.9,707.4 1770.5,707.7 1770.5,728.7 1771.1,727.2 1771.1,709.8 1771.7,730.5 1771.7,706.8 1772.3,732.2 1772.3,714.2 1772.9,709.1 1772.9,732.2 1773.5,735.0 1773.5,710.2 1774.1,709.9 1774.1,733.4 1774.7,718.6 1774.7,738.9 1775.4,714.4 1775.4,737.8 1776.0,738.2 1776.0,715.0 1776.6,736.2 1776.6,713.6 1777.2,718.3 1777.2,747.0 1777.8,720.1 1777.8,740.2 1778.4,740.6 1778.4,715.5 1779.0,723.2 1779.0,747.6 1779.6,745.4 1779.6,722.8 1780.2,744.0 1780.2,724.0 1780.8,747.2 1780.8,727.1 1781.4,728.4 1781.4,744.7 1782.0,726.3 1782.0,751.5 1782.6,727.3 1782.6,749.5 1783.2,725.2 1783.2,750.5 1783.9,732.1 1783.9,754.7 1784.5,734.1 1784.5,757.4 1785.1,760.1 1785.1,739.7 1785.7,735.8 1785.7,758.7 1786.3,761.6 1786.3,737.6 1786.9,762.1 1786.9,740.7 1787.5,745.3 1787.5,766.1 1788.1,766.4 1788.1,738.7 1788.7,769.9 1788.7,743.7 1789.3,746.5 1789.3,771.3 1789.9,747.0 1789.9,772.5 1790.5,749.6 1790.5,770.5 1791.1,774.6 1791.1,754.9 1791.7,753.5 1791.7,778.5 1792.3,782.7 1792.3,750.9 1792.9,758.8 1792.9,785.4 1793.6,775.8 1793.6,755.8 1794.2,778.4 1794.2,758.4 1794.8,778.6 1794.8,754.4 1795.4,756.0 1795.4,781.9 1796.0,782.1 1796.0,757.2 1796.6,779.4 1796.6,756.8 1797.2,776.4 1797.2,754.0 1797.8,773.2 1797.8,755.6 1798.4,773.9 1798.4,744.1 1799.0,747.4 1799.0,768.3 1799.6,767.7 1799.6,747.9 1800.2,770.9 1800.2,745.1 1800.8,762.4 1800.8,744.5 1801.4,760.7 1801.4,737.5 1802.0,757.7 1802.0,737.8 1802.6,755.2 1802.6,735.9 1803.2,736.3 1803.2,751.6 1803.9,752.6 1803.9,673.4 1804.5,750.2 1804.5,632.2 1805.1,747.7 1805.1,729.4 1805.7,745.0 1805.7,723.6 1806.3,743.0 1806.3,720.7 1806.9,737.9 1806.9,719.6 1807.5,713.4 1807.5,734.8 1808.1,731.1 1808.1,716.0 1808.7,708.8 1808.7,732.7 1809.3,723.0 1809.3,701.6 1809.9,721.4 1809.9,703.9 1810.5,698.9 1810.5,721.6 1811.1,714.5 1811.1,697.7 1811.7,712.0 1811.7,693.4 1812.3,711.7 1812.3,694.1 1812.9,689.4 1812.9,705.5 1813.5,689.1 1813.5,702.6 1814.1,702.0 1814.1,685.2 1814.8,699.0 1814.8,684.6 1815.4,681.4 1815.4,697.6 1816.0,678.2 1816.0,695.1 1816.6,695.5 1816.6,673.4 1817.2,688.6 1817.2,674.3 1817.8,674.4 1817.8,686.9 1818.4,670.9 1818.4,686.5 1819.0,671.7 1819.0,682.7 1819.6,666.3 1819.6,681.6 1820.2,684.3 1820.2,665.3 1820.8,669.8 1820.8,682.8 1821.4,679.8 1821.4,669.3 1822.0,670.2 1822.0,683.2 1822.6,670.8 1822.6,685.4 1823.2,669.9 1823.2,689.0 1823.8,677.4 1823.8,690.6 1824.4,681.1 1824.4,700.9 1825.0,685.0 1825.0,701.5 1825.6,707.0 1825.6,689.4 1826.2,694.1 1826.2,709.3 1826.9,699.7 1826.9,714.0 1827.5,717.3 1827.5,701.4 1828.1,707.2 1828.1,724.3 1828.7,712.8 1828.7,727.3 1829.3,718.5 1829.3,732.3 1829.9,724.2 1829.9,735.8 1830.5,740.0 1830.5,727.2 1831.1,731.0 1831.1,744.9 1831.7,735.9 1831.7,749.5 1832.3,741.1 1832.3,752.8 1832.9,745.2 1832.9,756.5 1833.5,748.1 1833.5,759.1 1834.1,750.8 1834.1,764.0 1834.7,757.2 1834.7,766.9 1835.3,770.2 1835.3,760.3 1835.9,761.5 1835.9,773.3 1836.5,765.8 1836.5,775.1 1837.1,769.2 1837.1,778.8 1837.7,772.3 1837.7,782.2 1838.3,784.9 1838.3,773.1 1838.7,785.0 1838.7,776.3" stroke="#800080" stroke-width="10"/>
<polyline points="334.6,239.5 788.5,515.0 898.1,582.8 963.5,598.2 1010.3,592.3 1046.7,587.3 1076.6,581.4 1101.9,579.6 1123.9,576.6 1143.2,573.7 1160.6,570.7 1176.3,568.3 1190.7,565.7 1203.9,561.3 1216.1,560.0 1227.5,557.6 1238.2,554.3 1248.2,552.0 1257.6,552.6 1266.6,548.8 1275.0,550.7 1283.1,547.8 1290.8,543.0 1298.1,537.2 1305.2,529.2 1311.9,527.8 1318.4,532.0 1324.7,543.6 1330.7,474.1 1336.5,513.8 1342.1,505.6 1347.5,512.2 1352.8,525.6 1357.9,530.1 1362.8,531.6 1367.6,531.0 1372.3,533.4 1376.8,535.3 1381.3,539.4 1385.6,539.8 1389.8,539.3 1393.8,540.5 1397.8,543.9 1401.7,544.9 1405.5,542.6 1409.3,546.1 1412.9,548.4 1416.5,551.3 1420.0,549.7 1423.4,552.3 1426.7,552.4 1430.0,554.8 1433.2,554.8 1436.4,555.5 1439.5,557.8 1442.5,558.8 1445.5,559.2 1448.4,560.4 1451.3,561.3 1454.1,562.3 1456.9,564.6 1459.7,561.9 1462.4,562.8 1465.0,565.7 1467.6,567.2 1470.2,564.7 1472.7,565.4 1475.2,565.9 1477.7,565.5 1480.1,565.4 1482.5,566.3 1484.8,565.7 1487.2,566.0 1489.4,568.2 1491.7,567.5 1493.9,567.4 1496.1,567.5 1498.3,569.1 1500.4,567.0 1502.5,569.3 1504.6,572.1 1506.7,570.8 1508.7,569.1 1510.7,569.7 1512.7,571.6 1514.7,569.9 1516.6,573.2 1518.5,572.6 1520.4,572.9 1522.3,573.0 1524.1,575.1 1526.0,574.7 1527.8,572.9 1529.6,574.8 1531.4,577.5 1533.1,577.0 1534.8,577.1 1536.6,573.4 1538.3,576.5 1539.9,577.3 1541.6,579.1 1543.3,578.8 1544.9,579.2 1546.5,580.3 1548.1,577.0 1549.7,581.2 1551.3,579.5 1552.8,581.1 1554.4,581.6 1555.9,582.1 1557.4,581.7 1558.9,583.8 1560.4,584.0 1561.9,582.0 1563.3,583.7 1564.8,584.7 1566.2,583.4 1567.6,585.1 1569.1,586.8 1570.5,584.8 1571.8,587.5 1573.2,587.0 1574.6,587.5 1575.9,587.6 1577.3,588.4 1578.6,588.8 1579.9,590.7 1581.2,590.4 1582.5,591.0 1583.8,591.1 1585.1,592.6 1586.4,590.5 1587.7,592.2 1588.9,592.4 1590.1,591.9 1591.4,595.4 1592.6,595.7 1593.8,595.3 1595.0,594.8 1596.2,598.4 1597.4,594.2 1598.6,596.8 1599.8,597.0 1600.9,598.3 1602.1,597.4 1603.2,599.0 1604.4,597.9 1605.5,599.9 1606.6,600.6 1607.7,598.9 1608.9,601.0 1610.0,602.4 1611.0,601.3 1612.1,600.0 1613.2,602.5 1614.3,601.6 1615.4,604.5 1616.4,605.0 1617.5,606.4 1618.5,605.6 1619.6,605.0 1620.6,606.1 1621.6,606.4 1622.6,608.3 1623.7,604.7 1624.7,608.2 1625.7,611.1 1626.7,610.6 1627.6,609.3 1628.6,610.4 1629.6,612.1 1630.6,611.7 1631.5,609.9 1632.5,611.3 1633.5,615.2 1634.4,615.5 1635.4,612.5 1636.3,616.1 1637.2,616.1 1638.2,617.7 1639.1,616.1 1640.0,616.4 1640.9,617.7 1641.8,616.6 1642.7,621.9 1643.6,620.0 1644.5,620.8 1645.4,621.2 1646.3,621.0 1647.2,621.6 1648.1,625.1 1648.9,620.2 1649.8,624.8 1650.7,623.8 1651.5,626.2 1652.4,626.1 1653.2,625.3 1654.1,629.2 1654.9,625.7 1655.7,627.1 1656.6,627.3 1657.4,630.4 1658.2,633.2 1659.0,629.6 1659.8,631.8 1660.7,631.5 1661.5,631.7 1662.3,633.5 1663.1,630.8 1663.9,632.2 1664.7,634.1 1665.4,636.4 1666.2,633.7 1667.0,637.4 1667.8,637.2 1668.6,636.5 1669.3,637.8 1670.1,638.2 1670.9,636.3 1671.6,637.9 1672.4,639.9 1673.1,638.1 1673.9,639.9 1674.6,643.3 1675.4,641.9 1676.1,643.9 1676.8,643.6 1677.6,644.6 1678.3,646.2 1679.0,645.2 1679.7,644.9 1680.5,643.5 1681.2,645.7 1681.9,646.2 1682.6,647.2 1683.3,649.6 1684.0,646.9 1684.7,649.5 1685.4,649.4 1686.1,650.3 1686.8,651.6 1687.5,652.1 1688.2,651.8 1688.9,653.9 1689.5,652.8 1690.2,655.2 1690.9,655.4 1691.6,657.4 1692.2,654.5 1692.9,656.4 1693.6,656.8 1694.2,654.1 1694.9,655.6 1695.6,658.4 1696.2,657.2 1696.9,654.1 1697.5,658.6 1698.2,658.7 1698.8,660.0 1699.4,660.7 1700.1,663.0 1700.7,659.3 1701.4,658.0 1702.0,664.9 1702.6,662.6 1703.2,668.4 1703.9,661.2 1704.5,666.0 1705.1,661.4 1705.7,664.0 1706.3,671.0 1707.0,661.1 1707.6,665.9 1708.2,665.0 1708.8,669.5 1709.4,668.4 1710.0,663.1 1710.6,673.1 1711.2,671.2 1711.8,668.8 1712.4,666.9 1713.0,663.8 1713.6,669.8 1714.1,672.7 1714.7,675.2 1715.3,662.7 1715.9,671.5 1716.5,667.5 1717.0,676.0 1717.6,680.0 1718.2,673.9 1718.8,668.4 1719.3,672.8 1719.9,671.7 1720.5,676.6 1721.0,675.6 1721.6,675.3 1722.2,675.6 1722.7,681.7 1723.3,680.9 1723.8,689.6 1724.4,674.9 1724.9,674.3 1725.5,689.0 1726.0,686.5 1726.6,687.5 1727.1,672.0 1727.6,673.8 1728.2,686.9 1728.7,680.5 1729.3,681.3 1729.8,688.2 1730.3,683.0 1730.9,688.3 1731.4,693.4 1731.9,681.0 1732.4,678.1 1733.0,679.0 1733.5,681.9 1734.0,682.2 1734.5,688.2 1735.0,695.2 1735.6,685.1 1736.1,689.4 1736.6,687.5 1737.1,695.8 1737.6,695.7 1738.1,692.9 1738.6,696.3 1739.1,684.9 1739.6,691.0 1740.1,688.4 1740.6,689.1 1741.1,680.9 1741.6,685.3 1742.1,695.3 1742.6,686.1 1743.1,695.9 1743.6,697.8 1744.1,701.7 1744.6,693.6 1745.1,686.5 1745.6,684.7 1746.0,700.6 1746.5,696.8 1747.0,703.2 1747.5,697.1 1748.0,700.0 1748.4,698.9 1748.9,702.1 1749.4,701.8 1749.9,707.4 1750.3,700.0 1750.8,701.6 1751.3,698.5 1751.7,705.5 1752.2,704.9 1752.7,707.7 1753.1,696.0 1753.6,693.9 1754.1,708.6 1754.5,705.6 1755.0,702.2 1755.4,702.9 1755.9,701.0 1756.4,701.5 1756.8,705.8 1757.3,709.0 1757.7,704.6 1758.2,698.6 1758.6,707.4 1759.1,704.8 1759.5,701.6 1760.0,704.1 1760.4,709.6 1760.8,716.1 1761.3,717.5 1761.7,714.7 1762.2,720.3 1762.6,707.4 1763.0,721.7 1763.5,712.2 1763.9,713.9 1764.3,710.3 1764.8,712.8 1765.2,700.5 1765.6,718.1 1766.1,718.2 1766.5,715.9 1766.9,718.6 1767.3,712.5 1767.8,711.7 1768.2,720.7 1768.6,719.4 1769.0,713.2 1769.5,719.6 1769.9,721.2 1770.3,708.0 1770.7,717.4 1771.1,711.9 1771.5,720.2 1772.0,723.2 1772.4,719.4 1772.8,709.4 1773.2,719.7 1773.6,728.6 1774.0,710.2 1774.4,733.7 1774.8,726.9 1775.2,735.7 1775.6,731.0 1776.0,724.1 1776.4,715.0 1776.9,723.0 1777.3,735.1 1777.7,724.0 1778.1,733.5 1778.4,729.3 1778.8,739.4 1779.2,733.5 1779.6,732.6 1780.0,738.3 1780.4,732.6 1780.8,733.9 1781.2,738.8 1781.6,739.7 1782.0,740.1 1782.4,736.4 1782.8,743.9 1783.2,745.0 1783.5,743.8 1783.9,742.4 1784.3,748.6 1784.7,737.2 1785.1,750.6 1785.5,745.5 1785.8,747.1 1786.2,751.0 1786.6,751.9 1787.0,750.5 1787.4,761.8 1787.7,752.7 1788.1,766.7 1788.5,760.4 1788.9,764.3 1789.2,761.5 1789.6,766.4 1790.0,753.9 1790.3,763.9 1790.7,764.3 1791.1,755.2 1791.5,763.9 1791.8,764.9 1792.2,762.6 1792.6,770.1 1792.9,764.5 1793.3,764.4 1793.6,768.4 1794.0,760.2 1794.4,773.6 1794.7,763.6 1795.1,769.3 1795.5,760.4 1795.8,774.4 1796.2,768.2 1796.5,763.5 1796.9,764.3 1797.2,770.4 1797.6,760.1 1797.9,757.4 1798.3,760.8 1798.7,763.5 1799.0,747.7 1799.4,759.9 1799.7,763.6 1800.1,759.4 1800.4,749.0 1800.8,747.0 1801.1,754.7 1801.4,749.0 1801.8,753.6 1802.1,744.3 1802.5,755.5 1802.8,751.9 1803.2,741.3 1803.5,744.8 1803.9,673.7 1804.2,741.8 1804.5,742.9 1804.9,741.2 1805.2,742.7 1805.5,739.3 1805.9,730.1 1806.2,740.9 1806.6,727.0 1806.9,727.4 1807.2,717.2 1807.6,727.5 1807.9,717.7 1808.2,717.2 1808.6,728.4 1808.9,721.2 1809.2,706.7 1809.6,702.3 1809.9,719.2 1810.2,704.4 1810.5,707.7 1810.9,707.5 1811.2,709.6 1811.5,698.7 1811.8,702.6 1812.2,699.5 1812.5,695.3 1812.8,700.1 1813.1,694.4 1813.5,702.9 1813.8,695.0 1814.1,699.2 1814.4,692.9 1814.8,692.5 1815.1,693.2 1815.4,691.7 1815.7,683.9 1816.0,688.9 1816.3,683.6 1816.7,691.3 1817.0,687.6 1817.3,682.1 1817.6,678.3 1817.9,687.1 1818.2,678.7 1818.5,681.1 1818.9,678.4 1819.2,673.8 1819.5,678.3 1819.8,666.6 1820.1,675.3 1820.4,665.6 1820.7,674.4 1821.0,682.4 1821.3,676.7 1821.6,673.7 1821.9,676.2 1822.3,683.5 1822.6,673.0 1822.9,677.9 1823.2,678.8 1823.5,689.1 1823.8,686.3 1824.1,689.3 1824.4,693.4 1824.7,692.2 1825.0,694.8 1825.3,699.0 1825.6,698.5 1825.9,701.8 1826.2,700.8 1826.5,698.9 1826.8,701.8 1827.1,706.7 1827.4,715.3 1827.7,710.4 1828.0,718.2 1828.3,720.4 1828.5,719.6 1828.8,718.4 1829.1,728.2 1829.4,730.5 1829.7,727.1 1830.0,729.2 1830.3,733.1 1830.6,735.6 1830.9,738.0 1831.2,739.6 1831.5,739.3 1831.7,743.0 1832.0,749.7 1832.3,746.3 1832.6,750.0 1832.9,752.6 1833.2,753.1 1833.5,754.1 1833.8,759.4 1834.0,760.5 1834.3,761.2 1834.6,765.8 1834.9,762.4 1835.2,765.6 1835.5,764.5 1835.7,769.5 1836.0,767.6 1836.3,770.3 1836.6,773.4 1836.9,770.6 1837.1,771.5 1837.4,776.5 1837.7,781.0 1838.0,778.9 1838.3,782.0 1838.5,783.0" stroke="none" marker-start="url(#m4)" marker-mid="url(#m4)" marker-end="url(#m4)"/>
</g>
<g stroke="#000" stroke-width="10" fill="none" stroke-linecap="butt">
<path d="M273.7 55.8 V1412.5"/>
<path d="M1953.8 60.8 V1412.5"/>
<path d="M273.7 60.8 H1953.8"/>
<path d="M268.7 1407.5 H1958.8"/>
<path d="M273.7 1407.5 H247.3 M273.7 1272.83 H260.9 M273.7 1138.16 H247.3 M273.7 1003.49 H260.9 M273.7 868.82 H247.3 M273.7 734.15 H260.9 M273.7 599.48 H247.3 M273.7 464.81 H260.9 M273.7 330.14 H247.3 M273.7 195.47 H260.9 M273.7 60.8 H247.3"/>
<path d="M273.57 1407.5 V1420.3 M310.59 1407.5 V1420.3 M340.84 1407.5 V1420.3 M366.42 1407.5 V1420.3 M388.58 1407.5 V1420.3 M408.12 1407.5 V1420.3 M425.60 1407.5 V1433.9 M540.61 1407.5 V1420.3 M607.88 1407.5 V1420.3 M655.62 1407.5 V1420.3 M692.64 1407.5 V1420.3 M722.89 1407.5 V1420.3 M748.47 1407.5 V1420.3 M770.63 1407.5 V1420.3 M790.17 1407.5 V1420.3 M807.65 1407.5 V1433.9 M922.66 1407.5 V1420.3 M989.93 1407.5 V1420.3 M1037.67 1407.5 V1420.3 M1074.69 1407.5 V1420.3 M1104.94 1407.5 V1420.3 M1130.52 1407.5 V1420.3 M1152.68 1407.5 V1420.3 M1172.22 1407.5 V1420.3 M1189.70 1407.5 V1433.9 M1304.71 1407.5 V1420.3 M1371.98 1407.5 V1420.3 M1419.72 1407.5 V1420.3 M1456.74 1407.5 V1420.3 M1486.99 1407.5 V1420.3 M1512.57 1407.5 V1420.3 M1534.73 1407.5 V1420.3 M1554.27 1407.5 V1420.3 M1571.75 1407.5 V1433.9 M1686.76 1407.5 V1420.3 M1754.03 1407.5 V1420.3 M1801.77 1407.5 V1420.3 M1838.79 1407.5 V1420.3 M1869.04 1407.5 V1420.3 M1894.62 1407.5 V1420.3 M1916.78 1407.5 V1420.3 M1936.32 1407.5 V1420.3 M1953.80 1407.5 V1433.9"/>
</g>
<g font-size="70.3">
<text transform="translate(229.3 1428.40) scale(1 1.022)" text-anchor="end">0</text>
<text transform="translate(229.3 1158.96) scale(1 1.022)" text-anchor="end">2</text>
<text transform="translate(229.3 889.52) scale(1 1.022)" text-anchor="end">4</text>
<text transform="translate(229.3 620.08) scale(1 1.022)" text-anchor="end">6</text>
<text transform="translate(229.3 350.64) scale(1 1.022)" text-anchor="end">8</text>
<text transform="translate(229.3 81.20) scale(1 1.022)" text-anchor="end">10</text>
<text transform="translate(425.60 1506.8) scale(1 1.022)" text-anchor="middle">0.001</text>
<text transform="translate(807.65 1506.8) scale(1 1.022)" text-anchor="middle">0.01</text>
<text transform="translate(1189.70 1506.8) scale(1 1.022)" text-anchor="middle">0.1</text>
<text transform="translate(1571.75 1506.8) scale(1 1.022)" text-anchor="middle">1</text>
<text transform="translate(1953.80 1506.8) scale(1 1.022)" text-anchor="middle">10</text>
</g>
<text transform="translate(1114.6 1659.1) scale(1 1)" font-size="115" text-anchor="middle">Time / h</text>
<text transform="translate(138 733) rotate(-90) scale(1 1.015)" font-size="140.4" text-anchor="middle">Current / mA</text>
<path d="M295.8 883 H453.4" stroke="#000000" stroke-width="10" fill="none"/>
<g transform="translate(374.50 883.00)" fill="#fff" stroke="#000000" stroke-width="2.2" stroke-linejoin="round"><rect x="-13.6" y="-13.6" width="27.2" height="27.2"/></g>
<text transform="translate(478.3 906.6) scale(1 1.042)" font-size="83.5">5 V</text>
<path d="M295.8 989.05 H453.4" stroke="#ff0000" stroke-width="10" fill="none"/>
<g transform="translate(374.50 989.05)" fill="#fff" stroke="#ff0000" stroke-width="2.2" stroke-linejoin="round"><circle r="15.3"/></g>
<text transform="translate(478.3 1012.7) scale(1 1.042)" font-size="83.5">10 V</text>
<path d="M295.8 1095.1 H453.4" stroke="#0000ff" stroke-width="10" fill="none"/>
<g transform="translate(374.50 1095.10)" fill="#fff" stroke="#0000ff" stroke-width="2.2" stroke-linejoin="round"><path d="M0 -21.48 L18.60 10.74 H-18.60 Z"/></g>
<text transform="translate(478.3 1118.8) scale(1 1.042)" font-size="83.5">15 V</text>
<path d="M295.8 1201.15 H453.4" stroke="#008000" stroke-width="10" fill="none"/>
<g transform="translate(374.50 1201.15)" fill="#fff" stroke="#008000" stroke-width="2.2" stroke-linejoin="round"><path d="M0 21.48 L18.60 -10.74 H-18.60 Z"/></g>
<text transform="translate(478.3 1224.9) scale(1 1.042)" font-size="83.5">20 V</text>
<path d="M295.8 1307.2 H453.4" stroke="#800080" stroke-width="10" fill="none"/>
<g transform="translate(374.50 1307.20)" fill="#fff" stroke="#800080" stroke-width="2.2" stroke-linejoin="round"><path d="M0 -19.5 L19.5 0 L0 19.5 L-19.5 0 Z"/></g>
<text transform="translate(478.3 1331) scale(1 1.042)" font-size="83.5">25 V</text>
</svg></body></html>
